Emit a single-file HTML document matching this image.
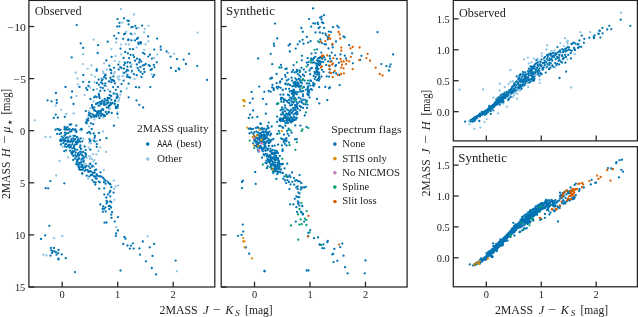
<!DOCTYPE html>
<html><head><meta charset="utf-8"><title>Color-magnitude diagrams</title>
<style>html,body{margin:0;padding:0;background:#fff;} svg{display:block;}</style></head>
<body><svg width="638" height="317" viewBox="0 0 638 317" font-family="'Liberation Serif', 'DejaVu Serif', serif" fill="#222"><line x1="470.5" y1="120.2" x2="474" y2="118.3" stroke="#0173b2" stroke-width="2.10" stroke-linecap="round"/>
<line x1="474" y1="118.3" x2="480.2" y2="114.9" stroke="#0173b2" stroke-width="2.70" stroke-linecap="round"/>
<line x1="480.2" y1="114.9" x2="489.1" y2="109.2" stroke="#0173b2" stroke-width="3.40" stroke-linecap="round"/>
<line x1="489.1" y1="109.2" x2="496.5" y2="103.3" stroke="#0173b2" stroke-width="4.00" stroke-linecap="round"/>
<line x1="496.5" y1="103.3" x2="504" y2="96.9" stroke="#0173b2" stroke-width="4.20" stroke-linecap="round"/>
<line x1="504" y1="96.9" x2="511.4" y2="92.2" stroke="#0173b2" stroke-width="4.00" stroke-linecap="round"/>
<line x1="511.4" y1="92.2" x2="518.8" y2="87.8" stroke="#0173b2" stroke-width="3.50" stroke-linecap="round"/>
<line x1="518.8" y1="87.8" x2="525" y2="84" stroke="#0173b2" stroke-width="2.85" stroke-linecap="round"/>
<line x1="474" y1="265" x2="482" y2="260.5" stroke="#0173b2" stroke-width="2.60" stroke-linecap="round"/>
<line x1="482" y1="260.5" x2="490" y2="254" stroke="#0173b2" stroke-width="3.50" stroke-linecap="round"/>
<line x1="490" y1="254" x2="497" y2="247" stroke="#0173b2" stroke-width="4.00" stroke-linecap="round"/>
<line x1="497" y1="247" x2="505" y2="238.5" stroke="#0173b2" stroke-width="4.10" stroke-linecap="round"/>
<line x1="505" y1="238.5" x2="513" y2="230" stroke="#0173b2" stroke-width="4.35" stroke-linecap="round"/>
<line x1="513" y1="230" x2="521" y2="222.5" stroke="#0173b2" stroke-width="4.50" stroke-linecap="round"/>
<line x1="521" y1="222.5" x2="529" y2="217" stroke="#0173b2" stroke-width="4.50" stroke-linecap="round"/>
<line x1="529" y1="217" x2="536" y2="212" stroke="#0173b2" stroke-width="4.25" stroke-linecap="round"/>
<line x1="536" y1="212" x2="542" y2="208" stroke="#0173b2" stroke-width="3.75" stroke-linecap="round"/>
<circle cx="50.3" cy="137.2" r="1.15" fill="#8dc2e2"/>
<circle cx="79.8" cy="129.8" r="1.15" fill="#8dc2e2"/>
<circle cx="81.2" cy="130.5" r="1.15" fill="#8dc2e2"/>
<circle cx="83.4" cy="138.6" r="1.15" fill="#8dc2e2"/>
<circle cx="78.6" cy="138.3" r="1.15" fill="#8dc2e2"/>
<circle cx="89.0" cy="126.4" r="1.15" fill="#8dc2e2"/>
<circle cx="93.2" cy="139.8" r="1.15" fill="#8dc2e2"/>
<circle cx="95.0" cy="142.0" r="1.15" fill="#8dc2e2"/>
<circle cx="84.6" cy="95.1" r="1.15" fill="#8dc2e2"/>
<circle cx="93.5" cy="101.5" r="1.15" fill="#8dc2e2"/>
<circle cx="90.3" cy="108.2" r="1.15" fill="#8dc2e2"/>
<circle cx="89.1" cy="111.1" r="1.15" fill="#8dc2e2"/>
<circle cx="110.2" cy="102.4" r="1.15" fill="#8dc2e2"/>
<circle cx="118.4" cy="101.2" r="1.15" fill="#8dc2e2"/>
<circle cx="117.4" cy="112.4" r="1.15" fill="#8dc2e2"/>
<circle cx="120.3" cy="94.7" r="1.15" fill="#8dc2e2"/>
<circle cx="62.5" cy="146.8" r="1.15" fill="#8dc2e2"/>
<circle cx="68.1" cy="157.4" r="1.15" fill="#8dc2e2"/>
<circle cx="59.5" cy="161.0" r="1.15" fill="#8dc2e2"/>
<circle cx="89.3" cy="142.7" r="1.15" fill="#8dc2e2"/>
<circle cx="90.9" cy="143.4" r="1.15" fill="#8dc2e2"/>
<circle cx="88.6" cy="147.7" r="1.15" fill="#8dc2e2"/>
<circle cx="92.9" cy="154.2" r="1.15" fill="#8dc2e2"/>
<circle cx="96.4" cy="154.4" r="1.15" fill="#8dc2e2"/>
<circle cx="98.5" cy="151.0" r="1.15" fill="#8dc2e2"/>
<circle cx="100.2" cy="147.4" r="1.15" fill="#8dc2e2"/>
<circle cx="88.5" cy="156.3" r="1.15" fill="#8dc2e2"/>
<circle cx="90.2" cy="156.5" r="1.15" fill="#8dc2e2"/>
<circle cx="94.4" cy="160.1" r="1.15" fill="#8dc2e2"/>
<circle cx="93.5" cy="161.3" r="1.15" fill="#8dc2e2"/>
<circle cx="96.7" cy="141.2" r="1.15" fill="#8dc2e2"/>
<circle cx="84.4" cy="164.1" r="1.15" fill="#8dc2e2"/>
<circle cx="85.4" cy="163.8" r="1.15" fill="#8dc2e2"/>
<circle cx="89.4" cy="164.2" r="1.15" fill="#8dc2e2"/>
<circle cx="93.9" cy="166.4" r="1.15" fill="#8dc2e2"/>
<circle cx="103.8" cy="169.8" r="1.15" fill="#8dc2e2"/>
<circle cx="88.0" cy="178.6" r="1.15" fill="#8dc2e2"/>
<circle cx="90.1" cy="163.3" r="1.15" fill="#8dc2e2"/>
<circle cx="104.1" cy="63.3" r="1.15" fill="#8dc2e2"/>
<circle cx="106.9" cy="69.6" r="1.15" fill="#8dc2e2"/>
<circle cx="103.5" cy="73.2" r="1.15" fill="#8dc2e2"/>
<circle cx="103.1" cy="71.7" r="1.15" fill="#8dc2e2"/>
<circle cx="114.8" cy="71.8" r="1.15" fill="#8dc2e2"/>
<circle cx="114.2" cy="73.4" r="1.15" fill="#8dc2e2"/>
<circle cx="117.6" cy="76.9" r="1.15" fill="#8dc2e2"/>
<circle cx="119.4" cy="76.3" r="1.15" fill="#8dc2e2"/>
<circle cx="118.6" cy="79.5" r="1.15" fill="#8dc2e2"/>
<circle cx="119.4" cy="79.6" r="1.15" fill="#8dc2e2"/>
<circle cx="123.1" cy="72.7" r="1.15" fill="#8dc2e2"/>
<circle cx="122.8" cy="76.0" r="1.15" fill="#8dc2e2"/>
<circle cx="131.6" cy="72.3" r="1.15" fill="#8dc2e2"/>
<circle cx="134.5" cy="79.0" r="1.15" fill="#8dc2e2"/>
<circle cx="127.3" cy="63.4" r="1.15" fill="#8dc2e2"/>
<circle cx="131.6" cy="64.6" r="1.15" fill="#8dc2e2"/>
<circle cx="101.3" cy="78.5" r="1.15" fill="#8dc2e2"/>
<circle cx="108.6" cy="81.6" r="1.15" fill="#8dc2e2"/>
<circle cx="124.3" cy="62.4" r="1.15" fill="#8dc2e2"/>
<circle cx="120.9" cy="9.2" r="1.15" fill="#8dc2e2"/>
<circle cx="93.7" cy="39.7" r="1.15" fill="#8dc2e2"/>
<circle cx="116.2" cy="42.6" r="1.15" fill="#8dc2e2"/>
<circle cx="121.0" cy="44.6" r="1.15" fill="#8dc2e2"/>
<circle cx="134.0" cy="14.5" r="1.15" fill="#8dc2e2"/>
<circle cx="148.5" cy="25.8" r="1.15" fill="#8dc2e2"/>
<circle cx="144.2" cy="32.4" r="1.15" fill="#8dc2e2"/>
<circle cx="132.0" cy="34.6" r="1.15" fill="#8dc2e2"/>
<circle cx="134.7" cy="33.8" r="1.15" fill="#8dc2e2"/>
<circle cx="126.3" cy="31.7" r="1.15" fill="#8dc2e2"/>
<circle cx="138.3" cy="28.0" r="1.15" fill="#8dc2e2"/>
<circle cx="144.8" cy="28.9" r="1.15" fill="#8dc2e2"/>
<circle cx="138.4" cy="37.5" r="1.15" fill="#8dc2e2"/>
<circle cx="128.9" cy="44.5" r="1.15" fill="#8dc2e2"/>
<circle cx="145.6" cy="44.4" r="1.15" fill="#8dc2e2"/>
<circle cx="148.4" cy="41.4" r="1.15" fill="#8dc2e2"/>
<circle cx="197.5" cy="32.6" r="1.15" fill="#8dc2e2"/>
<circle cx="122.2" cy="22.7" r="1.15" fill="#8dc2e2"/>
<circle cx="125.7" cy="44.2" r="1.15" fill="#8dc2e2"/>
<circle cx="83.1" cy="54.2" r="1.15" fill="#8dc2e2"/>
<circle cx="111.4" cy="49.1" r="1.15" fill="#8dc2e2"/>
<circle cx="115.5" cy="56.1" r="1.15" fill="#8dc2e2"/>
<circle cx="114.7" cy="60.9" r="1.15" fill="#8dc2e2"/>
<circle cx="82.9" cy="64.1" r="1.15" fill="#8dc2e2"/>
<circle cx="91.5" cy="65.3" r="1.15" fill="#8dc2e2"/>
<circle cx="119.4" cy="61.8" r="1.15" fill="#8dc2e2"/>
<circle cx="87.7" cy="68.8" r="1.15" fill="#8dc2e2"/>
<circle cx="75.7" cy="72.7" r="1.15" fill="#8dc2e2"/>
<circle cx="91.5" cy="74.8" r="1.15" fill="#8dc2e2"/>
<circle cx="95.1" cy="76.8" r="1.15" fill="#8dc2e2"/>
<circle cx="77.3" cy="78.6" r="1.15" fill="#8dc2e2"/>
<circle cx="94.6" cy="82.3" r="1.15" fill="#8dc2e2"/>
<circle cx="77.7" cy="84.5" r="1.15" fill="#8dc2e2"/>
<circle cx="90.0" cy="87.6" r="1.15" fill="#8dc2e2"/>
<circle cx="96.9" cy="88.9" r="1.15" fill="#8dc2e2"/>
<circle cx="106.1" cy="86.0" r="1.15" fill="#8dc2e2"/>
<circle cx="108.0" cy="89.7" r="1.15" fill="#8dc2e2"/>
<circle cx="98.9" cy="93.3" r="1.15" fill="#8dc2e2"/>
<circle cx="121.1" cy="54.3" r="1.15" fill="#8dc2e2"/>
<circle cx="136.7" cy="47.4" r="1.15" fill="#8dc2e2"/>
<circle cx="157.2" cy="54.4" r="1.15" fill="#8dc2e2"/>
<circle cx="154.2" cy="58.0" r="1.15" fill="#8dc2e2"/>
<circle cx="168.4" cy="52.9" r="1.15" fill="#8dc2e2"/>
<circle cx="174.2" cy="53.9" r="1.15" fill="#8dc2e2"/>
<circle cx="151.7" cy="74.4" r="1.15" fill="#8dc2e2"/>
<circle cx="126.7" cy="88.5" r="1.15" fill="#8dc2e2"/>
<circle cx="144.1" cy="49.8" r="1.15" fill="#8dc2e2"/>
<circle cx="34.7" cy="120.3" r="1.15" fill="#8dc2e2"/>
<circle cx="61.1" cy="109.8" r="1.15" fill="#8dc2e2"/>
<circle cx="66.3" cy="114.0" r="1.15" fill="#8dc2e2"/>
<circle cx="73.7" cy="113.4" r="1.15" fill="#8dc2e2"/>
<circle cx="55.7" cy="105.7" r="1.15" fill="#8dc2e2"/>
<circle cx="76.5" cy="96.1" r="1.15" fill="#8dc2e2"/>
<circle cx="45.4" cy="136.9" r="1.15" fill="#8dc2e2"/>
<circle cx="118.1" cy="117.6" r="1.15" fill="#8dc2e2"/>
<circle cx="103.1" cy="131.4" r="1.15" fill="#8dc2e2"/>
<circle cx="56.2" cy="175.5" r="1.15" fill="#8dc2e2"/>
<circle cx="106.0" cy="151.9" r="1.15" fill="#8dc2e2"/>
<circle cx="113.8" cy="180.6" r="1.15" fill="#8dc2e2"/>
<circle cx="118.1" cy="185.6" r="1.15" fill="#8dc2e2"/>
<circle cx="115.5" cy="186.5" r="1.15" fill="#8dc2e2"/>
<circle cx="114.1" cy="189.0" r="1.15" fill="#8dc2e2"/>
<circle cx="114.4" cy="199.8" r="1.15" fill="#8dc2e2"/>
<circle cx="116.1" cy="227.1" r="1.15" fill="#8dc2e2"/>
<circle cx="147.5" cy="236.3" r="1.15" fill="#8dc2e2"/>
<circle cx="176.9" cy="271.3" r="1.15" fill="#8dc2e2"/>
<circle cx="54.0" cy="238.1" r="1.15" fill="#8dc2e2"/>
<circle cx="62.3" cy="235.9" r="1.15" fill="#8dc2e2"/>
<circle cx="43.5" cy="254.7" r="1.15" fill="#8dc2e2"/>
<circle cx="46.5" cy="255.5" r="1.15" fill="#8dc2e2"/>
<circle cx="114.6" cy="101.3" r="1.15" fill="#8dc2e2"/>
<circle cx="98.4" cy="106.3" r="1.15" fill="#8dc2e2"/>
<circle cx="100.3" cy="106.0" r="1.15" fill="#8dc2e2"/>
<circle cx="119.4" cy="98.1" r="1.15" fill="#8dc2e2"/>
<circle cx="119.0" cy="100.2" r="1.15" fill="#8dc2e2"/>
<circle cx="109.7" cy="108.7" r="1.15" fill="#8dc2e2"/>
<circle cx="106.5" cy="102.3" r="1.15" fill="#8dc2e2"/>
<circle cx="115.2" cy="94.2" r="1.15" fill="#8dc2e2"/>
<circle cx="109.3" cy="109.0" r="1.15" fill="#8dc2e2"/>
<circle cx="107.5" cy="103.9" r="1.15" fill="#8dc2e2"/>
<circle cx="94.4" cy="119.5" r="1.15" fill="#8dc2e2"/>
<circle cx="103.2" cy="117.6" r="1.15" fill="#8dc2e2"/>
<circle cx="91.3" cy="118.0" r="1.15" fill="#8dc2e2"/>
<circle cx="115.6" cy="93.5" r="1.15" fill="#8dc2e2"/>
<circle cx="87.7" cy="171.9" r="1.15" fill="#8dc2e2"/>
<circle cx="77.8" cy="163.0" r="1.15" fill="#8dc2e2"/>
<circle cx="81.6" cy="161.5" r="1.15" fill="#8dc2e2"/>
<circle cx="71.6" cy="152.4" r="1.15" fill="#8dc2e2"/>
<circle cx="73.5" cy="151.0" r="1.15" fill="#8dc2e2"/>
<circle cx="78.9" cy="156.9" r="1.15" fill="#8dc2e2"/>
<circle cx="79.6" cy="165.6" r="1.15" fill="#8dc2e2"/>
<circle cx="86.4" cy="157.9" r="1.15" fill="#8dc2e2"/>
<circle cx="75.4" cy="157.2" r="1.15" fill="#8dc2e2"/>
<circle cx="90.0" cy="158.8" r="1.15" fill="#8dc2e2"/>
<circle cx="72.3" cy="153.8" r="1.15" fill="#8dc2e2"/>
<circle cx="80.0" cy="165.1" r="1.15" fill="#8dc2e2"/>
<circle cx="91.9" cy="158.9" r="1.15" fill="#8dc2e2"/>
<circle cx="92.6" cy="165.6" r="1.15" fill="#8dc2e2"/>
<circle cx="82.0" cy="158.6" r="1.15" fill="#8dc2e2"/>
<circle cx="84.3" cy="167.0" r="1.15" fill="#8dc2e2"/>
<circle cx="55.5" cy="129.7" r="1.15" fill="#0173b2"/>
<circle cx="57.4" cy="128.9" r="1.15" fill="#0173b2"/>
<circle cx="58.9" cy="129.3" r="1.15" fill="#0173b2"/>
<circle cx="59.3" cy="130.2" r="1.15" fill="#0173b2"/>
<circle cx="60.5" cy="129.8" r="1.15" fill="#0173b2"/>
<circle cx="57.2" cy="133.9" r="1.15" fill="#0173b2"/>
<circle cx="59.8" cy="134.1" r="1.15" fill="#0173b2"/>
<circle cx="61.0" cy="133.2" r="1.15" fill="#0173b2"/>
<circle cx="64.6" cy="126.9" r="1.15" fill="#0173b2"/>
<circle cx="65.9" cy="127.9" r="1.15" fill="#0173b2"/>
<circle cx="67.6" cy="127.1" r="1.15" fill="#0173b2"/>
<circle cx="64.5" cy="129.2" r="1.15" fill="#0173b2"/>
<circle cx="65.2" cy="129.5" r="1.15" fill="#0173b2"/>
<circle cx="66.8" cy="129.7" r="1.15" fill="#0173b2"/>
<circle cx="68.1" cy="129.4" r="1.15" fill="#0173b2"/>
<circle cx="69.7" cy="124.7" r="1.15" fill="#0173b2"/>
<circle cx="71.1" cy="124.4" r="1.15" fill="#0173b2"/>
<circle cx="69.6" cy="129.2" r="1.15" fill="#0173b2"/>
<circle cx="71.6" cy="130.1" r="1.15" fill="#0173b2"/>
<circle cx="72.9" cy="129.1" r="1.15" fill="#0173b2"/>
<circle cx="74.6" cy="130.0" r="1.15" fill="#0173b2"/>
<circle cx="76.2" cy="131.1" r="1.15" fill="#0173b2"/>
<circle cx="76.3" cy="132.1" r="1.15" fill="#0173b2"/>
<circle cx="75.4" cy="129.3" r="1.15" fill="#0173b2"/>
<circle cx="76.3" cy="125.6" r="1.15" fill="#0173b2"/>
<circle cx="64.9" cy="132.7" r="1.15" fill="#0173b2"/>
<circle cx="65.5" cy="134.5" r="1.15" fill="#0173b2"/>
<circle cx="66.4" cy="133.3" r="1.15" fill="#0173b2"/>
<circle cx="68.2" cy="133.2" r="1.15" fill="#0173b2"/>
<circle cx="69.8" cy="131.7" r="1.15" fill="#0173b2"/>
<circle cx="71.4" cy="131.4" r="1.15" fill="#0173b2"/>
<circle cx="64.4" cy="135.8" r="1.15" fill="#0173b2"/>
<circle cx="61.7" cy="136.6" r="1.15" fill="#0173b2"/>
<circle cx="63.1" cy="137.8" r="1.15" fill="#0173b2"/>
<circle cx="60.7" cy="139.4" r="1.15" fill="#0173b2"/>
<circle cx="61.9" cy="139.8" r="1.15" fill="#0173b2"/>
<circle cx="64.4" cy="139.5" r="1.15" fill="#0173b2"/>
<circle cx="65.8" cy="137.9" r="1.15" fill="#0173b2"/>
<circle cx="67.0" cy="137.3" r="1.15" fill="#0173b2"/>
<circle cx="68.4" cy="137.7" r="1.15" fill="#0173b2"/>
<circle cx="70.2" cy="136.3" r="1.15" fill="#0173b2"/>
<circle cx="73.5" cy="135.8" r="1.15" fill="#0173b2"/>
<circle cx="75.1" cy="135.9" r="1.15" fill="#0173b2"/>
<circle cx="76.9" cy="137.2" r="1.15" fill="#0173b2"/>
<circle cx="77.2" cy="137.4" r="1.15" fill="#0173b2"/>
<circle cx="73.4" cy="138.5" r="1.15" fill="#0173b2"/>
<circle cx="75.0" cy="139.2" r="1.15" fill="#0173b2"/>
<circle cx="71.7" cy="138.8" r="1.15" fill="#0173b2"/>
<circle cx="68.7" cy="140.7" r="1.15" fill="#0173b2"/>
<circle cx="67.5" cy="140.4" r="1.15" fill="#0173b2"/>
<circle cx="65.4" cy="140.8" r="1.15" fill="#0173b2"/>
<circle cx="68.6" cy="141.8" r="1.15" fill="#0173b2"/>
<circle cx="71.8" cy="140.8" r="1.15" fill="#0173b2"/>
<circle cx="72.8" cy="141.4" r="1.15" fill="#0173b2"/>
<circle cx="76.0" cy="141.8" r="1.15" fill="#0173b2"/>
<circle cx="78.0" cy="139.8" r="1.15" fill="#0173b2"/>
<circle cx="79.0" cy="140.4" r="1.15" fill="#0173b2"/>
<circle cx="80.6" cy="138.5" r="1.15" fill="#0173b2"/>
<circle cx="82.3" cy="141.3" r="1.15" fill="#0173b2"/>
<circle cx="81.2" cy="129.0" r="1.15" fill="#0173b2"/>
<circle cx="81.8" cy="129.3" r="1.15" fill="#0173b2"/>
<circle cx="85.9" cy="122.3" r="1.15" fill="#0173b2"/>
<circle cx="87.3" cy="121.1" r="1.15" fill="#0173b2"/>
<circle cx="86.7" cy="123.3" r="1.15" fill="#0173b2"/>
<circle cx="88.3" cy="120.3" r="1.15" fill="#0173b2"/>
<circle cx="90.9" cy="123.3" r="1.15" fill="#0173b2"/>
<circle cx="93.2" cy="124.2" r="1.15" fill="#0173b2"/>
<circle cx="91.7" cy="129.0" r="1.15" fill="#0173b2"/>
<circle cx="89.3" cy="132.0" r="1.15" fill="#0173b2"/>
<circle cx="87.5" cy="132.9" r="1.15" fill="#0173b2"/>
<circle cx="90.5" cy="133.4" r="1.15" fill="#0173b2"/>
<circle cx="93.8" cy="133.5" r="1.15" fill="#0173b2"/>
<circle cx="95.0" cy="135.9" r="1.15" fill="#0173b2"/>
<circle cx="89.5" cy="139.2" r="1.15" fill="#0173b2"/>
<circle cx="90.5" cy="140.8" r="1.15" fill="#0173b2"/>
<circle cx="94.6" cy="137.8" r="1.15" fill="#0173b2"/>
<circle cx="90.4" cy="99.0" r="1.15" fill="#0173b2"/>
<circle cx="94.1" cy="97.3" r="1.15" fill="#0173b2"/>
<circle cx="95.3" cy="96.5" r="1.15" fill="#0173b2"/>
<circle cx="96.7" cy="97.1" r="1.15" fill="#0173b2"/>
<circle cx="99.2" cy="96.2" r="1.15" fill="#0173b2"/>
<circle cx="99.6" cy="97.9" r="1.15" fill="#0173b2"/>
<circle cx="98.9" cy="94.5" r="1.15" fill="#0173b2"/>
<circle cx="117.5" cy="97.1" r="1.15" fill="#0173b2"/>
<circle cx="115.2" cy="100.9" r="1.15" fill="#0173b2"/>
<circle cx="115.9" cy="108.2" r="1.15" fill="#0173b2"/>
<circle cx="117.4" cy="113.9" r="1.15" fill="#0173b2"/>
<circle cx="111.7" cy="112.9" r="1.15" fill="#0173b2"/>
<circle cx="105.8" cy="104.6" r="1.15" fill="#0173b2"/>
<circle cx="107.7" cy="100.2" r="1.15" fill="#0173b2"/>
<circle cx="106.1" cy="100.5" r="1.15" fill="#0173b2"/>
<circle cx="104.1" cy="101.5" r="1.15" fill="#0173b2"/>
<circle cx="102.1" cy="100.7" r="1.15" fill="#0173b2"/>
<circle cx="101.4" cy="102.2" r="1.15" fill="#0173b2"/>
<circle cx="99.8" cy="102.0" r="1.15" fill="#0173b2"/>
<circle cx="97.8" cy="103.0" r="1.15" fill="#0173b2"/>
<circle cx="96.5" cy="103.7" r="1.15" fill="#0173b2"/>
<circle cx="96.0" cy="104.1" r="1.15" fill="#0173b2"/>
<circle cx="98.8" cy="105.3" r="1.15" fill="#0173b2"/>
<circle cx="100.5" cy="103.9" r="1.15" fill="#0173b2"/>
<circle cx="101.4" cy="103.8" r="1.15" fill="#0173b2"/>
<circle cx="103.6" cy="103.7" r="1.15" fill="#0173b2"/>
<circle cx="104.4" cy="103.0" r="1.15" fill="#0173b2"/>
<circle cx="110.2" cy="105.0" r="1.15" fill="#0173b2"/>
<circle cx="111.1" cy="104.2" r="1.15" fill="#0173b2"/>
<circle cx="112.3" cy="103.0" r="1.15" fill="#0173b2"/>
<circle cx="114.5" cy="103.6" r="1.15" fill="#0173b2"/>
<circle cx="109.0" cy="106.0" r="1.15" fill="#0173b2"/>
<circle cx="92.0" cy="105.2" r="1.15" fill="#0173b2"/>
<circle cx="92.3" cy="106.8" r="1.15" fill="#0173b2"/>
<circle cx="92.8" cy="108.3" r="1.15" fill="#0173b2"/>
<circle cx="94.3" cy="110.0" r="1.15" fill="#0173b2"/>
<circle cx="95.7" cy="111.1" r="1.15" fill="#0173b2"/>
<circle cx="97.1" cy="112.1" r="1.15" fill="#0173b2"/>
<circle cx="98.7" cy="111.4" r="1.15" fill="#0173b2"/>
<circle cx="100.4" cy="111.1" r="1.15" fill="#0173b2"/>
<circle cx="101.7" cy="109.6" r="1.15" fill="#0173b2"/>
<circle cx="103.2" cy="110.0" r="1.15" fill="#0173b2"/>
<circle cx="106.9" cy="107.4" r="1.15" fill="#0173b2"/>
<circle cx="85.8" cy="111.1" r="1.15" fill="#0173b2"/>
<circle cx="89.0" cy="113.1" r="1.15" fill="#0173b2"/>
<circle cx="90.6" cy="113.6" r="1.15" fill="#0173b2"/>
<circle cx="92.5" cy="114.4" r="1.15" fill="#0173b2"/>
<circle cx="93.6" cy="115.1" r="1.15" fill="#0173b2"/>
<circle cx="95.3" cy="116.0" r="1.15" fill="#0173b2"/>
<circle cx="96.3" cy="115.1" r="1.15" fill="#0173b2"/>
<circle cx="97.9" cy="114.1" r="1.15" fill="#0173b2"/>
<circle cx="99.8" cy="113.6" r="1.15" fill="#0173b2"/>
<circle cx="101.1" cy="113.1" r="1.15" fill="#0173b2"/>
<circle cx="102.9" cy="114.3" r="1.15" fill="#0173b2"/>
<circle cx="104.0" cy="115.0" r="1.15" fill="#0173b2"/>
<circle cx="88.7" cy="115.2" r="1.15" fill="#0173b2"/>
<circle cx="90.1" cy="115.8" r="1.15" fill="#0173b2"/>
<circle cx="91.6" cy="116.9" r="1.15" fill="#0173b2"/>
<circle cx="94.0" cy="116.8" r="1.15" fill="#0173b2"/>
<circle cx="96.4" cy="116.3" r="1.15" fill="#0173b2"/>
<circle cx="106.9" cy="114.0" r="1.15" fill="#0173b2"/>
<circle cx="108.6" cy="112.5" r="1.15" fill="#0173b2"/>
<circle cx="98.5" cy="115.7" r="1.15" fill="#0173b2"/>
<circle cx="101.4" cy="115.5" r="1.15" fill="#0173b2"/>
<circle cx="105.0" cy="115.9" r="1.15" fill="#0173b2"/>
<circle cx="60.1" cy="140.6" r="1.15" fill="#0173b2"/>
<circle cx="61.3" cy="141.3" r="1.15" fill="#0173b2"/>
<circle cx="63.2" cy="140.3" r="1.15" fill="#0173b2"/>
<circle cx="64.5" cy="141.4" r="1.15" fill="#0173b2"/>
<circle cx="65.4" cy="140.6" r="1.15" fill="#0173b2"/>
<circle cx="67.4" cy="141.5" r="1.15" fill="#0173b2"/>
<circle cx="68.4" cy="141.2" r="1.15" fill="#0173b2"/>
<circle cx="70.5" cy="141.9" r="1.15" fill="#0173b2"/>
<circle cx="71.3" cy="140.5" r="1.15" fill="#0173b2"/>
<circle cx="72.7" cy="141.7" r="1.15" fill="#0173b2"/>
<circle cx="74.4" cy="140.4" r="1.15" fill="#0173b2"/>
<circle cx="76.0" cy="142.5" r="1.15" fill="#0173b2"/>
<circle cx="77.8" cy="141.2" r="1.15" fill="#0173b2"/>
<circle cx="80.1" cy="141.8" r="1.15" fill="#0173b2"/>
<circle cx="60.9" cy="144.5" r="1.15" fill="#0173b2"/>
<circle cx="63.3" cy="143.2" r="1.15" fill="#0173b2"/>
<circle cx="65.3" cy="144.3" r="1.15" fill="#0173b2"/>
<circle cx="66.2" cy="144.0" r="1.15" fill="#0173b2"/>
<circle cx="68.2" cy="145.4" r="1.15" fill="#0173b2"/>
<circle cx="69.1" cy="144.7" r="1.15" fill="#0173b2"/>
<circle cx="70.6" cy="145.4" r="1.15" fill="#0173b2"/>
<circle cx="72.4" cy="144.2" r="1.15" fill="#0173b2"/>
<circle cx="73.9" cy="146.2" r="1.15" fill="#0173b2"/>
<circle cx="75.1" cy="144.7" r="1.15" fill="#0173b2"/>
<circle cx="76.8" cy="144.1" r="1.15" fill="#0173b2"/>
<circle cx="77.9" cy="142.6" r="1.15" fill="#0173b2"/>
<circle cx="64.8" cy="146.3" r="1.15" fill="#0173b2"/>
<circle cx="66.4" cy="147.1" r="1.15" fill="#0173b2"/>
<circle cx="68.3" cy="146.3" r="1.15" fill="#0173b2"/>
<circle cx="69.5" cy="147.7" r="1.15" fill="#0173b2"/>
<circle cx="70.8" cy="146.8" r="1.15" fill="#0173b2"/>
<circle cx="72.2" cy="148.3" r="1.15" fill="#0173b2"/>
<circle cx="74.1" cy="148.0" r="1.15" fill="#0173b2"/>
<circle cx="75.0" cy="149.4" r="1.15" fill="#0173b2"/>
<circle cx="77.2" cy="149.8" r="1.15" fill="#0173b2"/>
<circle cx="80.0" cy="147.2" r="1.15" fill="#0173b2"/>
<circle cx="81.1" cy="149.0" r="1.15" fill="#0173b2"/>
<circle cx="84.7" cy="146.5" r="1.15" fill="#0173b2"/>
<circle cx="85.6" cy="149.9" r="1.15" fill="#0173b2"/>
<circle cx="64.3" cy="151.2" r="1.15" fill="#0173b2"/>
<circle cx="66.1" cy="150.3" r="1.15" fill="#0173b2"/>
<circle cx="70.2" cy="150.7" r="1.15" fill="#0173b2"/>
<circle cx="71.3" cy="152.7" r="1.15" fill="#0173b2"/>
<circle cx="72.8" cy="152.6" r="1.15" fill="#0173b2"/>
<circle cx="74.4" cy="151.3" r="1.15" fill="#0173b2"/>
<circle cx="75.7" cy="152.6" r="1.15" fill="#0173b2"/>
<circle cx="77.8" cy="153.9" r="1.15" fill="#0173b2"/>
<circle cx="78.7" cy="152.8" r="1.15" fill="#0173b2"/>
<circle cx="80.2" cy="151.6" r="1.15" fill="#0173b2"/>
<circle cx="81.5" cy="152.3" r="1.15" fill="#0173b2"/>
<circle cx="83.1" cy="152.0" r="1.15" fill="#0173b2"/>
<circle cx="85.2" cy="153.1" r="1.15" fill="#0173b2"/>
<circle cx="86.0" cy="154.2" r="1.15" fill="#0173b2"/>
<circle cx="72.2" cy="154.4" r="1.15" fill="#0173b2"/>
<circle cx="73.4" cy="155.9" r="1.15" fill="#0173b2"/>
<circle cx="75.3" cy="155.2" r="1.15" fill="#0173b2"/>
<circle cx="76.5" cy="156.7" r="1.15" fill="#0173b2"/>
<circle cx="77.8" cy="155.7" r="1.15" fill="#0173b2"/>
<circle cx="79.3" cy="155.1" r="1.15" fill="#0173b2"/>
<circle cx="80.7" cy="154.1" r="1.15" fill="#0173b2"/>
<circle cx="82.4" cy="155.7" r="1.15" fill="#0173b2"/>
<circle cx="84.1" cy="157.4" r="1.15" fill="#0173b2"/>
<circle cx="85.7" cy="156.1" r="1.15" fill="#0173b2"/>
<circle cx="73.3" cy="159.9" r="1.15" fill="#0173b2"/>
<circle cx="75.2" cy="158.7" r="1.15" fill="#0173b2"/>
<circle cx="77.2" cy="160.0" r="1.15" fill="#0173b2"/>
<circle cx="78.4" cy="159.0" r="1.15" fill="#0173b2"/>
<circle cx="79.3" cy="158.4" r="1.15" fill="#0173b2"/>
<circle cx="81.5" cy="159.7" r="1.15" fill="#0173b2"/>
<circle cx="82.8" cy="158.4" r="1.15" fill="#0173b2"/>
<circle cx="83.7" cy="160.3" r="1.15" fill="#0173b2"/>
<circle cx="76.8" cy="162.1" r="1.15" fill="#0173b2"/>
<circle cx="79.2" cy="162.8" r="1.15" fill="#0173b2"/>
<circle cx="81.2" cy="162.1" r="1.15" fill="#0173b2"/>
<circle cx="83.5" cy="161.9" r="1.15" fill="#0173b2"/>
<circle cx="90.3" cy="149.7" r="1.15" fill="#0173b2"/>
<circle cx="96.8" cy="144.2" r="1.15" fill="#0173b2"/>
<circle cx="96.7" cy="146.8" r="1.15" fill="#0173b2"/>
<circle cx="89.9" cy="140.8" r="1.15" fill="#0173b2"/>
<circle cx="94.3" cy="140.9" r="1.15" fill="#0173b2"/>
<circle cx="80.4" cy="145.4" r="1.15" fill="#0173b2"/>
<circle cx="76.1" cy="163.9" r="1.15" fill="#0173b2"/>
<circle cx="77.6" cy="165.0" r="1.15" fill="#0173b2"/>
<circle cx="78.9" cy="164.4" r="1.15" fill="#0173b2"/>
<circle cx="80.3" cy="163.4" r="1.15" fill="#0173b2"/>
<circle cx="82.1" cy="164.9" r="1.15" fill="#0173b2"/>
<circle cx="78.6" cy="167.0" r="1.15" fill="#0173b2"/>
<circle cx="79.2" cy="167.3" r="1.15" fill="#0173b2"/>
<circle cx="81.3" cy="167.0" r="1.15" fill="#0173b2"/>
<circle cx="82.5" cy="165.7" r="1.15" fill="#0173b2"/>
<circle cx="83.7" cy="167.8" r="1.15" fill="#0173b2"/>
<circle cx="85.2" cy="166.7" r="1.15" fill="#0173b2"/>
<circle cx="86.5" cy="165.9" r="1.15" fill="#0173b2"/>
<circle cx="88.7" cy="166.3" r="1.15" fill="#0173b2"/>
<circle cx="90.1" cy="168.1" r="1.15" fill="#0173b2"/>
<circle cx="79.2" cy="169.0" r="1.15" fill="#0173b2"/>
<circle cx="80.1" cy="169.9" r="1.15" fill="#0173b2"/>
<circle cx="81.8" cy="169.8" r="1.15" fill="#0173b2"/>
<circle cx="82.8" cy="169.5" r="1.15" fill="#0173b2"/>
<circle cx="84.6" cy="170.8" r="1.15" fill="#0173b2"/>
<circle cx="85.8" cy="170.1" r="1.15" fill="#0173b2"/>
<circle cx="87.4" cy="169.8" r="1.15" fill="#0173b2"/>
<circle cx="88.6" cy="171.2" r="1.15" fill="#0173b2"/>
<circle cx="90.8" cy="171.4" r="1.15" fill="#0173b2"/>
<circle cx="92.3" cy="172.6" r="1.15" fill="#0173b2"/>
<circle cx="93.8" cy="173.0" r="1.15" fill="#0173b2"/>
<circle cx="94.7" cy="172.3" r="1.15" fill="#0173b2"/>
<circle cx="82.2" cy="173.2" r="1.15" fill="#0173b2"/>
<circle cx="82.4" cy="173.8" r="1.15" fill="#0173b2"/>
<circle cx="86.7" cy="175.7" r="1.15" fill="#0173b2"/>
<circle cx="89.4" cy="176.4" r="1.15" fill="#0173b2"/>
<circle cx="91.0" cy="175.0" r="1.15" fill="#0173b2"/>
<circle cx="92.4" cy="175.1" r="1.15" fill="#0173b2"/>
<circle cx="94.1" cy="176.5" r="1.15" fill="#0173b2"/>
<circle cx="95.5" cy="176.5" r="1.15" fill="#0173b2"/>
<circle cx="96.6" cy="174.2" r="1.15" fill="#0173b2"/>
<circle cx="97.1" cy="175.7" r="1.15" fill="#0173b2"/>
<circle cx="98.9" cy="176.1" r="1.15" fill="#0173b2"/>
<circle cx="100.1" cy="176.4" r="1.15" fill="#0173b2"/>
<circle cx="101.6" cy="176.7" r="1.15" fill="#0173b2"/>
<circle cx="95.8" cy="178.4" r="1.15" fill="#0173b2"/>
<circle cx="96.8" cy="178.6" r="1.15" fill="#0173b2"/>
<circle cx="103.2" cy="177.9" r="1.15" fill="#0173b2"/>
<circle cx="104.3" cy="179.5" r="1.15" fill="#0173b2"/>
<circle cx="105.5" cy="180.6" r="1.15" fill="#0173b2"/>
<circle cx="107.6" cy="181.6" r="1.15" fill="#0173b2"/>
<circle cx="108.8" cy="183.1" r="1.15" fill="#0173b2"/>
<circle cx="110.1" cy="183.9" r="1.15" fill="#0173b2"/>
<circle cx="92.4" cy="180.1" r="1.15" fill="#0173b2"/>
<circle cx="93.9" cy="182.2" r="1.15" fill="#0173b2"/>
<circle cx="95.6" cy="182.3" r="1.15" fill="#0173b2"/>
<circle cx="98.8" cy="181.6" r="1.15" fill="#0173b2"/>
<circle cx="99.9" cy="182.3" r="1.15" fill="#0173b2"/>
<circle cx="104.0" cy="182.2" r="1.15" fill="#0173b2"/>
<circle cx="105.6" cy="183.7" r="1.15" fill="#0173b2"/>
<circle cx="95.3" cy="184.5" r="1.15" fill="#0173b2"/>
<circle cx="92.0" cy="166.3" r="1.15" fill="#0173b2"/>
<circle cx="95.8" cy="163.6" r="1.15" fill="#0173b2"/>
<circle cx="96.2" cy="169.6" r="1.15" fill="#0173b2"/>
<circle cx="100.5" cy="172.3" r="1.15" fill="#0173b2"/>
<circle cx="110.4" cy="184.6" r="1.15" fill="#0173b2"/>
<circle cx="109.4" cy="65.7" r="1.15" fill="#0173b2"/>
<circle cx="114.1" cy="67.8" r="1.15" fill="#0173b2"/>
<circle cx="110.2" cy="69.5" r="1.15" fill="#0173b2"/>
<circle cx="111.2" cy="70.4" r="1.15" fill="#0173b2"/>
<circle cx="111.2" cy="73.2" r="1.15" fill="#0173b2"/>
<circle cx="118.3" cy="64.7" r="1.15" fill="#0173b2"/>
<circle cx="118.7" cy="69.4" r="1.15" fill="#0173b2"/>
<circle cx="120.3" cy="67.2" r="1.15" fill="#0173b2"/>
<circle cx="121.4" cy="68.0" r="1.15" fill="#0173b2"/>
<circle cx="124.1" cy="65.1" r="1.15" fill="#0173b2"/>
<circle cx="123.9" cy="68.6" r="1.15" fill="#0173b2"/>
<circle cx="125.0" cy="63.0" r="1.15" fill="#0173b2"/>
<circle cx="127.3" cy="66.7" r="1.15" fill="#0173b2"/>
<circle cx="127.0" cy="69.8" r="1.15" fill="#0173b2"/>
<circle cx="128.0" cy="70.5" r="1.15" fill="#0173b2"/>
<circle cx="126.2" cy="71.6" r="1.15" fill="#0173b2"/>
<circle cx="130.8" cy="66.7" r="1.15" fill="#0173b2"/>
<circle cx="131.9" cy="70.8" r="1.15" fill="#0173b2"/>
<circle cx="127.5" cy="74.8" r="1.15" fill="#0173b2"/>
<circle cx="126.9" cy="76.8" r="1.15" fill="#0173b2"/>
<circle cx="128.8" cy="77.2" r="1.15" fill="#0173b2"/>
<circle cx="130.2" cy="77.7" r="1.15" fill="#0173b2"/>
<circle cx="124.3" cy="72.9" r="1.15" fill="#0173b2"/>
<circle cx="133.9" cy="74.1" r="1.15" fill="#0173b2"/>
<circle cx="136.7" cy="75.2" r="1.15" fill="#0173b2"/>
<circle cx="136.8" cy="64.5" r="1.15" fill="#0173b2"/>
<circle cx="137.7" cy="68.0" r="1.15" fill="#0173b2"/>
<circle cx="140.6" cy="71.9" r="1.15" fill="#0173b2"/>
<circle cx="141.5" cy="76.9" r="1.15" fill="#0173b2"/>
<circle cx="138.9" cy="70.3" r="1.15" fill="#0173b2"/>
<circle cx="140.5" cy="67.0" r="1.15" fill="#0173b2"/>
<circle cx="143.0" cy="65.4" r="1.15" fill="#0173b2"/>
<circle cx="144.5" cy="65.1" r="1.15" fill="#0173b2"/>
<circle cx="145.7" cy="63.9" r="1.15" fill="#0173b2"/>
<circle cx="144.0" cy="69.1" r="1.15" fill="#0173b2"/>
<circle cx="144.5" cy="71.9" r="1.15" fill="#0173b2"/>
<circle cx="142.6" cy="73.8" r="1.15" fill="#0173b2"/>
<circle cx="105.6" cy="74.7" r="1.15" fill="#0173b2"/>
<circle cx="105.1" cy="75.5" r="1.15" fill="#0173b2"/>
<circle cx="104.1" cy="77.2" r="1.15" fill="#0173b2"/>
<circle cx="106.0" cy="78.4" r="1.15" fill="#0173b2"/>
<circle cx="102.6" cy="79.3" r="1.15" fill="#0173b2"/>
<circle cx="101.9" cy="80.6" r="1.15" fill="#0173b2"/>
<circle cx="101.1" cy="82.6" r="1.15" fill="#0173b2"/>
<circle cx="102.5" cy="83.7" r="1.15" fill="#0173b2"/>
<circle cx="105.4" cy="83.4" r="1.15" fill="#0173b2"/>
<circle cx="110.4" cy="77.7" r="1.15" fill="#0173b2"/>
<circle cx="113.4" cy="76.4" r="1.15" fill="#0173b2"/>
<circle cx="109.1" cy="81.3" r="1.15" fill="#0173b2"/>
<circle cx="111.1" cy="79.7" r="1.15" fill="#0173b2"/>
<circle cx="112.5" cy="80.0" r="1.15" fill="#0173b2"/>
<circle cx="113.7" cy="80.7" r="1.15" fill="#0173b2"/>
<circle cx="114.2" cy="81.1" r="1.15" fill="#0173b2"/>
<circle cx="111.4" cy="82.2" r="1.15" fill="#0173b2"/>
<circle cx="114.9" cy="83.4" r="1.15" fill="#0173b2"/>
<circle cx="123.6" cy="80.6" r="1.15" fill="#0173b2"/>
<circle cx="121.6" cy="84.1" r="1.15" fill="#0173b2"/>
<circle cx="128.6" cy="83.7" r="1.15" fill="#0173b2"/>
<circle cx="130.1" cy="62.7" r="1.15" fill="#0173b2"/>
<circle cx="139.1" cy="62.4" r="1.15" fill="#0173b2"/>
<circle cx="76.7" cy="25.1" r="1.15" fill="#0173b2"/>
<circle cx="117.5" cy="19.1" r="1.15" fill="#0173b2"/>
<circle cx="119.5" cy="22.8" r="1.15" fill="#0173b2"/>
<circle cx="117.2" cy="26.6" r="1.15" fill="#0173b2"/>
<circle cx="119.4" cy="26.3" r="1.15" fill="#0173b2"/>
<circle cx="118.6" cy="33.1" r="1.15" fill="#0173b2"/>
<circle cx="114.2" cy="35.8" r="1.15" fill="#0173b2"/>
<circle cx="116.4" cy="38.6" r="1.15" fill="#0173b2"/>
<circle cx="80.7" cy="43.4" r="1.15" fill="#0173b2"/>
<circle cx="98.1" cy="45.2" r="1.15" fill="#0173b2"/>
<circle cx="107.7" cy="41.7" r="1.15" fill="#0173b2"/>
<circle cx="124.0" cy="18.4" r="1.15" fill="#0173b2"/>
<circle cx="127.5" cy="20.7" r="1.15" fill="#0173b2"/>
<circle cx="128.8" cy="20.9" r="1.15" fill="#0173b2"/>
<circle cx="128.6" cy="24.3" r="1.15" fill="#0173b2"/>
<circle cx="131.4" cy="27.3" r="1.15" fill="#0173b2"/>
<circle cx="132.7" cy="26.8" r="1.15" fill="#0173b2"/>
<circle cx="135.3" cy="25.8" r="1.15" fill="#0173b2"/>
<circle cx="136.3" cy="28.3" r="1.15" fill="#0173b2"/>
<circle cx="142.1" cy="25.6" r="1.15" fill="#0173b2"/>
<circle cx="124.1" cy="34.2" r="1.15" fill="#0173b2"/>
<circle cx="125.2" cy="33.6" r="1.15" fill="#0173b2"/>
<circle cx="130.7" cy="33.7" r="1.15" fill="#0173b2"/>
<circle cx="123.2" cy="38.8" r="1.15" fill="#0173b2"/>
<circle cx="128.5" cy="39.5" r="1.15" fill="#0173b2"/>
<circle cx="128.1" cy="40.1" r="1.15" fill="#0173b2"/>
<circle cx="131.4" cy="40.3" r="1.15" fill="#0173b2"/>
<circle cx="134.9" cy="40.4" r="1.15" fill="#0173b2"/>
<circle cx="136.9" cy="39.0" r="1.15" fill="#0173b2"/>
<circle cx="137.7" cy="38.2" r="1.15" fill="#0173b2"/>
<circle cx="138.4" cy="42.7" r="1.15" fill="#0173b2"/>
<circle cx="140.2" cy="42.6" r="1.15" fill="#0173b2"/>
<circle cx="140.8" cy="42.2" r="1.15" fill="#0173b2"/>
<circle cx="138.6" cy="44.1" r="1.15" fill="#0173b2"/>
<circle cx="140.7" cy="43.6" r="1.15" fill="#0173b2"/>
<circle cx="148.2" cy="36.3" r="1.15" fill="#0173b2"/>
<circle cx="157.1" cy="38.6" r="1.15" fill="#0173b2"/>
<circle cx="160.7" cy="46.7" r="1.15" fill="#0173b2"/>
<circle cx="83.2" cy="47.9" r="1.15" fill="#0173b2"/>
<circle cx="97.7" cy="53.0" r="1.15" fill="#0173b2"/>
<circle cx="71.7" cy="57.4" r="1.15" fill="#0173b2"/>
<circle cx="111.6" cy="56.8" r="1.15" fill="#0173b2"/>
<circle cx="120.5" cy="48.6" r="1.15" fill="#0173b2"/>
<circle cx="106.3" cy="60.5" r="1.15" fill="#0173b2"/>
<circle cx="96.8" cy="69.5" r="1.15" fill="#0173b2"/>
<circle cx="96.6" cy="70.8" r="1.15" fill="#0173b2"/>
<circle cx="83.3" cy="75.0" r="1.15" fill="#0173b2"/>
<circle cx="98.6" cy="79.6" r="1.15" fill="#0173b2"/>
<circle cx="83.2" cy="81.8" r="1.15" fill="#0173b2"/>
<circle cx="89.2" cy="82.0" r="1.15" fill="#0173b2"/>
<circle cx="88.4" cy="86.0" r="1.15" fill="#0173b2"/>
<circle cx="86.2" cy="88.1" r="1.15" fill="#0173b2"/>
<circle cx="87.2" cy="89.9" r="1.15" fill="#0173b2"/>
<circle cx="93.4" cy="89.8" r="1.15" fill="#0173b2"/>
<circle cx="96.9" cy="82.9" r="1.15" fill="#0173b2"/>
<circle cx="98.9" cy="84.7" r="1.15" fill="#0173b2"/>
<circle cx="100.7" cy="87.3" r="1.15" fill="#0173b2"/>
<circle cx="104.6" cy="85.6" r="1.15" fill="#0173b2"/>
<circle cx="102.9" cy="88.1" r="1.15" fill="#0173b2"/>
<circle cx="100.2" cy="90.8" r="1.15" fill="#0173b2"/>
<circle cx="104.6" cy="90.7" r="1.15" fill="#0173b2"/>
<circle cx="113.1" cy="87.1" r="1.15" fill="#0173b2"/>
<circle cx="115.8" cy="89.8" r="1.15" fill="#0173b2"/>
<circle cx="117.9" cy="86.9" r="1.15" fill="#0173b2"/>
<circle cx="65.5" cy="87.0" r="1.15" fill="#0173b2"/>
<circle cx="72.1" cy="91.5" r="1.15" fill="#0173b2"/>
<circle cx="79.5" cy="86.9" r="1.15" fill="#0173b2"/>
<circle cx="55.9" cy="93.0" r="1.15" fill="#0173b2"/>
<circle cx="110.2" cy="91.6" r="1.15" fill="#0173b2"/>
<circle cx="120.9" cy="91.4" r="1.15" fill="#0173b2"/>
<circle cx="129.9" cy="49.1" r="1.15" fill="#0173b2"/>
<circle cx="133.0" cy="49.2" r="1.15" fill="#0173b2"/>
<circle cx="125.2" cy="52.0" r="1.15" fill="#0173b2"/>
<circle cx="127.9" cy="53.3" r="1.15" fill="#0173b2"/>
<circle cx="130.6" cy="54.8" r="1.15" fill="#0173b2"/>
<circle cx="133.3" cy="55.1" r="1.15" fill="#0173b2"/>
<circle cx="134.0" cy="57.1" r="1.15" fill="#0173b2"/>
<circle cx="129.1" cy="58.1" r="1.15" fill="#0173b2"/>
<circle cx="123.6" cy="58.0" r="1.15" fill="#0173b2"/>
<circle cx="127.6" cy="62.1" r="1.15" fill="#0173b2"/>
<circle cx="135.0" cy="60.7" r="1.15" fill="#0173b2"/>
<circle cx="136.9" cy="58.7" r="1.15" fill="#0173b2"/>
<circle cx="140.1" cy="60.1" r="1.15" fill="#0173b2"/>
<circle cx="141.3" cy="61.6" r="1.15" fill="#0173b2"/>
<circle cx="139.4" cy="59.3" r="1.15" fill="#0173b2"/>
<circle cx="142.9" cy="52.8" r="1.15" fill="#0173b2"/>
<circle cx="144.5" cy="53.9" r="1.15" fill="#0173b2"/>
<circle cx="148.2" cy="56.6" r="1.15" fill="#0173b2"/>
<circle cx="150.0" cy="54.7" r="1.15" fill="#0173b2"/>
<circle cx="151.9" cy="58.6" r="1.15" fill="#0173b2"/>
<circle cx="154.2" cy="49.6" r="1.15" fill="#0173b2"/>
<circle cx="160.8" cy="49.7" r="1.15" fill="#0173b2"/>
<circle cx="156.8" cy="62.3" r="1.15" fill="#0173b2"/>
<circle cx="153.8" cy="64.9" r="1.15" fill="#0173b2"/>
<circle cx="154.4" cy="67.3" r="1.15" fill="#0173b2"/>
<circle cx="149.8" cy="66.0" r="1.15" fill="#0173b2"/>
<circle cx="151.8" cy="69.2" r="1.15" fill="#0173b2"/>
<circle cx="148.7" cy="65.1" r="1.15" fill="#0173b2"/>
<circle cx="150.7" cy="69.9" r="1.15" fill="#0173b2"/>
<circle cx="153.0" cy="76.8" r="1.15" fill="#0173b2"/>
<circle cx="154.2" cy="75.0" r="1.15" fill="#0173b2"/>
<circle cx="135.9" cy="87.2" r="1.15" fill="#0173b2"/>
<circle cx="139.2" cy="87.4" r="1.15" fill="#0173b2"/>
<circle cx="150.3" cy="87.1" r="1.15" fill="#0173b2"/>
<circle cx="166.6" cy="51.4" r="1.15" fill="#0173b2"/>
<circle cx="170.6" cy="56.6" r="1.15" fill="#0173b2"/>
<circle cx="176.9" cy="59.1" r="1.15" fill="#0173b2"/>
<circle cx="183.6" cy="59.6" r="1.15" fill="#0173b2"/>
<circle cx="189.1" cy="53.8" r="1.15" fill="#0173b2"/>
<circle cx="186.0" cy="64.0" r="1.15" fill="#0173b2"/>
<circle cx="197.2" cy="66.1" r="1.15" fill="#0173b2"/>
<circle cx="171.0" cy="67.9" r="1.15" fill="#0173b2"/>
<circle cx="175.8" cy="71.0" r="1.15" fill="#0173b2"/>
<circle cx="179.3" cy="69.4" r="1.15" fill="#0173b2"/>
<circle cx="178.7" cy="68.4" r="1.15" fill="#0173b2"/>
<circle cx="207.0" cy="79.9" r="1.15" fill="#0173b2"/>
<circle cx="47.6" cy="100.3" r="1.15" fill="#0173b2"/>
<circle cx="51.5" cy="101.3" r="1.15" fill="#0173b2"/>
<circle cx="56.7" cy="100.2" r="1.15" fill="#0173b2"/>
<circle cx="56.8" cy="102.9" r="1.15" fill="#0173b2"/>
<circle cx="71.3" cy="97.5" r="1.15" fill="#0173b2"/>
<circle cx="73.5" cy="104.0" r="1.15" fill="#0173b2"/>
<circle cx="55.7" cy="114.6" r="1.15" fill="#0173b2"/>
<circle cx="53.8" cy="117.9" r="1.15" fill="#0173b2"/>
<circle cx="57.9" cy="117.7" r="1.15" fill="#0173b2"/>
<circle cx="64.8" cy="116.9" r="1.15" fill="#0173b2"/>
<circle cx="113.9" cy="125.7" r="1.15" fill="#0173b2"/>
<circle cx="98.9" cy="132.9" r="1.15" fill="#0173b2"/>
<circle cx="100.0" cy="140.1" r="1.15" fill="#0173b2"/>
<circle cx="106.5" cy="138.2" r="1.15" fill="#0173b2"/>
<circle cx="128.7" cy="97.3" r="1.15" fill="#0173b2"/>
<circle cx="136.5" cy="100.4" r="1.15" fill="#0173b2"/>
<circle cx="139.3" cy="104.8" r="1.15" fill="#0173b2"/>
<circle cx="143.1" cy="107.5" r="1.15" fill="#0173b2"/>
<circle cx="50.3" cy="181.1" r="1.15" fill="#0173b2"/>
<circle cx="64.3" cy="183.3" r="1.15" fill="#0173b2"/>
<circle cx="111.4" cy="187.2" r="1.15" fill="#0173b2"/>
<circle cx="99.2" cy="188.7" r="1.15" fill="#0173b2"/>
<circle cx="104.2" cy="188.3" r="1.15" fill="#0173b2"/>
<circle cx="110.3" cy="191.0" r="1.15" fill="#0173b2"/>
<circle cx="109.6" cy="192.5" r="1.15" fill="#0173b2"/>
<circle cx="113.6" cy="192.6" r="1.15" fill="#0173b2"/>
<circle cx="104.3" cy="194.6" r="1.15" fill="#0173b2"/>
<circle cx="107.9" cy="194.4" r="1.15" fill="#0173b2"/>
<circle cx="110.3" cy="196.3" r="1.15" fill="#0173b2"/>
<circle cx="106.3" cy="197.5" r="1.15" fill="#0173b2"/>
<circle cx="106.6" cy="200.9" r="1.15" fill="#0173b2"/>
<circle cx="107.3" cy="201.9" r="1.15" fill="#0173b2"/>
<circle cx="110.2" cy="201.4" r="1.15" fill="#0173b2"/>
<circle cx="111.3" cy="202.2" r="1.15" fill="#0173b2"/>
<circle cx="106.6" cy="203.5" r="1.15" fill="#0173b2"/>
<circle cx="100.3" cy="204.5" r="1.15" fill="#0173b2"/>
<circle cx="103.1" cy="206.5" r="1.15" fill="#0173b2"/>
<circle cx="105.4" cy="207.3" r="1.15" fill="#0173b2"/>
<circle cx="108.8" cy="206.2" r="1.15" fill="#0173b2"/>
<circle cx="109.9" cy="206.0" r="1.15" fill="#0173b2"/>
<circle cx="111.1" cy="207.5" r="1.15" fill="#0173b2"/>
<circle cx="109.3" cy="209.2" r="1.15" fill="#0173b2"/>
<circle cx="102.6" cy="208.8" r="1.15" fill="#0173b2"/>
<circle cx="104.1" cy="209.0" r="1.15" fill="#0173b2"/>
<circle cx="102.9" cy="211.7" r="1.15" fill="#0173b2"/>
<circle cx="105.7" cy="211.5" r="1.15" fill="#0173b2"/>
<circle cx="112.0" cy="212.2" r="1.15" fill="#0173b2"/>
<circle cx="111.3" cy="214.7" r="1.15" fill="#0173b2"/>
<circle cx="111.5" cy="217.9" r="1.15" fill="#0173b2"/>
<circle cx="118.0" cy="217.1" r="1.15" fill="#0173b2"/>
<circle cx="104.5" cy="222.7" r="1.15" fill="#0173b2"/>
<circle cx="106.5" cy="222.5" r="1.15" fill="#0173b2"/>
<circle cx="114.8" cy="221.6" r="1.15" fill="#0173b2"/>
<circle cx="117.9" cy="230.5" r="1.15" fill="#0173b2"/>
<circle cx="116.2" cy="233.5" r="1.15" fill="#0173b2"/>
<circle cx="115.8" cy="235.9" r="1.15" fill="#0173b2"/>
<circle cx="124.4" cy="237.0" r="1.15" fill="#0173b2"/>
<circle cx="125.5" cy="238.7" r="1.15" fill="#0173b2"/>
<circle cx="123.2" cy="244.0" r="1.15" fill="#0173b2"/>
<circle cx="127.5" cy="245.5" r="1.15" fill="#0173b2"/>
<circle cx="130.9" cy="245.7" r="1.15" fill="#0173b2"/>
<circle cx="132.9" cy="243.3" r="1.15" fill="#0173b2"/>
<circle cx="129.9" cy="248.6" r="1.15" fill="#0173b2"/>
<circle cx="133.7" cy="248.6" r="1.15" fill="#0173b2"/>
<circle cx="139.4" cy="248.4" r="1.15" fill="#0173b2"/>
<circle cx="142.8" cy="241.5" r="1.15" fill="#0173b2"/>
<circle cx="140.0" cy="254.6" r="1.15" fill="#0173b2"/>
<circle cx="149.8" cy="247.3" r="1.15" fill="#0173b2"/>
<circle cx="154.2" cy="243.9" r="1.15" fill="#0173b2"/>
<circle cx="152.5" cy="255.9" r="1.15" fill="#0173b2"/>
<circle cx="146.0" cy="261.3" r="1.15" fill="#0173b2"/>
<circle cx="151.8" cy="268.0" r="1.15" fill="#0173b2"/>
<circle cx="175.6" cy="260.6" r="1.15" fill="#0173b2"/>
<circle cx="120.5" cy="270.5" r="1.15" fill="#0173b2"/>
<circle cx="156.1" cy="274.4" r="1.15" fill="#0173b2"/>
<circle cx="49.4" cy="225.8" r="1.15" fill="#0173b2"/>
<circle cx="45.2" cy="235.4" r="1.15" fill="#0173b2"/>
<circle cx="41.0" cy="239.0" r="1.15" fill="#0173b2"/>
<circle cx="50.9" cy="247.9" r="1.15" fill="#0173b2"/>
<circle cx="53.9" cy="248.0" r="1.15" fill="#0173b2"/>
<circle cx="51.2" cy="250.3" r="1.15" fill="#0173b2"/>
<circle cx="52.6" cy="251.1" r="1.15" fill="#0173b2"/>
<circle cx="54.4" cy="251.4" r="1.15" fill="#0173b2"/>
<circle cx="55.9" cy="252.1" r="1.15" fill="#0173b2"/>
<circle cx="58.5" cy="250.0" r="1.15" fill="#0173b2"/>
<circle cx="52.1" cy="253.0" r="1.15" fill="#0173b2"/>
<circle cx="56.5" cy="254.7" r="1.15" fill="#0173b2"/>
<circle cx="58.1" cy="253.2" r="1.15" fill="#0173b2"/>
<circle cx="61.7" cy="254.4" r="1.15" fill="#0173b2"/>
<circle cx="50.6" cy="255.7" r="1.15" fill="#0173b2"/>
<circle cx="58.3" cy="258.6" r="1.15" fill="#0173b2"/>
<circle cx="58.6" cy="259.4" r="1.15" fill="#0173b2"/>
<circle cx="65.8" cy="258.2" r="1.15" fill="#0173b2"/>
<circle cx="45.7" cy="188.2" r="1.15" fill="#0173b2"/>
<circle cx="48.2" cy="188.3" r="1.15" fill="#0173b2"/>
<circle cx="74.9" cy="272.1" r="1.15" fill="#0173b2"/>
<circle cx="94.2" cy="110.3" r="1.15" fill="#0173b2"/>
<circle cx="98.6" cy="111.9" r="1.15" fill="#0173b2"/>
<circle cx="116.2" cy="107.7" r="1.15" fill="#0173b2"/>
<circle cx="108.7" cy="98.1" r="1.15" fill="#0173b2"/>
<circle cx="104.1" cy="116.1" r="1.15" fill="#0173b2"/>
<circle cx="109.6" cy="95.2" r="1.15" fill="#0173b2"/>
<circle cx="117.4" cy="107.7" r="1.15" fill="#0173b2"/>
<circle cx="99.4" cy="118.0" r="1.15" fill="#0173b2"/>
<circle cx="117.6" cy="96.2" r="1.15" fill="#0173b2"/>
<circle cx="108.3" cy="102.5" r="1.15" fill="#0173b2"/>
<circle cx="104.2" cy="105.0" r="1.15" fill="#0173b2"/>
<circle cx="98.1" cy="111.6" r="1.15" fill="#0173b2"/>
<circle cx="109.7" cy="98.2" r="1.15" fill="#0173b2"/>
<circle cx="111.4" cy="99.8" r="1.15" fill="#0173b2"/>
<circle cx="88.2" cy="118.4" r="1.15" fill="#0173b2"/>
<circle cx="96.0" cy="116.5" r="1.15" fill="#0173b2"/>
<circle cx="117.1" cy="94.3" r="1.15" fill="#0173b2"/>
<circle cx="111.2" cy="103.2" r="1.15" fill="#0173b2"/>
<circle cx="107.6" cy="98.0" r="1.15" fill="#0173b2"/>
<circle cx="86.8" cy="119.8" r="1.15" fill="#0173b2"/>
<circle cx="117.9" cy="105.0" r="1.15" fill="#0173b2"/>
<circle cx="102.6" cy="109.2" r="1.15" fill="#0173b2"/>
<circle cx="108.7" cy="111.8" r="1.15" fill="#0173b2"/>
<circle cx="105.7" cy="112.0" r="1.15" fill="#0173b2"/>
<circle cx="100.8" cy="115.7" r="1.15" fill="#0173b2"/>
<circle cx="100.8" cy="111.2" r="1.15" fill="#0173b2"/>
<circle cx="108.3" cy="107.6" r="1.15" fill="#0173b2"/>
<circle cx="110.0" cy="104.4" r="1.15" fill="#0173b2"/>
<circle cx="94.4" cy="107.3" r="1.15" fill="#0173b2"/>
<circle cx="107.3" cy="103.2" r="1.15" fill="#0173b2"/>
<circle cx="98.8" cy="111.4" r="1.15" fill="#0173b2"/>
<circle cx="113.7" cy="93.5" r="1.15" fill="#0173b2"/>
<circle cx="115.1" cy="100.3" r="1.15" fill="#0173b2"/>
<circle cx="111.2" cy="96.0" r="1.15" fill="#0173b2"/>
<circle cx="115.8" cy="106.4" r="1.15" fill="#0173b2"/>
<circle cx="116.6" cy="98.0" r="1.15" fill="#0173b2"/>
<circle cx="97.2" cy="113.4" r="1.15" fill="#0173b2"/>
<circle cx="117.6" cy="106.8" r="1.15" fill="#0173b2"/>
<circle cx="104.6" cy="98.9" r="1.15" fill="#0173b2"/>
<circle cx="114.8" cy="103.9" r="1.15" fill="#0173b2"/>
<circle cx="81.9" cy="167.3" r="1.15" fill="#0173b2"/>
<circle cx="82.5" cy="155.4" r="1.15" fill="#0173b2"/>
<circle cx="85.2" cy="167.5" r="1.15" fill="#0173b2"/>
<circle cx="94.9" cy="170.1" r="1.15" fill="#0173b2"/>
<circle cx="77.4" cy="161.0" r="1.15" fill="#0173b2"/>
<circle cx="88.9" cy="171.8" r="1.15" fill="#0173b2"/>
<circle cx="92.4" cy="166.5" r="1.15" fill="#0173b2"/>
<circle cx="90.4" cy="164.0" r="1.15" fill="#0173b2"/>
<circle cx="72.5" cy="151.4" r="1.15" fill="#0173b2"/>
<circle cx="88.9" cy="171.1" r="1.15" fill="#0173b2"/>
<circle cx="302.0" cy="55.8" r="1.15" fill="#0173b2"/>
<circle cx="307.7" cy="58.2" r="1.15" fill="#0173b2"/>
<circle cx="301.8" cy="60.3" r="1.15" fill="#0173b2"/>
<circle cx="293.6" cy="65.1" r="1.15" fill="#0173b2"/>
<circle cx="286.7" cy="68.6" r="1.15" fill="#0173b2"/>
<circle cx="287.5" cy="72.8" r="1.15" fill="#0173b2"/>
<circle cx="291.9" cy="72.0" r="1.15" fill="#0173b2"/>
<circle cx="293.1" cy="70.1" r="1.15" fill="#0173b2"/>
<circle cx="294.5" cy="72.5" r="1.15" fill="#0173b2"/>
<circle cx="296.3" cy="71.9" r="1.15" fill="#0173b2"/>
<circle cx="297.2" cy="71.2" r="1.15" fill="#0173b2"/>
<circle cx="299.4" cy="70.3" r="1.15" fill="#0173b2"/>
<circle cx="300.1" cy="71.5" r="1.15" fill="#0173b2"/>
<circle cx="301.5" cy="67.8" r="1.15" fill="#0173b2"/>
<circle cx="303.8" cy="69.6" r="1.15" fill="#0173b2"/>
<circle cx="297.8" cy="74.1" r="1.15" fill="#0173b2"/>
<circle cx="299.4" cy="75.4" r="1.15" fill="#0173b2"/>
<circle cx="300.6" cy="76.9" r="1.15" fill="#0173b2"/>
<circle cx="302.9" cy="74.7" r="1.15" fill="#0173b2"/>
<circle cx="304.3" cy="75.8" r="1.15" fill="#0173b2"/>
<circle cx="305.7" cy="72.1" r="1.15" fill="#0173b2"/>
<circle cx="310.2" cy="74.2" r="1.15" fill="#0173b2"/>
<circle cx="306.8" cy="62.6" r="1.15" fill="#0173b2"/>
<circle cx="308.0" cy="64.8" r="1.15" fill="#0173b2"/>
<circle cx="308.6" cy="62.1" r="1.15" fill="#0173b2"/>
<circle cx="309.5" cy="70.5" r="1.15" fill="#0173b2"/>
<circle cx="310.7" cy="68.6" r="1.15" fill="#0173b2"/>
<circle cx="311.9" cy="68.0" r="1.15" fill="#0173b2"/>
<circle cx="311.2" cy="58.6" r="1.15" fill="#0173b2"/>
<circle cx="313.0" cy="59.7" r="1.15" fill="#0173b2"/>
<circle cx="313.9" cy="58.0" r="1.15" fill="#0173b2"/>
<circle cx="315.3" cy="56.8" r="1.15" fill="#0173b2"/>
<circle cx="318.2" cy="58.7" r="1.15" fill="#0173b2"/>
<circle cx="319.8" cy="57.9" r="1.15" fill="#0173b2"/>
<circle cx="320.4" cy="57.1" r="1.15" fill="#0173b2"/>
<circle cx="322.4" cy="58.3" r="1.15" fill="#0173b2"/>
<circle cx="324.2" cy="57.2" r="1.15" fill="#0173b2"/>
<circle cx="325.1" cy="59.7" r="1.15" fill="#0173b2"/>
<circle cx="323.1" cy="62.0" r="1.15" fill="#0173b2"/>
<circle cx="316.9" cy="60.4" r="1.15" fill="#0173b2"/>
<circle cx="318.2" cy="61.7" r="1.15" fill="#0173b2"/>
<circle cx="319.8" cy="61.2" r="1.15" fill="#0173b2"/>
<circle cx="312.5" cy="62.6" r="1.15" fill="#0173b2"/>
<circle cx="314.0" cy="62.5" r="1.15" fill="#0173b2"/>
<circle cx="315.9" cy="63.5" r="1.15" fill="#0173b2"/>
<circle cx="317.4" cy="64.2" r="1.15" fill="#0173b2"/>
<circle cx="318.2" cy="64.7" r="1.15" fill="#0173b2"/>
<circle cx="320.3" cy="64.0" r="1.15" fill="#0173b2"/>
<circle cx="321.0" cy="61.9" r="1.15" fill="#0173b2"/>
<circle cx="315.9" cy="68.2" r="1.15" fill="#0173b2"/>
<circle cx="317.2" cy="67.0" r="1.15" fill="#0173b2"/>
<circle cx="317.7" cy="69.2" r="1.15" fill="#0173b2"/>
<circle cx="316.7" cy="69.8" r="1.15" fill="#0173b2"/>
<circle cx="314.6" cy="71.8" r="1.15" fill="#0173b2"/>
<circle cx="316.8" cy="72.0" r="1.15" fill="#0173b2"/>
<circle cx="317.8" cy="71.9" r="1.15" fill="#0173b2"/>
<circle cx="319.1" cy="72.7" r="1.15" fill="#0173b2"/>
<circle cx="315.0" cy="73.5" r="1.15" fill="#0173b2"/>
<circle cx="317.1" cy="74.7" r="1.15" fill="#0173b2"/>
<circle cx="319.3" cy="74.7" r="1.15" fill="#0173b2"/>
<circle cx="322.0" cy="69.8" r="1.15" fill="#0173b2"/>
<circle cx="323.6" cy="71.8" r="1.15" fill="#0173b2"/>
<circle cx="313.7" cy="76.0" r="1.15" fill="#0173b2"/>
<circle cx="315.6" cy="77.0" r="1.15" fill="#0173b2"/>
<circle cx="319.1" cy="77.0" r="1.15" fill="#0173b2"/>
<circle cx="321.6" cy="76.6" r="1.15" fill="#0173b2"/>
<circle cx="326.2" cy="64.9" r="1.15" fill="#0173b2"/>
<circle cx="329.7" cy="56.0" r="1.15" fill="#0173b2"/>
<circle cx="330.1" cy="58.7" r="1.15" fill="#0173b2"/>
<circle cx="331.4" cy="61.1" r="1.15" fill="#0173b2"/>
<circle cx="328.2" cy="61.4" r="1.15" fill="#0173b2"/>
<circle cx="329.5" cy="66.2" r="1.15" fill="#0173b2"/>
<circle cx="329.4" cy="72.6" r="1.15" fill="#0173b2"/>
<circle cx="326.7" cy="76.4" r="1.15" fill="#0173b2"/>
<circle cx="329.1" cy="76.6" r="1.15" fill="#0173b2"/>
<circle cx="329.8" cy="69.3" r="1.15" fill="#0173b2"/>
<circle cx="296.8" cy="62.3" r="1.15" fill="#029e73"/>
<circle cx="311.0" cy="60.4" r="1.15" fill="#029e73"/>
<circle cx="311.0" cy="62.6" r="1.15" fill="#029e73"/>
<circle cx="306.6" cy="66.6" r="1.15" fill="#029e73"/>
<circle cx="299.6" cy="72.2" r="1.15" fill="#029e73"/>
<circle cx="321.9" cy="56.0" r="1.15" fill="#d55e00"/>
<circle cx="323.2" cy="55.4" r="1.15" fill="#d55e00"/>
<circle cx="327.2" cy="55.4" r="1.15" fill="#d55e00"/>
<circle cx="330.3" cy="61.8" r="1.15" fill="#d55e00"/>
<circle cx="329.3" cy="65.4" r="1.15" fill="#d55e00"/>
<circle cx="321.9" cy="66.4" r="1.15" fill="#d55e00"/>
<circle cx="320.9" cy="67.5" r="1.15" fill="#d55e00"/>
<circle cx="329.5" cy="69.2" r="1.15" fill="#d55e00"/>
<circle cx="330.0" cy="72.6" r="1.15" fill="#d55e00"/>
<circle cx="331.2" cy="73.1" r="1.15" fill="#d55e00"/>
<circle cx="258.1" cy="58.5" r="1.15" fill="#0173b2"/>
<circle cx="272.2" cy="64.2" r="1.15" fill="#0173b2"/>
<circle cx="281.0" cy="64.8" r="1.15" fill="#0173b2"/>
<circle cx="281.4" cy="67.5" r="1.15" fill="#0173b2"/>
<circle cx="285.4" cy="68.9" r="1.15" fill="#0173b2"/>
<circle cx="276.6" cy="74.0" r="1.15" fill="#0173b2"/>
<circle cx="285.1" cy="74.8" r="1.15" fill="#0173b2"/>
<circle cx="271.8" cy="77.7" r="1.15" fill="#0173b2"/>
<circle cx="285.6" cy="76.8" r="1.15" fill="#0173b2"/>
<circle cx="279.3" cy="67.5" r="1.15" fill="#029e73"/>
<circle cx="270.2" cy="78.6" r="1.15" fill="#0173b2"/>
<circle cx="271.6" cy="78.4" r="1.15" fill="#0173b2"/>
<circle cx="281.9" cy="79.1" r="1.15" fill="#0173b2"/>
<circle cx="280.3" cy="81.5" r="1.15" fill="#0173b2"/>
<circle cx="279.9" cy="82.6" r="1.15" fill="#0173b2"/>
<circle cx="276.6" cy="83.2" r="1.15" fill="#0173b2"/>
<circle cx="272.5" cy="84.8" r="1.15" fill="#0173b2"/>
<circle cx="259.2" cy="86.6" r="1.15" fill="#0173b2"/>
<circle cx="272.2" cy="87.4" r="1.15" fill="#0173b2"/>
<circle cx="273.8" cy="88.4" r="1.15" fill="#0173b2"/>
<circle cx="273.7" cy="90.0" r="1.15" fill="#0173b2"/>
<circle cx="276.8" cy="87.0" r="1.15" fill="#0173b2"/>
<circle cx="277.5" cy="88.6" r="1.15" fill="#0173b2"/>
<circle cx="278.8" cy="87.0" r="1.15" fill="#0173b2"/>
<circle cx="280.7" cy="87.8" r="1.15" fill="#0173b2"/>
<circle cx="282.8" cy="90.0" r="1.15" fill="#0173b2"/>
<circle cx="285.4" cy="84.1" r="1.15" fill="#0173b2"/>
<circle cx="285.8" cy="88.8" r="1.15" fill="#0173b2"/>
<circle cx="251.6" cy="91.9" r="1.15" fill="#0173b2"/>
<circle cx="264.3" cy="91.8" r="1.15" fill="#0173b2"/>
<circle cx="268.7" cy="91.0" r="1.15" fill="#0173b2"/>
<circle cx="270.6" cy="91.8" r="1.15" fill="#0173b2"/>
<circle cx="252.7" cy="98.7" r="1.15" fill="#0173b2"/>
<circle cx="262.9" cy="98.9" r="1.15" fill="#0173b2"/>
<circle cx="280.4" cy="94.6" r="1.15" fill="#0173b2"/>
<circle cx="283.3" cy="94.7" r="1.15" fill="#0173b2"/>
<circle cx="281.0" cy="98.0" r="1.15" fill="#0173b2"/>
<circle cx="282.4" cy="97.9" r="1.15" fill="#0173b2"/>
<circle cx="283.8" cy="99.2" r="1.15" fill="#0173b2"/>
<circle cx="285.1" cy="100.2" r="1.15" fill="#0173b2"/>
<circle cx="281.0" cy="99.4" r="1.15" fill="#0173b2"/>
<circle cx="243.1" cy="100.2" r="1.15" fill="#de8f05"/>
<circle cx="244.5" cy="100.3" r="1.15" fill="#de8f05"/>
<circle cx="286.8" cy="80.4" r="1.15" fill="#0173b2"/>
<circle cx="288.5" cy="79.3" r="1.15" fill="#0173b2"/>
<circle cx="291.6" cy="77.7" r="1.15" fill="#0173b2"/>
<circle cx="295.4" cy="78.4" r="1.15" fill="#0173b2"/>
<circle cx="296.6" cy="79.9" r="1.15" fill="#0173b2"/>
<circle cx="298.5" cy="79.0" r="1.15" fill="#0173b2"/>
<circle cx="300.0" cy="80.6" r="1.15" fill="#0173b2"/>
<circle cx="303.0" cy="79.1" r="1.15" fill="#0173b2"/>
<circle cx="304.6" cy="80.6" r="1.15" fill="#0173b2"/>
<circle cx="310.3" cy="80.5" r="1.15" fill="#0173b2"/>
<circle cx="311.1" cy="80.9" r="1.15" fill="#0173b2"/>
<circle cx="314.7" cy="79.1" r="1.15" fill="#0173b2"/>
<circle cx="316.8" cy="80.3" r="1.15" fill="#0173b2"/>
<circle cx="317.9" cy="79.3" r="1.15" fill="#0173b2"/>
<circle cx="319.7" cy="78.7" r="1.15" fill="#0173b2"/>
<circle cx="318.8" cy="80.6" r="1.15" fill="#0173b2"/>
<circle cx="285.7" cy="83.4" r="1.15" fill="#0173b2"/>
<circle cx="287.6" cy="84.6" r="1.15" fill="#0173b2"/>
<circle cx="288.6" cy="84.1" r="1.15" fill="#0173b2"/>
<circle cx="290.1" cy="85.2" r="1.15" fill="#0173b2"/>
<circle cx="292.2" cy="80.7" r="1.15" fill="#0173b2"/>
<circle cx="293.6" cy="82.9" r="1.15" fill="#0173b2"/>
<circle cx="294.4" cy="83.8" r="1.15" fill="#0173b2"/>
<circle cx="296.0" cy="82.7" r="1.15" fill="#0173b2"/>
<circle cx="297.3" cy="84.2" r="1.15" fill="#0173b2"/>
<circle cx="298.7" cy="83.4" r="1.15" fill="#0173b2"/>
<circle cx="300.7" cy="82.1" r="1.15" fill="#0173b2"/>
<circle cx="301.9" cy="82.9" r="1.15" fill="#0173b2"/>
<circle cx="306.8" cy="83.5" r="1.15" fill="#0173b2"/>
<circle cx="309.1" cy="83.5" r="1.15" fill="#0173b2"/>
<circle cx="310.4" cy="85.6" r="1.15" fill="#0173b2"/>
<circle cx="313.2" cy="82.9" r="1.15" fill="#0173b2"/>
<circle cx="314.7" cy="84.1" r="1.15" fill="#0173b2"/>
<circle cx="313.0" cy="85.1" r="1.15" fill="#0173b2"/>
<circle cx="292.2" cy="86.3" r="1.15" fill="#0173b2"/>
<circle cx="293.5" cy="85.8" r="1.15" fill="#0173b2"/>
<circle cx="295.1" cy="86.3" r="1.15" fill="#0173b2"/>
<circle cx="297.2" cy="86.0" r="1.15" fill="#0173b2"/>
<circle cx="298.1" cy="85.2" r="1.15" fill="#0173b2"/>
<circle cx="300.2" cy="86.5" r="1.15" fill="#0173b2"/>
<circle cx="301.3" cy="85.7" r="1.15" fill="#0173b2"/>
<circle cx="303.9" cy="87.0" r="1.15" fill="#0173b2"/>
<circle cx="308.0" cy="86.4" r="1.15" fill="#0173b2"/>
<circle cx="308.1" cy="87.8" r="1.15" fill="#0173b2"/>
<circle cx="313.7" cy="86.0" r="1.15" fill="#0173b2"/>
<circle cx="319.2" cy="87.2" r="1.15" fill="#0173b2"/>
<circle cx="325.3" cy="86.9" r="1.15" fill="#0173b2"/>
<circle cx="329.1" cy="88.2" r="1.15" fill="#0173b2"/>
<circle cx="330.0" cy="87.4" r="1.15" fill="#0173b2"/>
<circle cx="289.1" cy="88.8" r="1.15" fill="#0173b2"/>
<circle cx="289.8" cy="91.4" r="1.15" fill="#0173b2"/>
<circle cx="291.4" cy="90.9" r="1.15" fill="#0173b2"/>
<circle cx="292.8" cy="90.7" r="1.15" fill="#0173b2"/>
<circle cx="294.0" cy="90.6" r="1.15" fill="#0173b2"/>
<circle cx="295.8" cy="91.8" r="1.15" fill="#0173b2"/>
<circle cx="300.1" cy="89.4" r="1.15" fill="#0173b2"/>
<circle cx="300.2" cy="91.4" r="1.15" fill="#0173b2"/>
<circle cx="301.8" cy="91.5" r="1.15" fill="#0173b2"/>
<circle cx="303.3" cy="91.1" r="1.15" fill="#0173b2"/>
<circle cx="305.9" cy="89.6" r="1.15" fill="#0173b2"/>
<circle cx="307.7" cy="91.1" r="1.15" fill="#0173b2"/>
<circle cx="308.9" cy="90.5" r="1.15" fill="#0173b2"/>
<circle cx="311.0" cy="89.2" r="1.15" fill="#0173b2"/>
<circle cx="312.0" cy="89.8" r="1.15" fill="#0173b2"/>
<circle cx="309.1" cy="92.7" r="1.15" fill="#0173b2"/>
<circle cx="307.4" cy="93.6" r="1.15" fill="#0173b2"/>
<circle cx="287.9" cy="94.7" r="1.15" fill="#0173b2"/>
<circle cx="288.9" cy="95.4" r="1.15" fill="#0173b2"/>
<circle cx="291.8" cy="93.5" r="1.15" fill="#0173b2"/>
<circle cx="293.7" cy="93.0" r="1.15" fill="#0173b2"/>
<circle cx="294.4" cy="93.6" r="1.15" fill="#0173b2"/>
<circle cx="295.9" cy="93.5" r="1.15" fill="#0173b2"/>
<circle cx="297.9" cy="92.1" r="1.15" fill="#0173b2"/>
<circle cx="302.9" cy="94.4" r="1.15" fill="#0173b2"/>
<circle cx="303.0" cy="96.2" r="1.15" fill="#0173b2"/>
<circle cx="307.8" cy="94.7" r="1.15" fill="#0173b2"/>
<circle cx="308.7" cy="95.1" r="1.15" fill="#0173b2"/>
<circle cx="292.9" cy="96.3" r="1.15" fill="#0173b2"/>
<circle cx="293.6" cy="95.1" r="1.15" fill="#0173b2"/>
<circle cx="290.3" cy="97.6" r="1.15" fill="#0173b2"/>
<circle cx="291.6" cy="98.7" r="1.15" fill="#0173b2"/>
<circle cx="294.6" cy="98.0" r="1.15" fill="#0173b2"/>
<circle cx="296.2" cy="99.4" r="1.15" fill="#0173b2"/>
<circle cx="298.7" cy="97.7" r="1.15" fill="#0173b2"/>
<circle cx="300.7" cy="98.7" r="1.15" fill="#0173b2"/>
<circle cx="301.5" cy="100.9" r="1.15" fill="#0173b2"/>
<circle cx="303.3" cy="99.7" r="1.15" fill="#0173b2"/>
<circle cx="305.2" cy="99.8" r="1.15" fill="#0173b2"/>
<circle cx="306.9" cy="100.9" r="1.15" fill="#0173b2"/>
<circle cx="309.5" cy="97.4" r="1.15" fill="#0173b2"/>
<circle cx="317.0" cy="98.9" r="1.15" fill="#0173b2"/>
<circle cx="327.3" cy="100.2" r="1.15" fill="#0173b2"/>
<circle cx="287.0" cy="100.9" r="1.15" fill="#0173b2"/>
<circle cx="289.2" cy="100.1" r="1.15" fill="#0173b2"/>
<circle cx="302.3" cy="80.2" r="1.15" fill="#029e73"/>
<circle cx="307.9" cy="80.6" r="1.15" fill="#029e73"/>
<circle cx="302.3" cy="88.1" r="1.15" fill="#029e73"/>
<circle cx="294.1" cy="99.6" r="1.15" fill="#029e73"/>
<circle cx="249.9" cy="102.8" r="1.15" fill="#0173b2"/>
<circle cx="266.3" cy="104.2" r="1.15" fill="#0173b2"/>
<circle cx="253.1" cy="110.4" r="1.15" fill="#0173b2"/>
<circle cx="265.8" cy="113.7" r="1.15" fill="#0173b2"/>
<circle cx="250.0" cy="114.6" r="1.15" fill="#0173b2"/>
<circle cx="248.8" cy="117.9" r="1.15" fill="#0173b2"/>
<circle cx="252.4" cy="117.6" r="1.15" fill="#0173b2"/>
<circle cx="257.3" cy="116.9" r="1.15" fill="#0173b2"/>
<circle cx="277.2" cy="116.6" r="1.15" fill="#0173b2"/>
<circle cx="277.0" cy="104.0" r="1.15" fill="#0173b2"/>
<circle cx="277.1" cy="121.8" r="1.15" fill="#0173b2"/>
<circle cx="260.3" cy="123.4" r="1.15" fill="#0173b2"/>
<circle cx="268.7" cy="122.6" r="1.15" fill="#0173b2"/>
<circle cx="244.5" cy="101.4" r="1.15" fill="#de8f05"/>
<circle cx="244.0" cy="105.9" r="1.15" fill="#de8f05"/>
<circle cx="278.0" cy="103.5" r="1.15" fill="#029e73"/>
<circle cx="281.4" cy="101.7" r="1.15" fill="#0173b2"/>
<circle cx="283.8" cy="102.1" r="1.15" fill="#0173b2"/>
<circle cx="287.1" cy="101.4" r="1.15" fill="#0173b2"/>
<circle cx="289.4" cy="103.1" r="1.15" fill="#0173b2"/>
<circle cx="291.6" cy="101.5" r="1.15" fill="#0173b2"/>
<circle cx="293.6" cy="102.5" r="1.15" fill="#0173b2"/>
<circle cx="296.4" cy="101.8" r="1.15" fill="#0173b2"/>
<circle cx="297.7" cy="103.3" r="1.15" fill="#0173b2"/>
<circle cx="299.5" cy="101.9" r="1.15" fill="#0173b2"/>
<circle cx="301.9" cy="102.5" r="1.15" fill="#0173b2"/>
<circle cx="303.5" cy="103.9" r="1.15" fill="#0173b2"/>
<circle cx="305.4" cy="104.4" r="1.15" fill="#0173b2"/>
<circle cx="307.5" cy="104.6" r="1.15" fill="#0173b2"/>
<circle cx="290.2" cy="105.4" r="1.15" fill="#0173b2"/>
<circle cx="292.1" cy="104.5" r="1.15" fill="#0173b2"/>
<circle cx="295.0" cy="105.1" r="1.15" fill="#0173b2"/>
<circle cx="296.9" cy="106.1" r="1.15" fill="#0173b2"/>
<circle cx="299.6" cy="105.8" r="1.15" fill="#0173b2"/>
<circle cx="301.0" cy="107.0" r="1.15" fill="#0173b2"/>
<circle cx="303.1" cy="107.9" r="1.15" fill="#0173b2"/>
<circle cx="284.9" cy="105.3" r="1.15" fill="#0173b2"/>
<circle cx="282.0" cy="107.4" r="1.15" fill="#0173b2"/>
<circle cx="285.2" cy="107.7" r="1.15" fill="#0173b2"/>
<circle cx="280.6" cy="110.2" r="1.15" fill="#0173b2"/>
<circle cx="282.8" cy="112.1" r="1.15" fill="#0173b2"/>
<circle cx="283.5" cy="109.6" r="1.15" fill="#0173b2"/>
<circle cx="285.1" cy="111.3" r="1.15" fill="#0173b2"/>
<circle cx="286.8" cy="109.3" r="1.15" fill="#0173b2"/>
<circle cx="288.4" cy="110.4" r="1.15" fill="#0173b2"/>
<circle cx="289.8" cy="112.1" r="1.15" fill="#0173b2"/>
<circle cx="291.3" cy="109.7" r="1.15" fill="#0173b2"/>
<circle cx="292.8" cy="111.3" r="1.15" fill="#0173b2"/>
<circle cx="294.3" cy="108.6" r="1.15" fill="#0173b2"/>
<circle cx="295.7" cy="110.0" r="1.15" fill="#0173b2"/>
<circle cx="297.1" cy="112.0" r="1.15" fill="#0173b2"/>
<circle cx="293.2" cy="107.9" r="1.15" fill="#0173b2"/>
<circle cx="295.5" cy="107.5" r="1.15" fill="#0173b2"/>
<circle cx="297.8" cy="108.6" r="1.15" fill="#0173b2"/>
<circle cx="299.9" cy="110.3" r="1.15" fill="#0173b2"/>
<circle cx="307.0" cy="107.9" r="1.15" fill="#0173b2"/>
<circle cx="281.1" cy="114.6" r="1.15" fill="#0173b2"/>
<circle cx="283.0" cy="114.1" r="1.15" fill="#0173b2"/>
<circle cx="284.4" cy="115.4" r="1.15" fill="#0173b2"/>
<circle cx="286.2" cy="113.6" r="1.15" fill="#0173b2"/>
<circle cx="287.4" cy="114.7" r="1.15" fill="#0173b2"/>
<circle cx="288.6" cy="113.2" r="1.15" fill="#0173b2"/>
<circle cx="290.0" cy="114.9" r="1.15" fill="#0173b2"/>
<circle cx="291.9" cy="113.0" r="1.15" fill="#0173b2"/>
<circle cx="293.6" cy="114.6" r="1.15" fill="#0173b2"/>
<circle cx="295.0" cy="113.6" r="1.15" fill="#0173b2"/>
<circle cx="296.6" cy="114.5" r="1.15" fill="#0173b2"/>
<circle cx="297.5" cy="113.7" r="1.15" fill="#0173b2"/>
<circle cx="304.8" cy="115.5" r="1.15" fill="#0173b2"/>
<circle cx="279.5" cy="119.9" r="1.15" fill="#0173b2"/>
<circle cx="281.3" cy="119.4" r="1.15" fill="#0173b2"/>
<circle cx="282.4" cy="118.9" r="1.15" fill="#0173b2"/>
<circle cx="283.8" cy="117.7" r="1.15" fill="#0173b2"/>
<circle cx="285.4" cy="116.9" r="1.15" fill="#0173b2"/>
<circle cx="286.6" cy="118.5" r="1.15" fill="#0173b2"/>
<circle cx="288.0" cy="117.4" r="1.15" fill="#0173b2"/>
<circle cx="289.8" cy="118.4" r="1.15" fill="#0173b2"/>
<circle cx="290.7" cy="116.8" r="1.15" fill="#0173b2"/>
<circle cx="292.4" cy="118.5" r="1.15" fill="#0173b2"/>
<circle cx="294.0" cy="117.3" r="1.15" fill="#0173b2"/>
<circle cx="295.8" cy="118.4" r="1.15" fill="#0173b2"/>
<circle cx="296.8" cy="117.8" r="1.15" fill="#0173b2"/>
<circle cx="280.6" cy="121.2" r="1.15" fill="#0173b2"/>
<circle cx="282.4" cy="120.9" r="1.15" fill="#0173b2"/>
<circle cx="284.2" cy="121.2" r="1.15" fill="#0173b2"/>
<circle cx="286.4" cy="120.2" r="1.15" fill="#0173b2"/>
<circle cx="287.4" cy="121.0" r="1.15" fill="#0173b2"/>
<circle cx="289.2" cy="120.0" r="1.15" fill="#0173b2"/>
<circle cx="290.6" cy="121.8" r="1.15" fill="#0173b2"/>
<circle cx="292.1" cy="119.8" r="1.15" fill="#0173b2"/>
<circle cx="292.9" cy="121.1" r="1.15" fill="#0173b2"/>
<circle cx="294.7" cy="119.9" r="1.15" fill="#0173b2"/>
<circle cx="295.9" cy="119.6" r="1.15" fill="#0173b2"/>
<circle cx="285.4" cy="122.9" r="1.15" fill="#0173b2"/>
<circle cx="288.0" cy="123.2" r="1.15" fill="#0173b2"/>
<circle cx="291.2" cy="122.4" r="1.15" fill="#0173b2"/>
<circle cx="319.3" cy="103.4" r="1.15" fill="#0173b2"/>
<circle cx="306.1" cy="102.6" r="1.15" fill="#029e73"/>
<circle cx="305.9" cy="112.4" r="1.15" fill="#029e73"/>
<circle cx="278.3" cy="103.3" r="1.15" fill="#029e73"/>
<circle cx="248.9" cy="128.8" r="1.15" fill="#0173b2"/>
<circle cx="250.2" cy="128.4" r="1.15" fill="#0173b2"/>
<circle cx="251.4" cy="129.2" r="1.15" fill="#0173b2"/>
<circle cx="253.1" cy="128.8" r="1.15" fill="#0173b2"/>
<circle cx="249.5" cy="133.4" r="1.15" fill="#0173b2"/>
<circle cx="251.3" cy="132.4" r="1.15" fill="#0173b2"/>
<circle cx="253.3" cy="133.8" r="1.15" fill="#0173b2"/>
<circle cx="254.2" cy="132.4" r="1.15" fill="#0173b2"/>
<circle cx="256.0" cy="127.9" r="1.15" fill="#0173b2"/>
<circle cx="257.5" cy="127.2" r="1.15" fill="#0173b2"/>
<circle cx="258.5" cy="127.9" r="1.15" fill="#0173b2"/>
<circle cx="260.6" cy="129.6" r="1.15" fill="#0173b2"/>
<circle cx="262.0" cy="128.2" r="1.15" fill="#0173b2"/>
<circle cx="262.9" cy="128.9" r="1.15" fill="#0173b2"/>
<circle cx="264.3" cy="128.7" r="1.15" fill="#0173b2"/>
<circle cx="266.2" cy="129.7" r="1.15" fill="#0173b2"/>
<circle cx="267.5" cy="128.3" r="1.15" fill="#0173b2"/>
<circle cx="268.6" cy="128.0" r="1.15" fill="#0173b2"/>
<circle cx="267.6" cy="125.9" r="1.15" fill="#0173b2"/>
<circle cx="261.0" cy="124.1" r="1.15" fill="#0173b2"/>
<circle cx="271.7" cy="126.5" r="1.15" fill="#0173b2"/>
<circle cx="256.3" cy="131.6" r="1.15" fill="#0173b2"/>
<circle cx="258.0" cy="132.3" r="1.15" fill="#0173b2"/>
<circle cx="259.9" cy="133.3" r="1.15" fill="#0173b2"/>
<circle cx="261.1" cy="133.1" r="1.15" fill="#0173b2"/>
<circle cx="262.5" cy="131.7" r="1.15" fill="#0173b2"/>
<circle cx="263.7" cy="132.6" r="1.15" fill="#0173b2"/>
<circle cx="265.6" cy="131.7" r="1.15" fill="#0173b2"/>
<circle cx="266.7" cy="133.8" r="1.15" fill="#0173b2"/>
<circle cx="268.3" cy="133.0" r="1.15" fill="#0173b2"/>
<circle cx="269.5" cy="131.7" r="1.15" fill="#0173b2"/>
<circle cx="271.1" cy="133.9" r="1.15" fill="#0173b2"/>
<circle cx="270.2" cy="135.4" r="1.15" fill="#0173b2"/>
<circle cx="267.6" cy="134.5" r="1.15" fill="#0173b2"/>
<circle cx="258.9" cy="135.5" r="1.15" fill="#0173b2"/>
<circle cx="260.2" cy="136.7" r="1.15" fill="#0173b2"/>
<circle cx="261.4" cy="135.9" r="1.15" fill="#0173b2"/>
<circle cx="263.1" cy="136.1" r="1.15" fill="#0173b2"/>
<circle cx="264.4" cy="134.7" r="1.15" fill="#0173b2"/>
<circle cx="265.9" cy="135.9" r="1.15" fill="#0173b2"/>
<circle cx="253.9" cy="137.6" r="1.15" fill="#0173b2"/>
<circle cx="254.9" cy="139.4" r="1.15" fill="#0173b2"/>
<circle cx="256.3" cy="137.6" r="1.15" fill="#0173b2"/>
<circle cx="258.4" cy="138.2" r="1.15" fill="#0173b2"/>
<circle cx="259.5" cy="140.3" r="1.15" fill="#0173b2"/>
<circle cx="261.3" cy="138.2" r="1.15" fill="#0173b2"/>
<circle cx="262.4" cy="139.4" r="1.15" fill="#0173b2"/>
<circle cx="263.8" cy="138.2" r="1.15" fill="#0173b2"/>
<circle cx="265.1" cy="138.9" r="1.15" fill="#0173b2"/>
<circle cx="266.8" cy="137.5" r="1.15" fill="#0173b2"/>
<circle cx="268.3" cy="138.9" r="1.15" fill="#0173b2"/>
<circle cx="269.9" cy="140.5" r="1.15" fill="#0173b2"/>
<circle cx="271.6" cy="140.0" r="1.15" fill="#0173b2"/>
<circle cx="273.3" cy="139.0" r="1.15" fill="#0173b2"/>
<circle cx="253.2" cy="143.3" r="1.15" fill="#0173b2"/>
<circle cx="254.8" cy="141.1" r="1.15" fill="#0173b2"/>
<circle cx="256.0" cy="142.2" r="1.15" fill="#0173b2"/>
<circle cx="257.2" cy="141.7" r="1.15" fill="#0173b2"/>
<circle cx="258.8" cy="143.0" r="1.15" fill="#0173b2"/>
<circle cx="260.4" cy="142.0" r="1.15" fill="#0173b2"/>
<circle cx="261.7" cy="143.2" r="1.15" fill="#0173b2"/>
<circle cx="262.9" cy="142.5" r="1.15" fill="#0173b2"/>
<circle cx="264.5" cy="144.5" r="1.15" fill="#0173b2"/>
<circle cx="265.8" cy="142.9" r="1.15" fill="#0173b2"/>
<circle cx="267.4" cy="141.4" r="1.15" fill="#0173b2"/>
<circle cx="268.8" cy="143.2" r="1.15" fill="#0173b2"/>
<circle cx="270.3" cy="141.9" r="1.15" fill="#0173b2"/>
<circle cx="272.3" cy="146.0" r="1.15" fill="#0173b2"/>
<circle cx="274.6" cy="145.7" r="1.15" fill="#0173b2"/>
<circle cx="278.1" cy="144.6" r="1.15" fill="#0173b2"/>
<circle cx="256.3" cy="146.1" r="1.15" fill="#0173b2"/>
<circle cx="257.8" cy="145.6" r="1.15" fill="#0173b2"/>
<circle cx="260.6" cy="145.9" r="1.15" fill="#0173b2"/>
<circle cx="265.5" cy="145.6" r="1.15" fill="#0173b2"/>
<circle cx="268.9" cy="145.9" r="1.15" fill="#0173b2"/>
<circle cx="277.2" cy="133.9" r="1.15" fill="#0173b2"/>
<circle cx="278.8" cy="131.1" r="1.15" fill="#0173b2"/>
<circle cx="279.3" cy="125.9" r="1.15" fill="#0173b2"/>
<circle cx="280.3" cy="125.8" r="1.15" fill="#0173b2"/>
<circle cx="282.3" cy="127.1" r="1.15" fill="#0173b2"/>
<circle cx="283.1" cy="127.9" r="1.15" fill="#0173b2"/>
<circle cx="284.0" cy="134.6" r="1.15" fill="#0173b2"/>
<circle cx="281.2" cy="138.4" r="1.15" fill="#0173b2"/>
<circle cx="282.4" cy="139.1" r="1.15" fill="#0173b2"/>
<circle cx="284.4" cy="139.7" r="1.15" fill="#0173b2"/>
<circle cx="286.0" cy="138.6" r="1.15" fill="#0173b2"/>
<circle cx="283.7" cy="141.9" r="1.15" fill="#0173b2"/>
<circle cx="284.9" cy="143.8" r="1.15" fill="#0173b2"/>
<circle cx="281.9" cy="145.3" r="1.15" fill="#0173b2"/>
<circle cx="285.3" cy="125.7" r="1.15" fill="#0173b2"/>
<circle cx="247.4" cy="127.7" r="1.15" fill="#de8f05"/>
<circle cx="254.1" cy="135.7" r="1.15" fill="#de8f05"/>
<circle cx="254.8" cy="136.8" r="1.15" fill="#de8f05"/>
<circle cx="257.1" cy="135.1" r="1.15" fill="#de8f05"/>
<circle cx="281.8" cy="131.2" r="1.15" fill="#de8f05"/>
<circle cx="254.0" cy="145.4" r="1.15" fill="#de8f05"/>
<circle cx="259.8" cy="129.7" r="1.15" fill="#de8f05"/>
<circle cx="262.0" cy="139.5" r="1.15" fill="#de8f05"/>
<circle cx="255.0" cy="138.9" r="1.15" fill="#cc78bc"/>
<circle cx="262.2" cy="143.5" r="1.15" fill="#cc78bc"/>
<circle cx="249.7" cy="140.6" r="1.15" fill="#029e73"/>
<circle cx="279.4" cy="133.4" r="1.15" fill="#029e73"/>
<circle cx="295.3" cy="125.4" r="1.15" fill="#0173b2"/>
<circle cx="300.4" cy="125.6" r="1.15" fill="#0173b2"/>
<circle cx="306.5" cy="126.9" r="1.15" fill="#0173b2"/>
<circle cx="288.6" cy="128.7" r="1.15" fill="#0173b2"/>
<circle cx="287.0" cy="130.8" r="1.15" fill="#0173b2"/>
<circle cx="287.6" cy="133.7" r="1.15" fill="#0173b2"/>
<circle cx="291.6" cy="132.7" r="1.15" fill="#0173b2"/>
<circle cx="288.9" cy="135.7" r="1.15" fill="#0173b2"/>
<circle cx="286.5" cy="138.3" r="1.15" fill="#0173b2"/>
<circle cx="286.3" cy="141.3" r="1.15" fill="#0173b2"/>
<circle cx="289.1" cy="142.6" r="1.15" fill="#0173b2"/>
<circle cx="295.0" cy="139.3" r="1.15" fill="#0173b2"/>
<circle cx="296.8" cy="139.1" r="1.15" fill="#0173b2"/>
<circle cx="286.5" cy="145.5" r="1.15" fill="#0173b2"/>
<circle cx="288.9" cy="129.8" r="1.15" fill="#029e73"/>
<circle cx="290.7" cy="130.4" r="1.15" fill="#029e73"/>
<circle cx="302.5" cy="129.4" r="1.15" fill="#029e73"/>
<circle cx="301.6" cy="131.0" r="1.15" fill="#029e73"/>
<circle cx="308.3" cy="128.1" r="1.15" fill="#029e73"/>
<circle cx="296.9" cy="142.1" r="1.15" fill="#029e73"/>
<circle cx="289.5" cy="145.2" r="1.15" fill="#029e73"/>
<circle cx="257.5" cy="147.7" r="1.15" fill="#0173b2"/>
<circle cx="259.8" cy="148.0" r="1.15" fill="#0173b2"/>
<circle cx="261.4" cy="147.5" r="1.15" fill="#0173b2"/>
<circle cx="263.8" cy="148.2" r="1.15" fill="#0173b2"/>
<circle cx="265.7" cy="147.5" r="1.15" fill="#0173b2"/>
<circle cx="268.0" cy="148.6" r="1.15" fill="#0173b2"/>
<circle cx="270.4" cy="148.8" r="1.15" fill="#0173b2"/>
<circle cx="272.5" cy="149.9" r="1.15" fill="#0173b2"/>
<circle cx="274.7" cy="150.3" r="1.15" fill="#0173b2"/>
<circle cx="276.6" cy="150.9" r="1.15" fill="#0173b2"/>
<circle cx="257.9" cy="150.1" r="1.15" fill="#0173b2"/>
<circle cx="258.5" cy="151.5" r="1.15" fill="#0173b2"/>
<circle cx="262.2" cy="150.0" r="1.15" fill="#0173b2"/>
<circle cx="262.9" cy="151.3" r="1.15" fill="#0173b2"/>
<circle cx="265.3" cy="150.3" r="1.15" fill="#0173b2"/>
<circle cx="267.6" cy="150.2" r="1.15" fill="#0173b2"/>
<circle cx="270.1" cy="151.5" r="1.15" fill="#0173b2"/>
<circle cx="272.0" cy="152.5" r="1.15" fill="#0173b2"/>
<circle cx="274.2" cy="152.6" r="1.15" fill="#0173b2"/>
<circle cx="276.0" cy="153.2" r="1.15" fill="#0173b2"/>
<circle cx="278.0" cy="153.1" r="1.15" fill="#0173b2"/>
<circle cx="262.1" cy="157.7" r="1.15" fill="#0173b2"/>
<circle cx="263.7" cy="154.4" r="1.15" fill="#0173b2"/>
<circle cx="265.7" cy="153.9" r="1.15" fill="#0173b2"/>
<circle cx="267.3" cy="154.5" r="1.15" fill="#0173b2"/>
<circle cx="270.0" cy="155.2" r="1.15" fill="#0173b2"/>
<circle cx="271.8" cy="154.0" r="1.15" fill="#0173b2"/>
<circle cx="274.4" cy="154.8" r="1.15" fill="#0173b2"/>
<circle cx="276.2" cy="155.8" r="1.15" fill="#0173b2"/>
<circle cx="279.8" cy="156.0" r="1.15" fill="#0173b2"/>
<circle cx="264.4" cy="155.3" r="1.15" fill="#0173b2"/>
<circle cx="266.9" cy="156.5" r="1.15" fill="#0173b2"/>
<circle cx="269.3" cy="157.3" r="1.15" fill="#0173b2"/>
<circle cx="271.6" cy="157.6" r="1.15" fill="#0173b2"/>
<circle cx="273.4" cy="157.2" r="1.15" fill="#0173b2"/>
<circle cx="275.2" cy="157.7" r="1.15" fill="#0173b2"/>
<circle cx="277.8" cy="158.2" r="1.15" fill="#0173b2"/>
<circle cx="267.7" cy="159.0" r="1.15" fill="#0173b2"/>
<circle cx="269.7" cy="159.8" r="1.15" fill="#0173b2"/>
<circle cx="271.6" cy="158.9" r="1.15" fill="#0173b2"/>
<circle cx="274.0" cy="159.1" r="1.15" fill="#0173b2"/>
<circle cx="276.5" cy="159.6" r="1.15" fill="#0173b2"/>
<circle cx="278.8" cy="161.1" r="1.15" fill="#0173b2"/>
<circle cx="266.4" cy="160.7" r="1.15" fill="#0173b2"/>
<circle cx="268.1" cy="161.7" r="1.15" fill="#0173b2"/>
<circle cx="270.5" cy="161.4" r="1.15" fill="#0173b2"/>
<circle cx="272.5" cy="161.5" r="1.15" fill="#0173b2"/>
<circle cx="275.0" cy="162.5" r="1.15" fill="#0173b2"/>
<circle cx="277.4" cy="162.7" r="1.15" fill="#0173b2"/>
<circle cx="279.0" cy="162.2" r="1.15" fill="#0173b2"/>
<circle cx="265.5" cy="162.8" r="1.15" fill="#0173b2"/>
<circle cx="266.6" cy="163.3" r="1.15" fill="#0173b2"/>
<circle cx="270.3" cy="163.7" r="1.15" fill="#0173b2"/>
<circle cx="273.1" cy="164.1" r="1.15" fill="#0173b2"/>
<circle cx="275.2" cy="164.8" r="1.15" fill="#0173b2"/>
<circle cx="277.4" cy="165.2" r="1.15" fill="#0173b2"/>
<circle cx="279.5" cy="164.0" r="1.15" fill="#0173b2"/>
<circle cx="281.5" cy="164.5" r="1.15" fill="#0173b2"/>
<circle cx="271.0" cy="165.9" r="1.15" fill="#0173b2"/>
<circle cx="273.8" cy="165.8" r="1.15" fill="#0173b2"/>
<circle cx="275.7" cy="166.4" r="1.15" fill="#0173b2"/>
<circle cx="277.6" cy="166.9" r="1.15" fill="#0173b2"/>
<circle cx="279.5" cy="167.0" r="1.15" fill="#0173b2"/>
<circle cx="267.7" cy="166.5" r="1.15" fill="#0173b2"/>
<circle cx="266.9" cy="168.2" r="1.15" fill="#0173b2"/>
<circle cx="271.8" cy="168.1" r="1.15" fill="#0173b2"/>
<circle cx="274.0" cy="168.8" r="1.15" fill="#0173b2"/>
<circle cx="276.3" cy="168.7" r="1.15" fill="#0173b2"/>
<circle cx="278.1" cy="168.5" r="1.15" fill="#0173b2"/>
<circle cx="281.0" cy="169.5" r="1.15" fill="#0173b2"/>
<circle cx="271.6" cy="168.8" r="1.15" fill="#de8f05"/>
<circle cx="258.6" cy="146.9" r="1.15" fill="#de8f05"/>
<circle cx="259.0" cy="150.4" r="1.15" fill="#cc78bc"/>
<circle cx="254.2" cy="148.1" r="1.15" fill="#029e73"/>
<circle cx="262.8" cy="164.5" r="1.15" fill="#029e73"/>
<circle cx="270.1" cy="167.3" r="1.15" fill="#029e73"/>
<circle cx="282.7" cy="149.5" r="1.15" fill="#0173b2"/>
<circle cx="282.5" cy="151.0" r="1.15" fill="#0173b2"/>
<circle cx="287.2" cy="163.7" r="1.15" fill="#0173b2"/>
<circle cx="282.9" cy="163.9" r="1.15" fill="#0173b2"/>
<circle cx="284.6" cy="168.4" r="1.15" fill="#0173b2"/>
<circle cx="295.4" cy="149.8" r="1.15" fill="#029e73"/>
<circle cx="282.3" cy="158.8" r="1.15" fill="#029e73"/>
<circle cx="332.8" cy="47.4" r="1.15" fill="#0173b2"/>
<circle cx="335.1" cy="55.3" r="1.15" fill="#0173b2"/>
<circle cx="340.4" cy="54.4" r="1.15" fill="#0173b2"/>
<circle cx="344.8" cy="55.7" r="1.15" fill="#0173b2"/>
<circle cx="346.0" cy="58.3" r="1.15" fill="#0173b2"/>
<circle cx="336.8" cy="58.8" r="1.15" fill="#0173b2"/>
<circle cx="338.9" cy="62.8" r="1.15" fill="#0173b2"/>
<circle cx="336.0" cy="65.1" r="1.15" fill="#0173b2"/>
<circle cx="335.4" cy="66.0" r="1.15" fill="#0173b2"/>
<circle cx="352.1" cy="53.3" r="1.15" fill="#0173b2"/>
<circle cx="361.4" cy="55.8" r="1.15" fill="#0173b2"/>
<circle cx="360.2" cy="60.0" r="1.15" fill="#0173b2"/>
<circle cx="352.9" cy="63.3" r="1.15" fill="#0173b2"/>
<circle cx="341.3" cy="47.6" r="1.15" fill="#d55e00"/>
<circle cx="341.3" cy="50.7" r="1.15" fill="#d55e00"/>
<circle cx="350.5" cy="48.4" r="1.15" fill="#d55e00"/>
<circle cx="352.7" cy="47.0" r="1.15" fill="#d55e00"/>
<circle cx="359.6" cy="47.5" r="1.15" fill="#d55e00"/>
<circle cx="367.6" cy="53.8" r="1.15" fill="#d55e00"/>
<circle cx="350.8" cy="56.8" r="1.15" fill="#d55e00"/>
<circle cx="366.4" cy="58.1" r="1.15" fill="#d55e00"/>
<circle cx="370.1" cy="60.7" r="1.15" fill="#d55e00"/>
<circle cx="359.3" cy="60.1" r="1.15" fill="#d55e00"/>
<circle cx="333.3" cy="58.2" r="1.15" fill="#d55e00"/>
<circle cx="340.5" cy="58.9" r="1.15" fill="#d55e00"/>
<circle cx="341.3" cy="61.6" r="1.15" fill="#d55e00"/>
<circle cx="343.6" cy="61.4" r="1.15" fill="#d55e00"/>
<circle cx="346.6" cy="60.5" r="1.15" fill="#d55e00"/>
<circle cx="349.2" cy="61.3" r="1.15" fill="#d55e00"/>
<circle cx="346.1" cy="64.1" r="1.15" fill="#d55e00"/>
<circle cx="342.0" cy="64.7" r="1.15" fill="#d55e00"/>
<circle cx="332.8" cy="63.4" r="1.15" fill="#d55e00"/>
<circle cx="332.2" cy="64.7" r="1.15" fill="#d55e00"/>
<circle cx="341.2" cy="67.6" r="1.15" fill="#d55e00"/>
<circle cx="343.5" cy="68.3" r="1.15" fill="#d55e00"/>
<circle cx="352.7" cy="69.1" r="1.15" fill="#d55e00"/>
<circle cx="375.7" cy="67.7" r="1.15" fill="#d55e00"/>
<circle cx="275.0" cy="23.6" r="1.15" fill="#0173b2"/>
<circle cx="309.1" cy="19.1" r="1.15" fill="#0173b2"/>
<circle cx="313.1" cy="8.4" r="1.15" fill="#0173b2"/>
<circle cx="311.2" cy="26.7" r="1.15" fill="#0173b2"/>
<circle cx="313.3" cy="23.3" r="1.15" fill="#0173b2"/>
<circle cx="301.4" cy="28.0" r="1.15" fill="#0173b2"/>
<circle cx="302.8" cy="31.8" r="1.15" fill="#0173b2"/>
<circle cx="277.2" cy="38.4" r="1.15" fill="#0173b2"/>
<circle cx="273.9" cy="43.7" r="1.15" fill="#0173b2"/>
<circle cx="274.2" cy="45.8" r="1.15" fill="#0173b2"/>
<circle cx="288.6" cy="45.5" r="1.15" fill="#0173b2"/>
<circle cx="290.0" cy="44.2" r="1.15" fill="#0173b2"/>
<circle cx="297.7" cy="44.3" r="1.15" fill="#0173b2"/>
<circle cx="299.7" cy="41.5" r="1.15" fill="#0173b2"/>
<circle cx="302.6" cy="39.8" r="1.15" fill="#0173b2"/>
<circle cx="303.5" cy="43.7" r="1.15" fill="#0173b2"/>
<circle cx="306.8" cy="36.9" r="1.15" fill="#0173b2"/>
<circle cx="308.2" cy="42.6" r="1.15" fill="#0173b2"/>
<circle cx="310.6" cy="41.2" r="1.15" fill="#0173b2"/>
<circle cx="320.1" cy="17.6" r="1.15" fill="#0173b2"/>
<circle cx="321.6" cy="16.7" r="1.15" fill="#0173b2"/>
<circle cx="324.1" cy="15.2" r="1.15" fill="#0173b2"/>
<circle cx="321.5" cy="19.4" r="1.15" fill="#0173b2"/>
<circle cx="322.1" cy="22.5" r="1.15" fill="#0173b2"/>
<circle cx="323.4" cy="23.1" r="1.15" fill="#0173b2"/>
<circle cx="315.0" cy="23.6" r="1.15" fill="#0173b2"/>
<circle cx="317.6" cy="22.7" r="1.15" fill="#0173b2"/>
<circle cx="318.1" cy="24.2" r="1.15" fill="#0173b2"/>
<circle cx="319.8" cy="27.1" r="1.15" fill="#0173b2"/>
<circle cx="318.7" cy="28.1" r="1.15" fill="#0173b2"/>
<circle cx="324.1" cy="27.9" r="1.15" fill="#0173b2"/>
<circle cx="333.1" cy="27.2" r="1.15" fill="#0173b2"/>
<circle cx="337.3" cy="25.8" r="1.15" fill="#0173b2"/>
<circle cx="338.6" cy="27.5" r="1.15" fill="#0173b2"/>
<circle cx="315.5" cy="32.4" r="1.15" fill="#0173b2"/>
<circle cx="319.9" cy="32.5" r="1.15" fill="#0173b2"/>
<circle cx="322.7" cy="33.3" r="1.15" fill="#0173b2"/>
<circle cx="325.5" cy="33.6" r="1.15" fill="#0173b2"/>
<circle cx="328.9" cy="31.6" r="1.15" fill="#0173b2"/>
<circle cx="331.0" cy="32.1" r="1.15" fill="#0173b2"/>
<circle cx="326.1" cy="35.3" r="1.15" fill="#0173b2"/>
<circle cx="328.3" cy="36.9" r="1.15" fill="#0173b2"/>
<circle cx="327.8" cy="39.4" r="1.15" fill="#0173b2"/>
<circle cx="343.6" cy="36.5" r="1.15" fill="#0173b2"/>
<circle cx="344.7" cy="37.3" r="1.15" fill="#0173b2"/>
<circle cx="320.3" cy="39.5" r="1.15" fill="#0173b2"/>
<circle cx="319.4" cy="42.3" r="1.15" fill="#0173b2"/>
<circle cx="322.0" cy="43.1" r="1.15" fill="#0173b2"/>
<circle cx="324.6" cy="44.2" r="1.15" fill="#0173b2"/>
<circle cx="325.8" cy="44.5" r="1.15" fill="#0173b2"/>
<circle cx="336.0" cy="41.5" r="1.15" fill="#0173b2"/>
<circle cx="332.2" cy="44.8" r="1.15" fill="#0173b2"/>
<circle cx="349.2" cy="45.2" r="1.15" fill="#0173b2"/>
<circle cx="377.5" cy="32.2" r="1.15" fill="#0173b2"/>
<circle cx="318.1" cy="41.3" r="1.15" fill="#029e73"/>
<circle cx="338.5" cy="32.0" r="1.15" fill="#d55e00"/>
<circle cx="339.8" cy="34.4" r="1.15" fill="#d55e00"/>
<circle cx="329.2" cy="35.1" r="1.15" fill="#d55e00"/>
<circle cx="328.0" cy="37.4" r="1.15" fill="#d55e00"/>
<circle cx="330.2" cy="38.8" r="1.15" fill="#d55e00"/>
<circle cx="340.2" cy="38.5" r="1.15" fill="#d55e00"/>
<circle cx="325.4" cy="41.1" r="1.15" fill="#d55e00"/>
<circle cx="320.7" cy="41.7" r="1.15" fill="#d55e00"/>
<circle cx="332.6" cy="44.0" r="1.15" fill="#d55e00"/>
<circle cx="270.7" cy="53.8" r="1.15" fill="#0173b2"/>
<circle cx="289.9" cy="51.5" r="1.15" fill="#0173b2"/>
<circle cx="295.7" cy="48.6" r="1.15" fill="#0173b2"/>
<circle cx="311.5" cy="53.6" r="1.15" fill="#0173b2"/>
<circle cx="317.1" cy="49.3" r="1.15" fill="#0173b2"/>
<circle cx="315.6" cy="53.1" r="1.15" fill="#0173b2"/>
<circle cx="321.3" cy="52.6" r="1.15" fill="#0173b2"/>
<circle cx="328.5" cy="48.5" r="1.15" fill="#0173b2"/>
<circle cx="331.7" cy="52.6" r="1.15" fill="#0173b2"/>
<circle cx="381.3" cy="64.1" r="1.15" fill="#0173b2"/>
<circle cx="386.4" cy="66.1" r="1.15" fill="#0173b2"/>
<circle cx="390.6" cy="64.3" r="1.15" fill="#0173b2"/>
<circle cx="389.7" cy="66.7" r="1.15" fill="#0173b2"/>
<circle cx="388.9" cy="70.5" r="1.15" fill="#0173b2"/>
<circle cx="393.1" cy="54.4" r="1.15" fill="#0173b2"/>
<circle cx="339.7" cy="85.1" r="1.15" fill="#0173b2"/>
<circle cx="333.5" cy="72.6" r="1.15" fill="#0173b2"/>
<circle cx="336.2" cy="73.5" r="1.15" fill="#0173b2"/>
<circle cx="339.2" cy="75.0" r="1.15" fill="#0173b2"/>
<circle cx="314.6" cy="49.8" r="1.15" fill="#029e73"/>
<circle cx="334.7" cy="70.9" r="1.15" fill="#d55e00"/>
<circle cx="338.0" cy="75.0" r="1.15" fill="#d55e00"/>
<circle cx="341.1" cy="74.0" r="1.15" fill="#d55e00"/>
<circle cx="343.9" cy="73.3" r="1.15" fill="#d55e00"/>
<circle cx="332.8" cy="77.2" r="1.15" fill="#d55e00"/>
<circle cx="379.7" cy="74.0" r="1.15" fill="#d55e00"/>
<circle cx="382.5" cy="75.5" r="1.15" fill="#d55e00"/>
<circle cx="255.2" cy="172.0" r="1.15" fill="#0173b2"/>
<circle cx="242.9" cy="180.7" r="1.15" fill="#0173b2"/>
<circle cx="242.0" cy="182.0" r="1.15" fill="#0173b2"/>
<circle cx="255.7" cy="183.9" r="1.15" fill="#0173b2"/>
<circle cx="242.0" cy="188.2" r="1.15" fill="#0173b2"/>
<circle cx="273.3" cy="173.0" r="1.15" fill="#0173b2"/>
<circle cx="275.1" cy="171.3" r="1.15" fill="#0173b2"/>
<circle cx="277.0" cy="171.2" r="1.15" fill="#0173b2"/>
<circle cx="277.8" cy="172.4" r="1.15" fill="#0173b2"/>
<circle cx="279.4" cy="171.7" r="1.15" fill="#0173b2"/>
<circle cx="280.8" cy="172.5" r="1.15" fill="#0173b2"/>
<circle cx="277.3" cy="174.2" r="1.15" fill="#0173b2"/>
<circle cx="282.9" cy="173.0" r="1.15" fill="#0173b2"/>
<circle cx="286.2" cy="174.8" r="1.15" fill="#0173b2"/>
<circle cx="289.6" cy="175.5" r="1.15" fill="#0173b2"/>
<circle cx="284.5" cy="176.3" r="1.15" fill="#0173b2"/>
<circle cx="287.5" cy="176.8" r="1.15" fill="#0173b2"/>
<circle cx="290.4" cy="177.1" r="1.15" fill="#0173b2"/>
<circle cx="293.9" cy="178.1" r="1.15" fill="#0173b2"/>
<circle cx="292.0" cy="172.5" r="1.15" fill="#0173b2"/>
<circle cx="299.6" cy="175.1" r="1.15" fill="#0173b2"/>
<circle cx="276.4" cy="178.9" r="1.15" fill="#0173b2"/>
<circle cx="283.3" cy="178.7" r="1.15" fill="#0173b2"/>
<circle cx="285.0" cy="180.4" r="1.15" fill="#0173b2"/>
<circle cx="287.5" cy="180.2" r="1.15" fill="#0173b2"/>
<circle cx="286.2" cy="183.1" r="1.15" fill="#0173b2"/>
<circle cx="288.9" cy="182.0" r="1.15" fill="#0173b2"/>
<circle cx="292.3" cy="181.8" r="1.15" fill="#0173b2"/>
<circle cx="295.2" cy="180.7" r="1.15" fill="#0173b2"/>
<circle cx="296.4" cy="180.1" r="1.15" fill="#0173b2"/>
<circle cx="298.0" cy="181.2" r="1.15" fill="#0173b2"/>
<circle cx="299.9" cy="181.6" r="1.15" fill="#0173b2"/>
<circle cx="301.4" cy="183.2" r="1.15" fill="#0173b2"/>
<circle cx="290.5" cy="184.4" r="1.15" fill="#0173b2"/>
<circle cx="294.2" cy="184.7" r="1.15" fill="#0173b2"/>
<circle cx="289.4" cy="189.1" r="1.15" fill="#0173b2"/>
<circle cx="296.3" cy="187.4" r="1.15" fill="#0173b2"/>
<circle cx="297.7" cy="186.3" r="1.15" fill="#0173b2"/>
<circle cx="301.2" cy="187.4" r="1.15" fill="#0173b2"/>
<circle cx="302.4" cy="187.6" r="1.15" fill="#0173b2"/>
<circle cx="304.2" cy="187.5" r="1.15" fill="#0173b2"/>
<circle cx="305.9" cy="186.8" r="1.15" fill="#0173b2"/>
<circle cx="300.8" cy="189.5" r="1.15" fill="#0173b2"/>
<circle cx="297.7" cy="188.9" r="1.15" fill="#0173b2"/>
<circle cx="298.4" cy="192.3" r="1.15" fill="#0173b2"/>
<circle cx="299.5" cy="193.4" r="1.15" fill="#0173b2"/>
<circle cx="297.7" cy="197.1" r="1.15" fill="#0173b2"/>
<circle cx="296.4" cy="196.4" r="1.15" fill="#0173b2"/>
<circle cx="294.8" cy="198.8" r="1.15" fill="#0173b2"/>
<circle cx="299.3" cy="197.2" r="1.15" fill="#0173b2"/>
<circle cx="297.8" cy="201.3" r="1.15" fill="#0173b2"/>
<circle cx="298.7" cy="202.8" r="1.15" fill="#0173b2"/>
<circle cx="298.1" cy="203.8" r="1.15" fill="#0173b2"/>
<circle cx="299.4" cy="205.6" r="1.15" fill="#0173b2"/>
<circle cx="302.3" cy="206.0" r="1.15" fill="#0173b2"/>
<circle cx="296.4" cy="207.2" r="1.15" fill="#0173b2"/>
<circle cx="290.1" cy="204.3" r="1.15" fill="#0173b2"/>
<circle cx="293.4" cy="204.4" r="1.15" fill="#0173b2"/>
<circle cx="301.7" cy="212.6" r="1.15" fill="#0173b2"/>
<circle cx="303.0" cy="213.9" r="1.15" fill="#0173b2"/>
<circle cx="302.8" cy="214.5" r="1.15" fill="#0173b2"/>
<circle cx="300.9" cy="211.7" r="1.15" fill="#0173b2"/>
<circle cx="297.1" cy="211.9" r="1.15" fill="#0173b2"/>
<circle cx="272.9" cy="171.5" r="1.15" fill="#029e73"/>
<circle cx="286.4" cy="176.4" r="1.15" fill="#029e73"/>
<circle cx="301.4" cy="203.1" r="1.15" fill="#029e73"/>
<circle cx="299.5" cy="209.0" r="1.15" fill="#029e73"/>
<circle cx="306.6" cy="211.1" r="1.15" fill="#029e73"/>
<circle cx="298.0" cy="214.4" r="1.15" fill="#029e73"/>
<circle cx="308.4" cy="215.9" r="1.15" fill="#d55e00"/>
<circle cx="242.8" cy="224.6" r="1.15" fill="#0173b2"/>
<circle cx="243.3" cy="231.6" r="1.15" fill="#0173b2"/>
<circle cx="238.0" cy="235.8" r="1.15" fill="#0173b2"/>
<circle cx="241.6" cy="234.9" r="1.15" fill="#0173b2"/>
<circle cx="245.9" cy="247.5" r="1.15" fill="#0173b2"/>
<circle cx="249.2" cy="253.7" r="1.15" fill="#0173b2"/>
<circle cx="295.8" cy="221.6" r="1.15" fill="#0173b2"/>
<circle cx="304.2" cy="221.6" r="1.15" fill="#0173b2"/>
<circle cx="310.1" cy="230.1" r="1.15" fill="#0173b2"/>
<circle cx="308.3" cy="232.8" r="1.15" fill="#0173b2"/>
<circle cx="308.3" cy="236.2" r="1.15" fill="#0173b2"/>
<circle cx="243.3" cy="238.1" r="1.15" fill="#de8f05"/>
<circle cx="243.3" cy="241.5" r="1.15" fill="#de8f05"/>
<circle cx="244.5" cy="241.4" r="1.15" fill="#de8f05"/>
<circle cx="244.6" cy="247.4" r="1.15" fill="#de8f05"/>
<circle cx="252.0" cy="258.4" r="1.15" fill="#de8f05"/>
<circle cx="291.0" cy="225.4" r="1.15" fill="#029e73"/>
<circle cx="298.3" cy="239.7" r="1.15" fill="#029e73"/>
<circle cx="299.4" cy="224.7" r="1.15" fill="#029e73"/>
<circle cx="301.7" cy="224.2" r="1.15" fill="#029e73"/>
<circle cx="300.6" cy="219.4" r="1.15" fill="#029e73"/>
<circle cx="304.9" cy="218.7" r="1.15" fill="#029e73"/>
<circle cx="306.4" cy="219.9" r="1.15" fill="#029e73"/>
<circle cx="306.4" cy="225.0" r="1.15" fill="#029e73"/>
<circle cx="309.5" cy="232.4" r="1.15" fill="#029e73"/>
<circle cx="307.9" cy="236.6" r="1.15" fill="#d55e00"/>
<circle cx="264.4" cy="271.0" r="1.15" fill="#0173b2"/>
<circle cx="264.7" cy="271.3" r="1.15" fill="#0173b2"/>
<circle cx="306.7" cy="270.5" r="1.15" fill="#0173b2"/>
<circle cx="308.5" cy="270.5" r="1.15" fill="#0173b2"/>
<circle cx="314.0" cy="238.2" r="1.15" fill="#0173b2"/>
<circle cx="318.0" cy="237.4" r="1.15" fill="#0173b2"/>
<circle cx="319.6" cy="244.5" r="1.15" fill="#0173b2"/>
<circle cx="320.4" cy="244.9" r="1.15" fill="#0173b2"/>
<circle cx="323.4" cy="244.4" r="1.15" fill="#0173b2"/>
<circle cx="327.3" cy="242.2" r="1.15" fill="#0173b2"/>
<circle cx="327.8" cy="240.9" r="1.15" fill="#0173b2"/>
<circle cx="322.4" cy="248.2" r="1.15" fill="#0173b2"/>
<circle cx="324.2" cy="248.3" r="1.15" fill="#0173b2"/>
<circle cx="334.4" cy="248.9" r="1.15" fill="#0173b2"/>
<circle cx="342.3" cy="243.6" r="1.15" fill="#0173b2"/>
<circle cx="340.2" cy="247.1" r="1.15" fill="#0173b2"/>
<circle cx="332.3" cy="254.4" r="1.15" fill="#0173b2"/>
<circle cx="333.1" cy="253.9" r="1.15" fill="#0173b2"/>
<circle cx="343.5" cy="255.7" r="1.15" fill="#0173b2"/>
<circle cx="333.5" cy="262.1" r="1.15" fill="#0173b2"/>
<circle cx="337.3" cy="260.8" r="1.15" fill="#0173b2"/>
<circle cx="345.0" cy="267.2" r="1.15" fill="#0173b2"/>
<circle cx="347.6" cy="273.4" r="1.15" fill="#0173b2"/>
<circle cx="365.5" cy="260.5" r="1.15" fill="#0173b2"/>
<circle cx="364.8" cy="273.3" r="1.15" fill="#0173b2"/>
<circle cx="321.4" cy="245.1" r="1.15" fill="#029e73"/>
<circle cx="339.1" cy="244.6" r="1.15" fill="#d55e00"/>
<circle cx="296.9" cy="70.0" r="1.15" fill="#0173b2"/>
<circle cx="312.8" cy="59.4" r="1.15" fill="#0173b2"/>
<circle cx="318.8" cy="58.2" r="1.15" fill="#0173b2"/>
<circle cx="322.1" cy="58.7" r="1.15" fill="#0173b2"/>
<circle cx="319.0" cy="61.3" r="1.15" fill="#0173b2"/>
<circle cx="319.5" cy="61.4" r="1.15" fill="#0173b2"/>
<circle cx="318.5" cy="63.3" r="1.15" fill="#0173b2"/>
<circle cx="319.5" cy="65.2" r="1.15" fill="#0173b2"/>
<circle cx="320.0" cy="64.5" r="1.15" fill="#0173b2"/>
<circle cx="316.7" cy="65.9" r="1.15" fill="#0173b2"/>
<circle cx="318.4" cy="68.9" r="1.15" fill="#0173b2"/>
<circle cx="316.7" cy="69.8" r="1.15" fill="#0173b2"/>
<circle cx="317.8" cy="72.7" r="1.15" fill="#0173b2"/>
<circle cx="316.5" cy="72.1" r="1.15" fill="#0173b2"/>
<circle cx="314.9" cy="73.4" r="1.15" fill="#0173b2"/>
<circle cx="318.0" cy="74.4" r="1.15" fill="#0173b2"/>
<circle cx="319.0" cy="78.0" r="1.15" fill="#0173b2"/>
<circle cx="310.8" cy="60.4" r="1.15" fill="#029e73"/>
<circle cx="321.9" cy="56.8" r="1.15" fill="#d55e00"/>
<circle cx="284.2" cy="99.9" r="1.15" fill="#0173b2"/>
<circle cx="299.7" cy="79.4" r="1.15" fill="#0173b2"/>
<circle cx="318.3" cy="79.4" r="1.15" fill="#0173b2"/>
<circle cx="295.1" cy="84.5" r="1.15" fill="#0173b2"/>
<circle cx="295.0" cy="82.0" r="1.15" fill="#0173b2"/>
<circle cx="296.2" cy="85.1" r="1.15" fill="#0173b2"/>
<circle cx="297.6" cy="82.4" r="1.15" fill="#0173b2"/>
<circle cx="295.8" cy="86.4" r="1.15" fill="#0173b2"/>
<circle cx="296.0" cy="86.5" r="1.15" fill="#0173b2"/>
<circle cx="298.6" cy="85.2" r="1.15" fill="#0173b2"/>
<circle cx="299.0" cy="86.9" r="1.15" fill="#0173b2"/>
<circle cx="307.9" cy="88.0" r="1.15" fill="#0173b2"/>
<circle cx="292.7" cy="91.7" r="1.15" fill="#0173b2"/>
<circle cx="293.8" cy="89.7" r="1.15" fill="#0173b2"/>
<circle cx="293.5" cy="90.7" r="1.15" fill="#0173b2"/>
<circle cx="294.5" cy="93.0" r="1.15" fill="#0173b2"/>
<circle cx="308.3" cy="89.9" r="1.15" fill="#0173b2"/>
<circle cx="308.6" cy="92.1" r="1.15" fill="#0173b2"/>
<circle cx="292.8" cy="93.7" r="1.15" fill="#0173b2"/>
<circle cx="293.7" cy="92.8" r="1.15" fill="#0173b2"/>
<circle cx="293.3" cy="93.1" r="1.15" fill="#0173b2"/>
<circle cx="296.9" cy="94.3" r="1.15" fill="#0173b2"/>
<circle cx="293.8" cy="95.7" r="1.15" fill="#0173b2"/>
<circle cx="292.8" cy="93.9" r="1.15" fill="#0173b2"/>
<circle cx="291.7" cy="98.4" r="1.15" fill="#0173b2"/>
<circle cx="294.5" cy="98.0" r="1.15" fill="#0173b2"/>
<circle cx="289.4" cy="99.7" r="1.15" fill="#0173b2"/>
<circle cx="303.1" cy="79.4" r="1.15" fill="#029e73"/>
<circle cx="295.2" cy="99.8" r="1.15" fill="#029e73"/>
<circle cx="288.3" cy="102.6" r="1.15" fill="#0173b2"/>
<circle cx="291.7" cy="101.3" r="1.15" fill="#0173b2"/>
<circle cx="293.8" cy="102.0" r="1.15" fill="#0173b2"/>
<circle cx="297.1" cy="104.1" r="1.15" fill="#0173b2"/>
<circle cx="291.5" cy="105.0" r="1.15" fill="#0173b2"/>
<circle cx="295.8" cy="105.4" r="1.15" fill="#0173b2"/>
<circle cx="296.8" cy="107.2" r="1.15" fill="#0173b2"/>
<circle cx="282.6" cy="113.1" r="1.15" fill="#0173b2"/>
<circle cx="282.3" cy="109.4" r="1.15" fill="#0173b2"/>
<circle cx="290.2" cy="110.9" r="1.15" fill="#0173b2"/>
<circle cx="293.7" cy="110.2" r="1.15" fill="#0173b2"/>
<circle cx="295.7" cy="106.6" r="1.15" fill="#0173b2"/>
<circle cx="285.5" cy="115.5" r="1.15" fill="#0173b2"/>
<circle cx="288.2" cy="114.7" r="1.15" fill="#0173b2"/>
<circle cx="289.1" cy="113.6" r="1.15" fill="#0173b2"/>
<circle cx="289.5" cy="114.1" r="1.15" fill="#0173b2"/>
<circle cx="295.9" cy="112.7" r="1.15" fill="#0173b2"/>
<circle cx="280.6" cy="119.1" r="1.15" fill="#0173b2"/>
<circle cx="280.2" cy="118.3" r="1.15" fill="#0173b2"/>
<circle cx="283.1" cy="120.0" r="1.15" fill="#0173b2"/>
<circle cx="283.6" cy="118.1" r="1.15" fill="#0173b2"/>
<circle cx="284.8" cy="117.9" r="1.15" fill="#0173b2"/>
<circle cx="287.1" cy="117.6" r="1.15" fill="#0173b2"/>
<circle cx="286.9" cy="117.9" r="1.15" fill="#0173b2"/>
<circle cx="288.6" cy="119.3" r="1.15" fill="#0173b2"/>
<circle cx="291.9" cy="117.8" r="1.15" fill="#0173b2"/>
<circle cx="294.2" cy="116.8" r="1.15" fill="#0173b2"/>
<circle cx="282.5" cy="120.0" r="1.15" fill="#0173b2"/>
<circle cx="287.5" cy="119.7" r="1.15" fill="#0173b2"/>
<circle cx="288.3" cy="120.1" r="1.15" fill="#0173b2"/>
<circle cx="290.0" cy="121.3" r="1.15" fill="#0173b2"/>
<circle cx="290.3" cy="120.5" r="1.15" fill="#0173b2"/>
<circle cx="291.8" cy="120.2" r="1.15" fill="#0173b2"/>
<circle cx="292.2" cy="121.2" r="1.15" fill="#0173b2"/>
<circle cx="293.6" cy="119.8" r="1.15" fill="#0173b2"/>
<circle cx="286.0" cy="122.7" r="1.15" fill="#0173b2"/>
<circle cx="306.6" cy="101.6" r="1.15" fill="#029e73"/>
<circle cx="261.4" cy="128.7" r="1.15" fill="#0173b2"/>
<circle cx="261.0" cy="134.5" r="1.15" fill="#0173b2"/>
<circle cx="263.6" cy="131.7" r="1.15" fill="#0173b2"/>
<circle cx="263.2" cy="132.2" r="1.15" fill="#0173b2"/>
<circle cx="266.2" cy="131.7" r="1.15" fill="#0173b2"/>
<circle cx="267.8" cy="132.7" r="1.15" fill="#0173b2"/>
<circle cx="268.2" cy="133.9" r="1.15" fill="#0173b2"/>
<circle cx="267.9" cy="134.6" r="1.15" fill="#0173b2"/>
<circle cx="257.8" cy="134.6" r="1.15" fill="#0173b2"/>
<circle cx="259.6" cy="137.7" r="1.15" fill="#0173b2"/>
<circle cx="262.3" cy="135.2" r="1.15" fill="#0173b2"/>
<circle cx="264.2" cy="134.9" r="1.15" fill="#0173b2"/>
<circle cx="264.6" cy="135.9" r="1.15" fill="#0173b2"/>
<circle cx="265.5" cy="137.1" r="1.15" fill="#0173b2"/>
<circle cx="254.3" cy="136.5" r="1.15" fill="#0173b2"/>
<circle cx="254.5" cy="139.3" r="1.15" fill="#0173b2"/>
<circle cx="255.7" cy="138.2" r="1.15" fill="#0173b2"/>
<circle cx="257.6" cy="138.9" r="1.15" fill="#0173b2"/>
<circle cx="259.0" cy="139.1" r="1.15" fill="#0173b2"/>
<circle cx="261.5" cy="137.2" r="1.15" fill="#0173b2"/>
<circle cx="262.5" cy="140.2" r="1.15" fill="#0173b2"/>
<circle cx="264.1" cy="138.1" r="1.15" fill="#0173b2"/>
<circle cx="263.9" cy="139.0" r="1.15" fill="#0173b2"/>
<circle cx="265.8" cy="137.9" r="1.15" fill="#0173b2"/>
<circle cx="269.0" cy="140.7" r="1.15" fill="#0173b2"/>
<circle cx="254.5" cy="140.7" r="1.15" fill="#0173b2"/>
<circle cx="256.4" cy="141.3" r="1.15" fill="#0173b2"/>
<circle cx="256.3" cy="142.8" r="1.15" fill="#0173b2"/>
<circle cx="258.3" cy="143.9" r="1.15" fill="#0173b2"/>
<circle cx="261.3" cy="141.9" r="1.15" fill="#0173b2"/>
<circle cx="260.8" cy="142.2" r="1.15" fill="#0173b2"/>
<circle cx="263.9" cy="141.5" r="1.15" fill="#0173b2"/>
<circle cx="264.5" cy="144.6" r="1.15" fill="#0173b2"/>
<circle cx="264.8" cy="142.8" r="1.15" fill="#0173b2"/>
<circle cx="266.6" cy="141.5" r="1.15" fill="#0173b2"/>
<circle cx="268.9" cy="142.9" r="1.15" fill="#0173b2"/>
<circle cx="255.5" cy="145.8" r="1.15" fill="#0173b2"/>
<circle cx="257.0" cy="144.6" r="1.15" fill="#0173b2"/>
<circle cx="259.9" cy="146.9" r="1.15" fill="#0173b2"/>
<circle cx="284.4" cy="140.7" r="1.15" fill="#0173b2"/>
<circle cx="252.8" cy="136.9" r="1.15" fill="#de8f05"/>
<circle cx="254.8" cy="137.6" r="1.15" fill="#de8f05"/>
<circle cx="257.2" cy="135.6" r="1.15" fill="#de8f05"/>
<circle cx="261.3" cy="140.2" r="1.15" fill="#de8f05"/>
<circle cx="254.1" cy="138.3" r="1.15" fill="#cc78bc"/>
<circle cx="260.9" cy="143.2" r="1.15" fill="#cc78bc"/>
<circle cx="286.4" cy="140.7" r="1.15" fill="#0173b2"/>
<circle cx="258.5" cy="146.6" r="1.15" fill="#0173b2"/>
<circle cx="260.0" cy="147.3" r="1.15" fill="#0173b2"/>
<circle cx="261.7" cy="148.3" r="1.15" fill="#0173b2"/>
<circle cx="264.4" cy="147.0" r="1.15" fill="#0173b2"/>
<circle cx="267.4" cy="148.9" r="1.15" fill="#0173b2"/>
<circle cx="263.5" cy="148.8" r="1.15" fill="#0173b2"/>
<circle cx="265.6" cy="150.8" r="1.15" fill="#0173b2"/>
<circle cx="270.9" cy="151.1" r="1.15" fill="#0173b2"/>
<circle cx="275.0" cy="152.5" r="1.15" fill="#0173b2"/>
<circle cx="277.1" cy="151.9" r="1.15" fill="#0173b2"/>
<circle cx="272.9" cy="153.7" r="1.15" fill="#0173b2"/>
<circle cx="274.2" cy="153.7" r="1.15" fill="#0173b2"/>
<circle cx="275.5" cy="156.4" r="1.15" fill="#0173b2"/>
<circle cx="267.4" cy="155.6" r="1.15" fill="#0173b2"/>
<circle cx="268.9" cy="156.4" r="1.15" fill="#0173b2"/>
<circle cx="270.8" cy="156.8" r="1.15" fill="#0173b2"/>
<circle cx="272.9" cy="158.4" r="1.15" fill="#0173b2"/>
<circle cx="276.5" cy="158.5" r="1.15" fill="#0173b2"/>
<circle cx="277.7" cy="158.2" r="1.15" fill="#0173b2"/>
<circle cx="268.5" cy="160.1" r="1.15" fill="#0173b2"/>
<circle cx="270.4" cy="160.1" r="1.15" fill="#0173b2"/>
<circle cx="270.8" cy="159.2" r="1.15" fill="#0173b2"/>
<circle cx="274.9" cy="159.8" r="1.15" fill="#0173b2"/>
<circle cx="275.4" cy="160.2" r="1.15" fill="#0173b2"/>
<circle cx="278.4" cy="160.2" r="1.15" fill="#0173b2"/>
<circle cx="269.3" cy="162.1" r="1.15" fill="#0173b2"/>
<circle cx="271.1" cy="160.5" r="1.15" fill="#0173b2"/>
<circle cx="273.4" cy="162.6" r="1.15" fill="#0173b2"/>
<circle cx="278.4" cy="163.3" r="1.15" fill="#0173b2"/>
<circle cx="271.2" cy="164.4" r="1.15" fill="#0173b2"/>
<circle cx="273.3" cy="163.9" r="1.15" fill="#0173b2"/>
<circle cx="276.0" cy="165.6" r="1.15" fill="#0173b2"/>
<circle cx="278.4" cy="164.7" r="1.15" fill="#0173b2"/>
<circle cx="280.7" cy="164.1" r="1.15" fill="#0173b2"/>
<circle cx="272.2" cy="164.9" r="1.15" fill="#0173b2"/>
<circle cx="275.0" cy="166.6" r="1.15" fill="#0173b2"/>
<circle cx="275.0" cy="167.3" r="1.15" fill="#0173b2"/>
<circle cx="276.9" cy="166.2" r="1.15" fill="#0173b2"/>
<circle cx="279.4" cy="166.4" r="1.15" fill="#0173b2"/>
<circle cx="271.8" cy="169.2" r="1.15" fill="#0173b2"/>
<circle cx="274.5" cy="169.3" r="1.15" fill="#0173b2"/>
<circle cx="276.1" cy="169.4" r="1.15" fill="#0173b2"/>
<circle cx="278.9" cy="169.0" r="1.15" fill="#0173b2"/>
<circle cx="272.7" cy="169.6" r="1.15" fill="#de8f05"/>
<circle cx="258.4" cy="145.9" r="1.15" fill="#de8f05"/>
<circle cx="259.4" cy="151.3" r="1.15" fill="#cc78bc"/>
<circle cx="327.9" cy="37.2" r="1.15" fill="#0173b2"/>
<circle cx="328.9" cy="38.2" r="1.15" fill="#d55e00"/>
<circle cx="273.8" cy="171.3" r="1.15" fill="#0173b2"/>
<circle cx="275.8" cy="170.1" r="1.15" fill="#0173b2"/>
<circle cx="278.6" cy="172.2" r="1.15" fill="#0173b2"/>
<circle cx="287.8" cy="176.7" r="1.15" fill="#0173b2"/>
<circle cx="547.1" cy="45.3" r="1.15" fill="#8dc2e2"/>
<circle cx="564.9" cy="38.2" r="1.15" fill="#8dc2e2"/>
<circle cx="567.7" cy="40.7" r="1.15" fill="#8dc2e2"/>
<circle cx="567.3" cy="42.0" r="1.15" fill="#8dc2e2"/>
<circle cx="560.3" cy="43.1" r="1.15" fill="#8dc2e2"/>
<circle cx="563.8" cy="45.8" r="1.15" fill="#8dc2e2"/>
<circle cx="574.7" cy="54.0" r="1.15" fill="#8dc2e2"/>
<circle cx="551.5" cy="50.9" r="1.15" fill="#8dc2e2"/>
<circle cx="554.5" cy="50.4" r="1.15" fill="#8dc2e2"/>
<circle cx="546.4" cy="49.5" r="1.15" fill="#8dc2e2"/>
<circle cx="567.7" cy="43.8" r="1.15" fill="#8dc2e2"/>
<circle cx="468.9" cy="121.1" r="1.15" fill="#8dc2e2"/>
<circle cx="470.1" cy="121.4" r="1.15" fill="#8dc2e2"/>
<circle cx="486.7" cy="119.1" r="1.15" fill="#8dc2e2"/>
<circle cx="498.0" cy="113.3" r="1.15" fill="#8dc2e2"/>
<circle cx="484.6" cy="122.1" r="1.15" fill="#8dc2e2"/>
<circle cx="499.3" cy="103.3" r="1.15" fill="#8dc2e2"/>
<circle cx="501.5" cy="103.1" r="1.15" fill="#8dc2e2"/>
<circle cx="503.2" cy="103.6" r="1.15" fill="#8dc2e2"/>
<circle cx="499.8" cy="83.7" r="1.15" fill="#8dc2e2"/>
<circle cx="499.7" cy="90.5" r="1.15" fill="#8dc2e2"/>
<circle cx="504.8" cy="87.2" r="1.15" fill="#8dc2e2"/>
<circle cx="508.5" cy="84.1" r="1.15" fill="#8dc2e2"/>
<circle cx="510.5" cy="82.0" r="1.15" fill="#8dc2e2"/>
<circle cx="512.8" cy="81.1" r="1.15" fill="#8dc2e2"/>
<circle cx="528.1" cy="87.0" r="1.15" fill="#8dc2e2"/>
<circle cx="539.7" cy="83.1" r="1.15" fill="#8dc2e2"/>
<circle cx="539.6" cy="79.7" r="1.15" fill="#8dc2e2"/>
<circle cx="517.1" cy="98.7" r="1.15" fill="#8dc2e2"/>
<circle cx="510.5" cy="95.7" r="1.15" fill="#8dc2e2"/>
<circle cx="512.5" cy="97.2" r="1.15" fill="#8dc2e2"/>
<circle cx="513.9" cy="95.5" r="1.15" fill="#8dc2e2"/>
<circle cx="514.7" cy="93.5" r="1.15" fill="#8dc2e2"/>
<circle cx="516.4" cy="92.1" r="1.15" fill="#8dc2e2"/>
<circle cx="517.5" cy="93.8" r="1.15" fill="#8dc2e2"/>
<circle cx="518.1" cy="89.9" r="1.15" fill="#8dc2e2"/>
<circle cx="519.9" cy="90.6" r="1.15" fill="#8dc2e2"/>
<circle cx="523.6" cy="86.3" r="1.15" fill="#8dc2e2"/>
<circle cx="524.7" cy="84.2" r="1.15" fill="#8dc2e2"/>
<circle cx="516.2" cy="88.6" r="1.15" fill="#8dc2e2"/>
<circle cx="509.4" cy="94.3" r="1.15" fill="#8dc2e2"/>
<circle cx="508.5" cy="98.4" r="1.15" fill="#8dc2e2"/>
<circle cx="531.3" cy="62.4" r="1.15" fill="#8dc2e2"/>
<circle cx="533.9" cy="58.7" r="1.15" fill="#8dc2e2"/>
<circle cx="537.7" cy="58.6" r="1.15" fill="#8dc2e2"/>
<circle cx="539.3" cy="61.0" r="1.15" fill="#8dc2e2"/>
<circle cx="543.9" cy="63.2" r="1.15" fill="#8dc2e2"/>
<circle cx="545.6" cy="63.6" r="1.15" fill="#8dc2e2"/>
<circle cx="546.1" cy="67.9" r="1.15" fill="#8dc2e2"/>
<circle cx="537.0" cy="68.6" r="1.15" fill="#8dc2e2"/>
<circle cx="535.7" cy="75.2" r="1.15" fill="#8dc2e2"/>
<circle cx="541.6" cy="56.2" r="1.15" fill="#8dc2e2"/>
<circle cx="567.4" cy="59.3" r="1.15" fill="#8dc2e2"/>
<circle cx="551.7" cy="66.6" r="1.15" fill="#8dc2e2"/>
<circle cx="555.2" cy="67.6" r="1.15" fill="#8dc2e2"/>
<circle cx="553.6" cy="56.3" r="1.15" fill="#8dc2e2"/>
<circle cx="510.4" cy="69.9" r="1.15" fill="#8dc2e2"/>
<circle cx="524.0" cy="59.5" r="1.15" fill="#8dc2e2"/>
<circle cx="527.9" cy="57.6" r="1.15" fill="#8dc2e2"/>
<circle cx="528.7" cy="63.5" r="1.15" fill="#8dc2e2"/>
<circle cx="521.3" cy="74.9" r="1.15" fill="#8dc2e2"/>
<circle cx="523.1" cy="72.0" r="1.15" fill="#8dc2e2"/>
<circle cx="580.4" cy="32.2" r="1.15" fill="#8dc2e2"/>
<circle cx="590.1" cy="32.2" r="1.15" fill="#8dc2e2"/>
<circle cx="597.6" cy="33.5" r="1.15" fill="#8dc2e2"/>
<circle cx="621.0" cy="12.6" r="1.15" fill="#8dc2e2"/>
<circle cx="459.4" cy="89.7" r="1.15" fill="#8dc2e2"/>
<circle cx="483.0" cy="89.5" r="1.15" fill="#8dc2e2"/>
<circle cx="541.8" cy="53.4" r="1.15" fill="#8dc2e2"/>
<circle cx="571.0" cy="87.5" r="1.15" fill="#8dc2e2"/>
<circle cx="474.5" cy="128.9" r="1.15" fill="#8dc2e2"/>
<circle cx="480.3" cy="127.5" r="1.15" fill="#8dc2e2"/>
<circle cx="469.5" cy="124.3" r="1.15" fill="#8dc2e2"/>
<circle cx="506.8" cy="106.7" r="1.15" fill="#8dc2e2"/>
<circle cx="493.4" cy="97.7" r="1.15" fill="#8dc2e2"/>
<circle cx="520.3" cy="78.0" r="1.15" fill="#8dc2e2"/>
<circle cx="525.0" cy="76.6" r="1.15" fill="#8dc2e2"/>
<circle cx="522.6" cy="80.8" r="1.15" fill="#8dc2e2"/>
<circle cx="530.7" cy="73.1" r="1.15" fill="#8dc2e2"/>
<circle cx="535.3" cy="73.7" r="1.15" fill="#8dc2e2"/>
<circle cx="523.3" cy="80.4" r="1.15" fill="#8dc2e2"/>
<circle cx="537.6" cy="74.3" r="1.15" fill="#8dc2e2"/>
<circle cx="525.5" cy="73.9" r="1.15" fill="#8dc2e2"/>
<circle cx="527.8" cy="83.0" r="1.15" fill="#8dc2e2"/>
<circle cx="524.8" cy="82.6" r="1.15" fill="#8dc2e2"/>
<circle cx="581.8" cy="35.6" r="1.15" fill="#0173b2"/>
<circle cx="584.3" cy="38.8" r="1.15" fill="#0173b2"/>
<circle cx="589.4" cy="37.7" r="1.15" fill="#0173b2"/>
<circle cx="579.4" cy="40.5" r="1.15" fill="#0173b2"/>
<circle cx="583.9" cy="42.8" r="1.15" fill="#0173b2"/>
<circle cx="571.5" cy="44.2" r="1.15" fill="#0173b2"/>
<circle cx="572.5" cy="43.3" r="1.15" fill="#0173b2"/>
<circle cx="573.9" cy="42.7" r="1.15" fill="#0173b2"/>
<circle cx="575.5" cy="43.7" r="1.15" fill="#0173b2"/>
<circle cx="577.6" cy="44.5" r="1.15" fill="#0173b2"/>
<circle cx="578.4" cy="44.2" r="1.15" fill="#0173b2"/>
<circle cx="578.0" cy="47.9" r="1.15" fill="#0173b2"/>
<circle cx="579.3" cy="46.8" r="1.15" fill="#0173b2"/>
<circle cx="581.2" cy="46.8" r="1.15" fill="#0173b2"/>
<circle cx="574.0" cy="48.0" r="1.15" fill="#0173b2"/>
<circle cx="574.6" cy="49.4" r="1.15" fill="#0173b2"/>
<circle cx="575.0" cy="50.0" r="1.15" fill="#0173b2"/>
<circle cx="571.8" cy="50.8" r="1.15" fill="#0173b2"/>
<circle cx="567.7" cy="47.1" r="1.15" fill="#0173b2"/>
<circle cx="569.0" cy="47.4" r="1.15" fill="#0173b2"/>
<circle cx="566.0" cy="48.3" r="1.15" fill="#0173b2"/>
<circle cx="565.2" cy="49.0" r="1.15" fill="#0173b2"/>
<circle cx="563.3" cy="50.1" r="1.15" fill="#0173b2"/>
<circle cx="562.3" cy="49.1" r="1.15" fill="#0173b2"/>
<circle cx="560.1" cy="50.5" r="1.15" fill="#0173b2"/>
<circle cx="559.0" cy="51.6" r="1.15" fill="#0173b2"/>
<circle cx="557.5" cy="52.7" r="1.15" fill="#0173b2"/>
<circle cx="557.4" cy="47.1" r="1.15" fill="#0173b2"/>
<circle cx="556.2" cy="54.2" r="1.15" fill="#0173b2"/>
<circle cx="555.1" cy="53.3" r="1.15" fill="#0173b2"/>
<circle cx="553.1" cy="53.0" r="1.15" fill="#0173b2"/>
<circle cx="551.4" cy="54.3" r="1.15" fill="#0173b2"/>
<circle cx="550.5" cy="53.4" r="1.15" fill="#0173b2"/>
<circle cx="548.9" cy="54.3" r="1.15" fill="#0173b2"/>
<circle cx="547.8" cy="55.0" r="1.15" fill="#0173b2"/>
<circle cx="547.0" cy="55.1" r="1.15" fill="#0173b2"/>
<circle cx="560.4" cy="52.3" r="1.15" fill="#0173b2"/>
<circle cx="563.1" cy="52.2" r="1.15" fill="#0173b2"/>
<circle cx="563.8" cy="51.2" r="1.15" fill="#0173b2"/>
<circle cx="565.7" cy="51.5" r="1.15" fill="#0173b2"/>
<circle cx="566.9" cy="50.6" r="1.15" fill="#0173b2"/>
<circle cx="568.6" cy="49.5" r="1.15" fill="#0173b2"/>
<circle cx="570.2" cy="50.2" r="1.15" fill="#0173b2"/>
<circle cx="570.7" cy="53.2" r="1.15" fill="#0173b2"/>
<circle cx="568.2" cy="54.9" r="1.15" fill="#0173b2"/>
<circle cx="565.1" cy="54.9" r="1.15" fill="#0173b2"/>
<circle cx="561.9" cy="55.2" r="1.15" fill="#0173b2"/>
<circle cx="559.2" cy="54.9" r="1.15" fill="#0173b2"/>
<circle cx="555.2" cy="55.2" r="1.15" fill="#0173b2"/>
<circle cx="553.3" cy="55.8" r="1.15" fill="#0173b2"/>
<circle cx="550.6" cy="55.4" r="1.15" fill="#0173b2"/>
<circle cx="465.1" cy="121.6" r="1.15" fill="#0173b2"/>
<circle cx="470.8" cy="121.4" r="1.15" fill="#0173b2"/>
<circle cx="472.5" cy="119.9" r="1.15" fill="#0173b2"/>
<circle cx="474.1" cy="119.1" r="1.15" fill="#0173b2"/>
<circle cx="475.2" cy="117.1" r="1.15" fill="#0173b2"/>
<circle cx="476.4" cy="116.7" r="1.15" fill="#0173b2"/>
<circle cx="476.9" cy="118.3" r="1.15" fill="#0173b2"/>
<circle cx="478.5" cy="115.8" r="1.15" fill="#0173b2"/>
<circle cx="478.9" cy="114.9" r="1.15" fill="#0173b2"/>
<circle cx="479.8" cy="113.6" r="1.15" fill="#0173b2"/>
<circle cx="479.9" cy="116.5" r="1.15" fill="#0173b2"/>
<circle cx="481.5" cy="114.8" r="1.15" fill="#0173b2"/>
<circle cx="482.2" cy="113.1" r="1.15" fill="#0173b2"/>
<circle cx="481.8" cy="112.0" r="1.15" fill="#0173b2"/>
<circle cx="482.5" cy="114.3" r="1.15" fill="#0173b2"/>
<circle cx="483.0" cy="113.8" r="1.15" fill="#0173b2"/>
<circle cx="484.3" cy="113.2" r="1.15" fill="#0173b2"/>
<circle cx="484.8" cy="114.8" r="1.15" fill="#0173b2"/>
<circle cx="485.2" cy="112.2" r="1.15" fill="#0173b2"/>
<circle cx="486.4" cy="112.0" r="1.15" fill="#0173b2"/>
<circle cx="486.4" cy="114.0" r="1.15" fill="#0173b2"/>
<circle cx="487.3" cy="110.8" r="1.15" fill="#0173b2"/>
<circle cx="488.1" cy="110.4" r="1.15" fill="#0173b2"/>
<circle cx="487.6" cy="112.2" r="1.15" fill="#0173b2"/>
<circle cx="488.7" cy="108.6" r="1.15" fill="#0173b2"/>
<circle cx="488.2" cy="111.9" r="1.15" fill="#0173b2"/>
<circle cx="489.2" cy="105.8" r="1.15" fill="#0173b2"/>
<circle cx="489.4" cy="108.3" r="1.15" fill="#0173b2"/>
<circle cx="489.6" cy="109.3" r="1.15" fill="#0173b2"/>
<circle cx="489.5" cy="107.2" r="1.15" fill="#0173b2"/>
<circle cx="490.7" cy="111.2" r="1.15" fill="#0173b2"/>
<circle cx="490.8" cy="113.9" r="1.15" fill="#0173b2"/>
<circle cx="491.3" cy="106.6" r="1.15" fill="#0173b2"/>
<circle cx="491.2" cy="109.0" r="1.15" fill="#0173b2"/>
<circle cx="492.4" cy="106.1" r="1.15" fill="#0173b2"/>
<circle cx="491.8" cy="108.1" r="1.15" fill="#0173b2"/>
<circle cx="493.1" cy="105.1" r="1.15" fill="#0173b2"/>
<circle cx="493.2" cy="107.6" r="1.15" fill="#0173b2"/>
<circle cx="493.8" cy="104.6" r="1.15" fill="#0173b2"/>
<circle cx="493.7" cy="106.9" r="1.15" fill="#0173b2"/>
<circle cx="493.2" cy="110.3" r="1.15" fill="#0173b2"/>
<circle cx="494.5" cy="103.7" r="1.15" fill="#0173b2"/>
<circle cx="494.1" cy="105.4" r="1.15" fill="#0173b2"/>
<circle cx="495.1" cy="103.2" r="1.15" fill="#0173b2"/>
<circle cx="494.8" cy="104.8" r="1.15" fill="#0173b2"/>
<circle cx="495.5" cy="101.8" r="1.15" fill="#0173b2"/>
<circle cx="495.9" cy="104.8" r="1.15" fill="#0173b2"/>
<circle cx="496.7" cy="101.3" r="1.15" fill="#0173b2"/>
<circle cx="496.6" cy="103.2" r="1.15" fill="#0173b2"/>
<circle cx="497.5" cy="100.6" r="1.15" fill="#0173b2"/>
<circle cx="496.7" cy="103.0" r="1.15" fill="#0173b2"/>
<circle cx="497.6" cy="102.0" r="1.15" fill="#0173b2"/>
<circle cx="498.2" cy="100.7" r="1.15" fill="#0173b2"/>
<circle cx="498.7" cy="103.2" r="1.15" fill="#0173b2"/>
<circle cx="498.9" cy="101.7" r="1.15" fill="#0173b2"/>
<circle cx="499.7" cy="104.8" r="1.15" fill="#0173b2"/>
<circle cx="500.2" cy="100.6" r="1.15" fill="#0173b2"/>
<circle cx="500.7" cy="102.2" r="1.15" fill="#0173b2"/>
<circle cx="501.3" cy="101.7" r="1.15" fill="#0173b2"/>
<circle cx="502.0" cy="101.0" r="1.15" fill="#0173b2"/>
<circle cx="503.3" cy="102.2" r="1.15" fill="#0173b2"/>
<circle cx="503.3" cy="101.0" r="1.15" fill="#0173b2"/>
<circle cx="479.3" cy="121.0" r="1.15" fill="#0173b2"/>
<circle cx="475.3" cy="119.9" r="1.15" fill="#0173b2"/>
<circle cx="474.1" cy="121.2" r="1.15" fill="#0173b2"/>
<circle cx="472.6" cy="121.7" r="1.15" fill="#0173b2"/>
<circle cx="496.3" cy="99.5" r="1.15" fill="#0173b2"/>
<circle cx="497.8" cy="98.1" r="1.15" fill="#0173b2"/>
<circle cx="499.1" cy="97.1" r="1.15" fill="#0173b2"/>
<circle cx="499.4" cy="99.7" r="1.15" fill="#0173b2"/>
<circle cx="500.5" cy="95.6" r="1.15" fill="#0173b2"/>
<circle cx="501.3" cy="97.4" r="1.15" fill="#0173b2"/>
<circle cx="502.3" cy="99.2" r="1.15" fill="#0173b2"/>
<circle cx="503.4" cy="94.2" r="1.15" fill="#0173b2"/>
<circle cx="504.1" cy="96.5" r="1.15" fill="#0173b2"/>
<circle cx="504.6" cy="92.7" r="1.15" fill="#0173b2"/>
<circle cx="504.8" cy="94.4" r="1.15" fill="#0173b2"/>
<circle cx="505.4" cy="97.9" r="1.15" fill="#0173b2"/>
<circle cx="506.8" cy="91.9" r="1.15" fill="#0173b2"/>
<circle cx="507.1" cy="93.1" r="1.15" fill="#0173b2"/>
<circle cx="507.8" cy="95.5" r="1.15" fill="#0173b2"/>
<circle cx="509.2" cy="90.2" r="1.15" fill="#0173b2"/>
<circle cx="509.1" cy="92.2" r="1.15" fill="#0173b2"/>
<circle cx="510.1" cy="91.4" r="1.15" fill="#0173b2"/>
<circle cx="511.2" cy="88.8" r="1.15" fill="#0173b2"/>
<circle cx="511.3" cy="90.0" r="1.15" fill="#0173b2"/>
<circle cx="512.1" cy="87.7" r="1.15" fill="#0173b2"/>
<circle cx="513.1" cy="86.4" r="1.15" fill="#0173b2"/>
<circle cx="513.5" cy="89.1" r="1.15" fill="#0173b2"/>
<circle cx="513.8" cy="85.5" r="1.15" fill="#0173b2"/>
<circle cx="514.3" cy="83.5" r="1.15" fill="#0173b2"/>
<circle cx="515.4" cy="87.4" r="1.15" fill="#0173b2"/>
<circle cx="515.8" cy="82.1" r="1.15" fill="#0173b2"/>
<circle cx="515.6" cy="85.6" r="1.15" fill="#0173b2"/>
<circle cx="517.0" cy="81.3" r="1.15" fill="#0173b2"/>
<circle cx="517.9" cy="83.7" r="1.15" fill="#0173b2"/>
<circle cx="518.4" cy="79.3" r="1.15" fill="#0173b2"/>
<circle cx="518.5" cy="82.7" r="1.15" fill="#0173b2"/>
<circle cx="518.6" cy="84.8" r="1.15" fill="#0173b2"/>
<circle cx="519.4" cy="78.8" r="1.15" fill="#0173b2"/>
<circle cx="519.6" cy="81.2" r="1.15" fill="#0173b2"/>
<circle cx="520.7" cy="80.4" r="1.15" fill="#0173b2"/>
<circle cx="521.1" cy="81.9" r="1.15" fill="#0173b2"/>
<circle cx="521.5" cy="88.9" r="1.15" fill="#0173b2"/>
<circle cx="521.5" cy="79.3" r="1.15" fill="#0173b2"/>
<circle cx="522.0" cy="84.9" r="1.15" fill="#0173b2"/>
<circle cx="522.6" cy="81.0" r="1.15" fill="#0173b2"/>
<circle cx="523.0" cy="82.8" r="1.15" fill="#0173b2"/>
<circle cx="524.4" cy="79.3" r="1.15" fill="#0173b2"/>
<circle cx="523.7" cy="81.7" r="1.15" fill="#0173b2"/>
<circle cx="524.4" cy="78.5" r="1.15" fill="#0173b2"/>
<circle cx="525.4" cy="81.0" r="1.15" fill="#0173b2"/>
<circle cx="526.3" cy="79.6" r="1.15" fill="#0173b2"/>
<circle cx="526.9" cy="81.2" r="1.15" fill="#0173b2"/>
<circle cx="527.9" cy="78.3" r="1.15" fill="#0173b2"/>
<circle cx="528.3" cy="80.1" r="1.15" fill="#0173b2"/>
<circle cx="529.3" cy="82.5" r="1.15" fill="#0173b2"/>
<circle cx="529.6" cy="79.6" r="1.15" fill="#0173b2"/>
<circle cx="530.7" cy="81.6" r="1.15" fill="#0173b2"/>
<circle cx="531.0" cy="79.1" r="1.15" fill="#0173b2"/>
<circle cx="532.1" cy="79.8" r="1.15" fill="#0173b2"/>
<circle cx="532.5" cy="79.2" r="1.15" fill="#0173b2"/>
<circle cx="533.2" cy="80.8" r="1.15" fill="#0173b2"/>
<circle cx="534.4" cy="79.0" r="1.15" fill="#0173b2"/>
<circle cx="508.2" cy="100.0" r="1.15" fill="#0173b2"/>
<circle cx="509.1" cy="98.7" r="1.15" fill="#0173b2"/>
<circle cx="510.7" cy="97.1" r="1.15" fill="#0173b2"/>
<circle cx="501.8" cy="94.3" r="1.15" fill="#0173b2"/>
<circle cx="533.9" cy="80.6" r="1.15" fill="#0173b2"/>
<circle cx="530.6" cy="66.5" r="1.15" fill="#0173b2"/>
<circle cx="530.9" cy="69.4" r="1.15" fill="#0173b2"/>
<circle cx="531.0" cy="70.9" r="1.15" fill="#0173b2"/>
<circle cx="530.6" cy="73.2" r="1.15" fill="#0173b2"/>
<circle cx="531.0" cy="75.3" r="1.15" fill="#0173b2"/>
<circle cx="532.3" cy="66.6" r="1.15" fill="#0173b2"/>
<circle cx="532.4" cy="67.9" r="1.15" fill="#0173b2"/>
<circle cx="531.8" cy="70.2" r="1.15" fill="#0173b2"/>
<circle cx="532.3" cy="72.8" r="1.15" fill="#0173b2"/>
<circle cx="532.2" cy="74.8" r="1.15" fill="#0173b2"/>
<circle cx="532.1" cy="77.1" r="1.15" fill="#0173b2"/>
<circle cx="533.8" cy="65.8" r="1.15" fill="#0173b2"/>
<circle cx="533.8" cy="67.9" r="1.15" fill="#0173b2"/>
<circle cx="534.0" cy="72.3" r="1.15" fill="#0173b2"/>
<circle cx="533.8" cy="73.7" r="1.15" fill="#0173b2"/>
<circle cx="534.5" cy="76.6" r="1.15" fill="#0173b2"/>
<circle cx="535.0" cy="64.3" r="1.15" fill="#0173b2"/>
<circle cx="534.8" cy="66.6" r="1.15" fill="#0173b2"/>
<circle cx="535.8" cy="70.0" r="1.15" fill="#0173b2"/>
<circle cx="535.6" cy="72.5" r="1.15" fill="#0173b2"/>
<circle cx="536.4" cy="60.2" r="1.15" fill="#0173b2"/>
<circle cx="536.2" cy="63.2" r="1.15" fill="#0173b2"/>
<circle cx="537.0" cy="67.7" r="1.15" fill="#0173b2"/>
<circle cx="537.6" cy="64.9" r="1.15" fill="#0173b2"/>
<circle cx="537.6" cy="71.7" r="1.15" fill="#0173b2"/>
<circle cx="538.2" cy="73.9" r="1.15" fill="#0173b2"/>
<circle cx="537.8" cy="62.5" r="1.15" fill="#0173b2"/>
<circle cx="538.3" cy="65.9" r="1.15" fill="#0173b2"/>
<circle cx="539.8" cy="64.4" r="1.15" fill="#0173b2"/>
<circle cx="539.3" cy="70.8" r="1.15" fill="#0173b2"/>
<circle cx="540.4" cy="73.0" r="1.15" fill="#0173b2"/>
<circle cx="541.1" cy="74.2" r="1.15" fill="#0173b2"/>
<circle cx="540.5" cy="62.1" r="1.15" fill="#0173b2"/>
<circle cx="541.4" cy="59.7" r="1.15" fill="#0173b2"/>
<circle cx="541.5" cy="65.5" r="1.15" fill="#0173b2"/>
<circle cx="542.8" cy="63.0" r="1.15" fill="#0173b2"/>
<circle cx="543.1" cy="69.2" r="1.15" fill="#0173b2"/>
<circle cx="543.8" cy="58.6" r="1.15" fill="#0173b2"/>
<circle cx="543.7" cy="67.3" r="1.15" fill="#0173b2"/>
<circle cx="544.7" cy="60.8" r="1.15" fill="#0173b2"/>
<circle cx="544.1" cy="63.0" r="1.15" fill="#0173b2"/>
<circle cx="545.0" cy="57.1" r="1.15" fill="#0173b2"/>
<circle cx="544.8" cy="65.2" r="1.15" fill="#0173b2"/>
<circle cx="546.2" cy="62.2" r="1.15" fill="#0173b2"/>
<circle cx="545.7" cy="72.6" r="1.15" fill="#0173b2"/>
<circle cx="546.9" cy="59.1" r="1.15" fill="#0173b2"/>
<circle cx="547.6" cy="64.2" r="1.15" fill="#0173b2"/>
<circle cx="547.2" cy="66.7" r="1.15" fill="#0173b2"/>
<circle cx="547.7" cy="56.9" r="1.15" fill="#0173b2"/>
<circle cx="547.9" cy="60.1" r="1.15" fill="#0173b2"/>
<circle cx="549.3" cy="62.7" r="1.15" fill="#0173b2"/>
<circle cx="548.9" cy="69.2" r="1.15" fill="#0173b2"/>
<circle cx="549.7" cy="58.4" r="1.15" fill="#0173b2"/>
<circle cx="549.4" cy="65.0" r="1.15" fill="#0173b2"/>
<circle cx="549.9" cy="59.9" r="1.15" fill="#0173b2"/>
<circle cx="550.2" cy="68.0" r="1.15" fill="#0173b2"/>
<circle cx="550.7" cy="63.2" r="1.15" fill="#0173b2"/>
<circle cx="552.2" cy="56.9" r="1.15" fill="#0173b2"/>
<circle cx="551.6" cy="59.1" r="1.15" fill="#0173b2"/>
<circle cx="552.2" cy="60.7" r="1.15" fill="#0173b2"/>
<circle cx="552.3" cy="65.4" r="1.15" fill="#0173b2"/>
<circle cx="553.4" cy="66.8" r="1.15" fill="#0173b2"/>
<circle cx="554.1" cy="57.1" r="1.15" fill="#0173b2"/>
<circle cx="555.1" cy="63.1" r="1.15" fill="#0173b2"/>
<circle cx="555.7" cy="59.2" r="1.15" fill="#0173b2"/>
<circle cx="556.4" cy="65.2" r="1.15" fill="#0173b2"/>
<circle cx="557.2" cy="57.0" r="1.15" fill="#0173b2"/>
<circle cx="557.7" cy="58.0" r="1.15" fill="#0173b2"/>
<circle cx="557.1" cy="63.7" r="1.15" fill="#0173b2"/>
<circle cx="558.7" cy="60.8" r="1.15" fill="#0173b2"/>
<circle cx="559.2" cy="57.5" r="1.15" fill="#0173b2"/>
<circle cx="559.2" cy="64.4" r="1.15" fill="#0173b2"/>
<circle cx="559.4" cy="60.0" r="1.15" fill="#0173b2"/>
<circle cx="560.9" cy="61.7" r="1.15" fill="#0173b2"/>
<circle cx="562.1" cy="62.6" r="1.15" fill="#0173b2"/>
<circle cx="562.4" cy="56.3" r="1.15" fill="#0173b2"/>
<circle cx="562.9" cy="59.2" r="1.15" fill="#0173b2"/>
<circle cx="563.8" cy="57.9" r="1.15" fill="#0173b2"/>
<circle cx="565.4" cy="62.7" r="1.15" fill="#0173b2"/>
<circle cx="566.0" cy="57.0" r="1.15" fill="#0173b2"/>
<circle cx="566.1" cy="71.7" r="1.15" fill="#0173b2"/>
<circle cx="571.0" cy="58.4" r="1.15" fill="#0173b2"/>
<circle cx="559.5" cy="78.0" r="1.15" fill="#0173b2"/>
<circle cx="516.6" cy="76.3" r="1.15" fill="#0173b2"/>
<circle cx="519.3" cy="77.8" r="1.15" fill="#0173b2"/>
<circle cx="520.0" cy="75.3" r="1.15" fill="#0173b2"/>
<circle cx="522.1" cy="77.1" r="1.15" fill="#0173b2"/>
<circle cx="523.6" cy="74.6" r="1.15" fill="#0173b2"/>
<circle cx="524.3" cy="76.0" r="1.15" fill="#0173b2"/>
<circle cx="525.1" cy="77.8" r="1.15" fill="#0173b2"/>
<circle cx="525.2" cy="72.4" r="1.15" fill="#0173b2"/>
<circle cx="526.5" cy="74.6" r="1.15" fill="#0173b2"/>
<circle cx="526.5" cy="76.8" r="1.15" fill="#0173b2"/>
<circle cx="528.0" cy="71.2" r="1.15" fill="#0173b2"/>
<circle cx="528.6" cy="73.0" r="1.15" fill="#0173b2"/>
<circle cx="529.1" cy="75.4" r="1.15" fill="#0173b2"/>
<circle cx="529.6" cy="70.7" r="1.15" fill="#0173b2"/>
<circle cx="528.3" cy="77.4" r="1.15" fill="#0173b2"/>
<circle cx="609.3" cy="25.8" r="1.15" fill="#0173b2"/>
<circle cx="611.3" cy="29.1" r="1.15" fill="#0173b2"/>
<circle cx="607.3" cy="29.5" r="1.15" fill="#0173b2"/>
<circle cx="602.4" cy="27.9" r="1.15" fill="#0173b2"/>
<circle cx="599.4" cy="30.6" r="1.15" fill="#0173b2"/>
<circle cx="599.8" cy="31.1" r="1.15" fill="#0173b2"/>
<circle cx="602.6" cy="33.3" r="1.15" fill="#0173b2"/>
<circle cx="598.8" cy="33.9" r="1.15" fill="#0173b2"/>
<circle cx="594.6" cy="35.5" r="1.15" fill="#0173b2"/>
<circle cx="593.7" cy="36.9" r="1.15" fill="#0173b2"/>
<circle cx="594.0" cy="38.2" r="1.15" fill="#0173b2"/>
<circle cx="600.4" cy="37.6" r="1.15" fill="#0173b2"/>
<circle cx="620.7" cy="19.7" r="1.15" fill="#0173b2"/>
<circle cx="630.3" cy="25.8" r="1.15" fill="#0173b2"/>
<circle cx="518.5" cy="78.1" r="1.15" fill="#0173b2"/>
<circle cx="523.0" cy="80.3" r="1.15" fill="#0173b2"/>
<circle cx="532.2" cy="67.6" r="1.15" fill="#0173b2"/>
<circle cx="524.2" cy="85.2" r="1.15" fill="#0173b2"/>
<circle cx="541.0" cy="66.1" r="1.15" fill="#0173b2"/>
<circle cx="531.8" cy="71.6" r="1.15" fill="#0173b2"/>
<circle cx="528.1" cy="74.1" r="1.15" fill="#0173b2"/>
<circle cx="522.6" cy="79.8" r="1.15" fill="#0173b2"/>
<circle cx="533.7" cy="68.6" r="1.15" fill="#0173b2"/>
<circle cx="535.4" cy="69.3" r="1.15" fill="#0173b2"/>
<circle cx="514.1" cy="85.1" r="1.15" fill="#0173b2"/>
<circle cx="520.3" cy="84.7" r="1.15" fill="#0173b2"/>
<circle cx="540.1" cy="64.7" r="1.15" fill="#0173b2"/>
<circle cx="535.0" cy="72.5" r="1.15" fill="#0173b2"/>
<circle cx="531.9" cy="68.4" r="1.15" fill="#0173b2"/>
<circle cx="512.1" cy="86.9" r="1.15" fill="#0173b2"/>
<circle cx="541.6" cy="74.2" r="1.15" fill="#0173b2"/>
<circle cx="526.5" cy="77.7" r="1.15" fill="#0173b2"/>
<circle cx="529.4" cy="80.1" r="1.15" fill="#0173b2"/>
<circle cx="525.5" cy="83.1" r="1.15" fill="#0173b2"/>
<circle cx="525.1" cy="79.7" r="1.15" fill="#0173b2"/>
<circle cx="532.5" cy="76.0" r="1.15" fill="#0173b2"/>
<circle cx="533.5" cy="73.6" r="1.15" fill="#0173b2"/>
<circle cx="519.3" cy="75.7" r="1.15" fill="#0173b2"/>
<circle cx="531.1" cy="72.2" r="1.15" fill="#0173b2"/>
<circle cx="522.9" cy="72.1" r="1.15" fill="#0173b2"/>
<circle cx="523.3" cy="79.9" r="1.15" fill="#0173b2"/>
<circle cx="520.6" cy="74.1" r="1.15" fill="#0173b2"/>
<circle cx="538.2" cy="70.2" r="1.15" fill="#0173b2"/>
<circle cx="539.3" cy="75.8" r="1.15" fill="#0173b2"/>
<circle cx="539.4" cy="68.4" r="1.15" fill="#0173b2"/>
<circle cx="522.3" cy="81.3" r="1.15" fill="#0173b2"/>
<circle cx="528.9" cy="68.7" r="1.15" fill="#0173b2"/>
<circle cx="538.6" cy="73.3" r="1.15" fill="#0173b2"/>
<circle cx="537.5" cy="71.1" r="1.15" fill="#0173b2"/>
<circle cx="522.9" cy="74.7" r="1.15" fill="#0173b2"/>
<circle cx="524.9" cy="75.2" r="1.15" fill="#0173b2"/>
<circle cx="542.4" cy="67.8" r="1.15" fill="#0173b2"/>
<circle cx="542.5" cy="69.7" r="1.15" fill="#0173b2"/>
<circle cx="533.4" cy="77.9" r="1.15" fill="#0173b2"/>
<circle cx="530.4" cy="71.3" r="1.15" fill="#0173b2"/>
<circle cx="533.0" cy="77.6" r="1.15" fill="#0173b2"/>
<circle cx="531.2" cy="72.6" r="1.15" fill="#0173b2"/>
<circle cx="519.2" cy="86.7" r="1.15" fill="#0173b2"/>
<circle cx="516.2" cy="85.0" r="1.15" fill="#0173b2"/>
<circle cx="469.8" cy="264.4" r="1.15" fill="#0173b2"/>
<circle cx="473.2" cy="265.4" r="1.15" fill="#0173b2"/>
<circle cx="474.6" cy="264.9" r="1.15" fill="#0173b2"/>
<circle cx="475.9" cy="263.6" r="1.15" fill="#0173b2"/>
<circle cx="476.8" cy="263.2" r="1.15" fill="#0173b2"/>
<circle cx="478.9" cy="262.2" r="1.15" fill="#0173b2"/>
<circle cx="479.8" cy="260.5" r="1.15" fill="#0173b2"/>
<circle cx="480.6" cy="259.7" r="1.15" fill="#0173b2"/>
<circle cx="481.1" cy="258.5" r="1.15" fill="#0173b2"/>
<circle cx="482.1" cy="260.4" r="1.15" fill="#0173b2"/>
<circle cx="484.2" cy="259.1" r="1.15" fill="#0173b2"/>
<circle cx="484.1" cy="259.2" r="1.15" fill="#0173b2"/>
<circle cx="485.6" cy="259.9" r="1.15" fill="#0173b2"/>
<circle cx="485.8" cy="258.1" r="1.15" fill="#0173b2"/>
<circle cx="486.5" cy="257.3" r="1.15" fill="#0173b2"/>
<circle cx="487.4" cy="256.4" r="1.15" fill="#0173b2"/>
<circle cx="486.3" cy="253.3" r="1.15" fill="#0173b2"/>
<circle cx="487.8" cy="254.8" r="1.15" fill="#0173b2"/>
<circle cx="489.0" cy="254.6" r="1.15" fill="#0173b2"/>
<circle cx="489.4" cy="254.0" r="1.15" fill="#0173b2"/>
<circle cx="490.5" cy="252.8" r="1.15" fill="#0173b2"/>
<circle cx="491.0" cy="252.0" r="1.15" fill="#0173b2"/>
<circle cx="490.7" cy="255.9" r="1.15" fill="#0173b2"/>
<circle cx="491.3" cy="251.2" r="1.15" fill="#0173b2"/>
<circle cx="492.6" cy="250.7" r="1.15" fill="#0173b2"/>
<circle cx="492.7" cy="256.4" r="1.15" fill="#0173b2"/>
<circle cx="493.5" cy="250.4" r="1.15" fill="#0173b2"/>
<circle cx="493.6" cy="249.4" r="1.15" fill="#0173b2"/>
<circle cx="493.6" cy="252.4" r="1.15" fill="#0173b2"/>
<circle cx="494.9" cy="248.9" r="1.15" fill="#0173b2"/>
<circle cx="495.1" cy="247.5" r="1.15" fill="#0173b2"/>
<circle cx="496.2" cy="247.2" r="1.15" fill="#0173b2"/>
<circle cx="496.5" cy="246.2" r="1.15" fill="#0173b2"/>
<circle cx="497.6" cy="245.4" r="1.15" fill="#0173b2"/>
<circle cx="498.4" cy="244.8" r="1.15" fill="#0173b2"/>
<circle cx="495.9" cy="250.0" r="1.15" fill="#0173b2"/>
<circle cx="496.9" cy="251.0" r="1.15" fill="#0173b2"/>
<circle cx="498.6" cy="246.7" r="1.15" fill="#0173b2"/>
<circle cx="499.5" cy="245.5" r="1.15" fill="#0173b2"/>
<circle cx="501.3" cy="245.2" r="1.15" fill="#0173b2"/>
<circle cx="502.7" cy="245.4" r="1.15" fill="#0173b2"/>
<circle cx="492.2" cy="257.2" r="1.15" fill="#0173b2"/>
<circle cx="488.3" cy="252.0" r="1.15" fill="#0173b2"/>
<circle cx="489.3" cy="251.3" r="1.15" fill="#0173b2"/>
<circle cx="491.3" cy="250.4" r="1.15" fill="#0173b2"/>
<circle cx="492.7" cy="249.0" r="1.15" fill="#0173b2"/>
<circle cx="494.2" cy="247.0" r="1.15" fill="#0173b2"/>
<circle cx="495.2" cy="245.9" r="1.15" fill="#0173b2"/>
<circle cx="474.7" cy="264.7" r="1.15" fill="#de8f05"/>
<circle cx="476.1" cy="262.7" r="1.15" fill="#de8f05"/>
<circle cx="479.4" cy="262.1" r="1.15" fill="#de8f05"/>
<circle cx="487.1" cy="258.8" r="1.15" fill="#de8f05"/>
<circle cx="477.9" cy="262.9" r="1.15" fill="#de8f05"/>
<circle cx="497.1" cy="243.8" r="1.15" fill="#0173b2"/>
<circle cx="498.9" cy="242.2" r="1.15" fill="#0173b2"/>
<circle cx="500.5" cy="240.9" r="1.15" fill="#0173b2"/>
<circle cx="499.9" cy="243.4" r="1.15" fill="#0173b2"/>
<circle cx="501.4" cy="240.0" r="1.15" fill="#0173b2"/>
<circle cx="501.8" cy="242.8" r="1.15" fill="#0173b2"/>
<circle cx="503.4" cy="238.4" r="1.15" fill="#0173b2"/>
<circle cx="503.1" cy="241.6" r="1.15" fill="#0173b2"/>
<circle cx="504.9" cy="237.5" r="1.15" fill="#0173b2"/>
<circle cx="504.6" cy="240.1" r="1.15" fill="#0173b2"/>
<circle cx="506.5" cy="236.9" r="1.15" fill="#0173b2"/>
<circle cx="506.3" cy="239.1" r="1.15" fill="#0173b2"/>
<circle cx="507.6" cy="235.2" r="1.15" fill="#0173b2"/>
<circle cx="507.4" cy="237.5" r="1.15" fill="#0173b2"/>
<circle cx="509.5" cy="234.0" r="1.15" fill="#0173b2"/>
<circle cx="508.7" cy="236.5" r="1.15" fill="#0173b2"/>
<circle cx="510.6" cy="232.0" r="1.15" fill="#0173b2"/>
<circle cx="510.1" cy="236.0" r="1.15" fill="#0173b2"/>
<circle cx="512.2" cy="230.7" r="1.15" fill="#0173b2"/>
<circle cx="511.6" cy="234.2" r="1.15" fill="#0173b2"/>
<circle cx="513.0" cy="229.7" r="1.15" fill="#0173b2"/>
<circle cx="513.0" cy="232.7" r="1.15" fill="#0173b2"/>
<circle cx="514.4" cy="235.5" r="1.15" fill="#0173b2"/>
<circle cx="514.5" cy="227.4" r="1.15" fill="#0173b2"/>
<circle cx="514.6" cy="231.5" r="1.15" fill="#0173b2"/>
<circle cx="516.6" cy="226.1" r="1.15" fill="#0173b2"/>
<circle cx="516.0" cy="230.2" r="1.15" fill="#0173b2"/>
<circle cx="517.7" cy="224.8" r="1.15" fill="#0173b2"/>
<circle cx="517.4" cy="228.3" r="1.15" fill="#0173b2"/>
<circle cx="519.6" cy="223.8" r="1.15" fill="#0173b2"/>
<circle cx="519.0" cy="227.3" r="1.15" fill="#0173b2"/>
<circle cx="521.0" cy="223.8" r="1.15" fill="#0173b2"/>
<circle cx="520.6" cy="226.8" r="1.15" fill="#0173b2"/>
<circle cx="522.2" cy="222.5" r="1.15" fill="#0173b2"/>
<circle cx="522.1" cy="225.8" r="1.15" fill="#0173b2"/>
<circle cx="523.8" cy="221.7" r="1.15" fill="#0173b2"/>
<circle cx="523.3" cy="225.3" r="1.15" fill="#0173b2"/>
<circle cx="524.7" cy="223.7" r="1.15" fill="#0173b2"/>
<circle cx="526.3" cy="222.5" r="1.15" fill="#0173b2"/>
<circle cx="527.7" cy="222.0" r="1.15" fill="#0173b2"/>
<circle cx="529.8" cy="222.4" r="1.15" fill="#0173b2"/>
<circle cx="530.4" cy="221.8" r="1.15" fill="#0173b2"/>
<circle cx="515.3" cy="224.4" r="1.15" fill="#0173b2"/>
<circle cx="514.0" cy="226.1" r="1.15" fill="#0173b2"/>
<circle cx="512.6" cy="228.1" r="1.15" fill="#0173b2"/>
<circle cx="519.5" cy="232.2" r="1.15" fill="#0173b2"/>
<circle cx="520.2" cy="231.7" r="1.15" fill="#0173b2"/>
<circle cx="522.2" cy="230.3" r="1.15" fill="#0173b2"/>
<circle cx="524.0" cy="228.4" r="1.15" fill="#0173b2"/>
<circle cx="526.8" cy="228.1" r="1.15" fill="#0173b2"/>
<circle cx="527.7" cy="224.1" r="1.15" fill="#0173b2"/>
<circle cx="507.5" cy="240.7" r="1.15" fill="#0173b2"/>
<circle cx="505.3" cy="241.2" r="1.15" fill="#0173b2"/>
<circle cx="503.0" cy="244.1" r="1.15" fill="#0173b2"/>
<circle cx="513.3" cy="222.8" r="1.15" fill="#0173b2"/>
<circle cx="520.7" cy="223.0" r="1.15" fill="#029e73"/>
<circle cx="511.0" cy="234.7" r="1.15" fill="#029e73"/>
<circle cx="529.6" cy="225.3" r="1.15" fill="#029e73"/>
<circle cx="523.1" cy="230.2" r="1.15" fill="#029e73"/>
<circle cx="531.0" cy="211.1" r="1.15" fill="#0173b2"/>
<circle cx="530.9" cy="213.4" r="1.15" fill="#0173b2"/>
<circle cx="531.0" cy="215.4" r="1.15" fill="#0173b2"/>
<circle cx="530.8" cy="217.7" r="1.15" fill="#0173b2"/>
<circle cx="532.5" cy="209.7" r="1.15" fill="#0173b2"/>
<circle cx="532.5" cy="212.4" r="1.15" fill="#0173b2"/>
<circle cx="532.5" cy="213.9" r="1.15" fill="#0173b2"/>
<circle cx="532.6" cy="216.6" r="1.15" fill="#0173b2"/>
<circle cx="532.3" cy="219.5" r="1.15" fill="#0173b2"/>
<circle cx="533.2" cy="209.5" r="1.15" fill="#0173b2"/>
<circle cx="533.7" cy="211.3" r="1.15" fill="#0173b2"/>
<circle cx="533.5" cy="213.8" r="1.15" fill="#0173b2"/>
<circle cx="533.9" cy="216.0" r="1.15" fill="#0173b2"/>
<circle cx="533.4" cy="220.6" r="1.15" fill="#0173b2"/>
<circle cx="534.9" cy="208.1" r="1.15" fill="#0173b2"/>
<circle cx="534.9" cy="210.2" r="1.15" fill="#0173b2"/>
<circle cx="535.3" cy="212.5" r="1.15" fill="#0173b2"/>
<circle cx="535.4" cy="214.6" r="1.15" fill="#0173b2"/>
<circle cx="536.7" cy="206.7" r="1.15" fill="#0173b2"/>
<circle cx="536.5" cy="209.1" r="1.15" fill="#0173b2"/>
<circle cx="536.8" cy="211.7" r="1.15" fill="#0173b2"/>
<circle cx="537.1" cy="213.6" r="1.15" fill="#0173b2"/>
<circle cx="538.3" cy="206.2" r="1.15" fill="#0173b2"/>
<circle cx="538.3" cy="208.6" r="1.15" fill="#0173b2"/>
<circle cx="538.5" cy="210.9" r="1.15" fill="#0173b2"/>
<circle cx="539.5" cy="205.2" r="1.15" fill="#0173b2"/>
<circle cx="539.5" cy="208.0" r="1.15" fill="#0173b2"/>
<circle cx="540.9" cy="204.1" r="1.15" fill="#0173b2"/>
<circle cx="540.8" cy="206.6" r="1.15" fill="#0173b2"/>
<circle cx="542.5" cy="203.1" r="1.15" fill="#0173b2"/>
<circle cx="542.2" cy="205.4" r="1.15" fill="#0173b2"/>
<circle cx="544.2" cy="202.8" r="1.15" fill="#0173b2"/>
<circle cx="543.4" cy="205.2" r="1.15" fill="#0173b2"/>
<circle cx="544.1" cy="207.1" r="1.15" fill="#0173b2"/>
<circle cx="545.2" cy="202.1" r="1.15" fill="#0173b2"/>
<circle cx="545.2" cy="203.7" r="1.15" fill="#0173b2"/>
<circle cx="546.0" cy="206.5" r="1.15" fill="#0173b2"/>
<circle cx="546.9" cy="201.0" r="1.15" fill="#0173b2"/>
<circle cx="546.4" cy="203.6" r="1.15" fill="#0173b2"/>
<circle cx="547.7" cy="205.3" r="1.15" fill="#0173b2"/>
<circle cx="547.8" cy="208.9" r="1.15" fill="#0173b2"/>
<circle cx="548.1" cy="200.3" r="1.15" fill="#0173b2"/>
<circle cx="548.3" cy="203.0" r="1.15" fill="#0173b2"/>
<circle cx="548.6" cy="204.6" r="1.15" fill="#0173b2"/>
<circle cx="548.7" cy="207.2" r="1.15" fill="#0173b2"/>
<circle cx="549.3" cy="200.5" r="1.15" fill="#0173b2"/>
<circle cx="550.3" cy="202.8" r="1.15" fill="#0173b2"/>
<circle cx="550.0" cy="205.9" r="1.15" fill="#0173b2"/>
<circle cx="551.5" cy="199.8" r="1.15" fill="#0173b2"/>
<circle cx="552.0" cy="201.6" r="1.15" fill="#0173b2"/>
<circle cx="552.1" cy="204.9" r="1.15" fill="#0173b2"/>
<circle cx="552.7" cy="200.8" r="1.15" fill="#0173b2"/>
<circle cx="553.1" cy="203.7" r="1.15" fill="#0173b2"/>
<circle cx="553.0" cy="205.8" r="1.15" fill="#0173b2"/>
<circle cx="553.9" cy="201.5" r="1.15" fill="#0173b2"/>
<circle cx="555.0" cy="204.5" r="1.15" fill="#0173b2"/>
<circle cx="555.4" cy="200.1" r="1.15" fill="#0173b2"/>
<circle cx="555.4" cy="205.9" r="1.15" fill="#0173b2"/>
<circle cx="556.2" cy="202.9" r="1.15" fill="#0173b2"/>
<circle cx="557.5" cy="201.3" r="1.15" fill="#0173b2"/>
<circle cx="558.1" cy="207.5" r="1.15" fill="#0173b2"/>
<circle cx="559.0" cy="200.5" r="1.15" fill="#0173b2"/>
<circle cx="559.7" cy="208.1" r="1.15" fill="#0173b2"/>
<circle cx="560.0" cy="206.1" r="1.15" fill="#0173b2"/>
<circle cx="562.1" cy="202.9" r="1.15" fill="#0173b2"/>
<circle cx="563.1" cy="200.2" r="1.15" fill="#0173b2"/>
<circle cx="563.4" cy="203.8" r="1.15" fill="#0173b2"/>
<circle cx="564.9" cy="202.3" r="1.15" fill="#0173b2"/>
<circle cx="565.3" cy="203.4" r="1.15" fill="#0173b2"/>
<circle cx="566.5" cy="201.4" r="1.15" fill="#0173b2"/>
<circle cx="567.9" cy="199.9" r="1.15" fill="#0173b2"/>
<circle cx="570.4" cy="199.3" r="1.15" fill="#0173b2"/>
<circle cx="572.5" cy="199.3" r="1.15" fill="#0173b2"/>
<circle cx="573.9" cy="198.9" r="1.15" fill="#0173b2"/>
<circle cx="544.9" cy="208.0" r="1.15" fill="#0173b2"/>
<circle cx="547.0" cy="210.0" r="1.15" fill="#0173b2"/>
<circle cx="548.5" cy="210.6" r="1.15" fill="#0173b2"/>
<circle cx="550.4" cy="212.5" r="1.15" fill="#0173b2"/>
<circle cx="549.4" cy="214.5" r="1.15" fill="#0173b2"/>
<circle cx="545.0" cy="214.0" r="1.15" fill="#0173b2"/>
<circle cx="544.9" cy="217.8" r="1.15" fill="#0173b2"/>
<circle cx="540.3" cy="219.9" r="1.15" fill="#0173b2"/>
<circle cx="541.3" cy="219.1" r="1.15" fill="#0173b2"/>
<circle cx="553.6" cy="210.3" r="1.15" fill="#0173b2"/>
<circle cx="554.5" cy="211.3" r="1.15" fill="#0173b2"/>
<circle cx="558.0" cy="221.5" r="1.15" fill="#0173b2"/>
<circle cx="542.3" cy="205.2" r="1.15" fill="#029e73"/>
<circle cx="538.7" cy="208.1" r="1.15" fill="#029e73"/>
<circle cx="539.4" cy="211.8" r="1.15" fill="#029e73"/>
<circle cx="532.3" cy="218.3" r="1.15" fill="#029e73"/>
<circle cx="532.6" cy="219.7" r="1.15" fill="#029e73"/>
<circle cx="561.4" cy="201.6" r="1.15" fill="#d55e00"/>
<circle cx="567.6" cy="199.6" r="1.15" fill="#d55e00"/>
<circle cx="569.8" cy="199.6" r="1.15" fill="#d55e00"/>
<circle cx="559.9" cy="205.4" r="1.15" fill="#d55e00"/>
<circle cx="552.2" cy="208.8" r="1.15" fill="#d55e00"/>
<circle cx="551.8" cy="209.4" r="1.15" fill="#d55e00"/>
<circle cx="555.7" cy="208.6" r="1.15" fill="#d55e00"/>
<circle cx="556.0" cy="209.3" r="1.15" fill="#d55e00"/>
<circle cx="539.8" cy="217.8" r="1.15" fill="#d55e00"/>
<circle cx="540.1" cy="218.4" r="1.15" fill="#d55e00"/>
<circle cx="574.6" cy="184.9" r="1.15" fill="#0173b2"/>
<circle cx="575.9" cy="183.7" r="1.15" fill="#0173b2"/>
<circle cx="570.6" cy="187.5" r="1.15" fill="#0173b2"/>
<circle cx="569.7" cy="190.8" r="1.15" fill="#0173b2"/>
<circle cx="568.1" cy="192.8" r="1.15" fill="#0173b2"/>
<circle cx="566.4" cy="194.5" r="1.15" fill="#0173b2"/>
<circle cx="564.4" cy="191.9" r="1.15" fill="#0173b2"/>
<circle cx="562.6" cy="193.1" r="1.15" fill="#0173b2"/>
<circle cx="561.8" cy="195.1" r="1.15" fill="#0173b2"/>
<circle cx="560.3" cy="196.2" r="1.15" fill="#0173b2"/>
<circle cx="560.0" cy="192.7" r="1.15" fill="#0173b2"/>
<circle cx="562.1" cy="197.4" r="1.15" fill="#0173b2"/>
<circle cx="563.5" cy="196.3" r="1.15" fill="#0173b2"/>
<circle cx="565.5" cy="197.9" r="1.15" fill="#0173b2"/>
<circle cx="560.7" cy="198.3" r="1.15" fill="#0173b2"/>
<circle cx="579.5" cy="189.2" r="1.15" fill="#0173b2"/>
<circle cx="579.1" cy="191.0" r="1.15" fill="#0173b2"/>
<circle cx="583.8" cy="187.5" r="1.15" fill="#0173b2"/>
<circle cx="575.8" cy="195.2" r="1.15" fill="#0173b2"/>
<circle cx="574.5" cy="197.6" r="1.15" fill="#0173b2"/>
<circle cx="572.9" cy="198.8" r="1.15" fill="#0173b2"/>
<circle cx="591.6" cy="179.8" r="1.15" fill="#0173b2"/>
<circle cx="590.8" cy="184.4" r="1.15" fill="#0173b2"/>
<circle cx="595.2" cy="182.8" r="1.15" fill="#0173b2"/>
<circle cx="596.0" cy="182.7" r="1.15" fill="#0173b2"/>
<circle cx="568.3" cy="193.2" r="1.15" fill="#0173b2"/>
<circle cx="567.5" cy="191.4" r="1.15" fill="#0173b2"/>
<circle cx="578.5" cy="183.9" r="1.15" fill="#d55e00"/>
<circle cx="579.6" cy="183.6" r="1.15" fill="#d55e00"/>
<circle cx="582.1" cy="182.9" r="1.15" fill="#d55e00"/>
<circle cx="583.2" cy="184.4" r="1.15" fill="#d55e00"/>
<circle cx="582.0" cy="187.2" r="1.15" fill="#d55e00"/>
<circle cx="572.2" cy="189.4" r="1.15" fill="#d55e00"/>
<circle cx="574.1" cy="189.3" r="1.15" fill="#d55e00"/>
<circle cx="575.3" cy="189.5" r="1.15" fill="#d55e00"/>
<circle cx="577.0" cy="189.0" r="1.15" fill="#d55e00"/>
<circle cx="571.3" cy="191.5" r="1.15" fill="#d55e00"/>
<circle cx="573.2" cy="191.4" r="1.15" fill="#d55e00"/>
<circle cx="574.2" cy="192.4" r="1.15" fill="#d55e00"/>
<circle cx="572.0" cy="194.2" r="1.15" fill="#d55e00"/>
<circle cx="571.0" cy="196.0" r="1.15" fill="#d55e00"/>
<circle cx="573.7" cy="196.0" r="1.15" fill="#d55e00"/>
<circle cx="569.4" cy="196.2" r="1.15" fill="#d55e00"/>
<circle cx="568.5" cy="198.3" r="1.15" fill="#d55e00"/>
<circle cx="566.2" cy="191.0" r="1.15" fill="#d55e00"/>
<circle cx="564.5" cy="192.4" r="1.15" fill="#d55e00"/>
<circle cx="562.6" cy="194.6" r="1.15" fill="#d55e00"/>
<circle cx="561.3" cy="196.5" r="1.15" fill="#d55e00"/>
<circle cx="589.4" cy="181.1" r="1.15" fill="#d55e00"/>
<circle cx="597.2" cy="175.6" r="1.15" fill="#d55e00"/>
<circle cx="600.6" cy="177.0" r="1.15" fill="#d55e00"/>
<circle cx="598.5" cy="178.9" r="1.15" fill="#d55e00"/>
<circle cx="570.5" cy="192.8" r="1.15" fill="#d55e00"/>
<circle cx="619.6" cy="160.2" r="1.15" fill="#0173b2"/>
<circle cx="622.0" cy="159.7" r="1.15" fill="#0173b2"/>
<circle cx="616.2" cy="163.2" r="1.15" fill="#0173b2"/>
<circle cx="616.5" cy="162.1" r="1.15" fill="#0173b2"/>
<circle cx="608.0" cy="168.1" r="1.15" fill="#0173b2"/>
<circle cx="611.3" cy="168.5" r="1.15" fill="#0173b2"/>
<circle cx="621.3" cy="169.8" r="1.15" fill="#0173b2"/>
<circle cx="623.1" cy="171.7" r="1.15" fill="#0173b2"/>
<circle cx="607.2" cy="170.0" r="1.15" fill="#d55e00"/>
<circle cx="613.0" cy="169.2" r="1.15" fill="#d55e00"/>
<circle cx="520.6" cy="219.7" r="1.15" fill="#0173b2"/>
<circle cx="522.5" cy="218.3" r="1.15" fill="#0173b2"/>
<circle cx="523.7" cy="216.2" r="1.15" fill="#0173b2"/>
<circle cx="524.9" cy="214.8" r="1.15" fill="#0173b2"/>
<circle cx="526.8" cy="213.8" r="1.15" fill="#0173b2"/>
<circle cx="528.2" cy="212.3" r="1.15" fill="#0173b2"/>
<circle cx="529.8" cy="211.5" r="1.15" fill="#0173b2"/>
<circle cx="521.2" cy="221.0" r="1.15" fill="#0173b2"/>
<circle cx="522.6" cy="220.1" r="1.15" fill="#0173b2"/>
<circle cx="524.0" cy="218.9" r="1.15" fill="#0173b2"/>
<circle cx="525.7" cy="216.9" r="1.15" fill="#0173b2"/>
<circle cx="527.6" cy="215.3" r="1.15" fill="#0173b2"/>
<circle cx="529.0" cy="214.5" r="1.15" fill="#0173b2"/>
<circle cx="529.1" cy="217.4" r="1.15" fill="#0173b2"/>
<circle cx="525.1" cy="221.1" r="1.15" fill="#0173b2"/>
<circle cx="527.3" cy="220.0" r="1.15" fill="#0173b2"/>
<circle cx="529.0" cy="218.2" r="1.15" fill="#0173b2"/>
<circle cx="529.6" cy="220.4" r="1.15" fill="#0173b2"/>
<circle cx="526.3" cy="218.2" r="1.15" fill="#0173b2"/>
<circle cx="528.3" cy="217.1" r="1.15" fill="#0173b2"/>
<circle cx="493.1" cy="243.4" r="1.15" fill="#0173b2"/>
<circle cx="619.0" cy="177.3" r="1.15" fill="#0173b2"/>
<circle cx="610.5" cy="180.7" r="1.15" fill="#d55e00"/>
<circle cx="475.2" cy="264.2" r="1.15" fill="#0173b2"/>
<circle cx="476.3" cy="263.0" r="1.15" fill="#0173b2"/>
<circle cx="476.5" cy="264.3" r="1.15" fill="#0173b2"/>
<circle cx="480.0" cy="263.5" r="1.15" fill="#0173b2"/>
<circle cx="479.6" cy="260.7" r="1.15" fill="#0173b2"/>
<circle cx="481.4" cy="260.4" r="1.15" fill="#0173b2"/>
<circle cx="481.0" cy="259.5" r="1.15" fill="#0173b2"/>
<circle cx="481.8" cy="261.6" r="1.15" fill="#0173b2"/>
<circle cx="484.1" cy="258.1" r="1.15" fill="#0173b2"/>
<circle cx="484.8" cy="258.3" r="1.15" fill="#0173b2"/>
<circle cx="486.1" cy="258.8" r="1.15" fill="#0173b2"/>
<circle cx="487.1" cy="258.2" r="1.15" fill="#0173b2"/>
<circle cx="487.1" cy="256.3" r="1.15" fill="#0173b2"/>
<circle cx="487.7" cy="256.1" r="1.15" fill="#0173b2"/>
<circle cx="487.2" cy="255.6" r="1.15" fill="#0173b2"/>
<circle cx="487.7" cy="254.6" r="1.15" fill="#0173b2"/>
<circle cx="488.3" cy="254.9" r="1.15" fill="#0173b2"/>
<circle cx="491.5" cy="251.6" r="1.15" fill="#0173b2"/>
<circle cx="490.9" cy="251.9" r="1.15" fill="#0173b2"/>
<circle cx="491.3" cy="256.5" r="1.15" fill="#0173b2"/>
<circle cx="490.9" cy="252.3" r="1.15" fill="#0173b2"/>
<circle cx="491.8" cy="249.8" r="1.15" fill="#0173b2"/>
<circle cx="494.3" cy="249.4" r="1.15" fill="#0173b2"/>
<circle cx="492.7" cy="249.4" r="1.15" fill="#0173b2"/>
<circle cx="493.2" cy="251.6" r="1.15" fill="#0173b2"/>
<circle cx="496.0" cy="248.8" r="1.15" fill="#0173b2"/>
<circle cx="495.9" cy="246.9" r="1.15" fill="#0173b2"/>
<circle cx="497.3" cy="246.5" r="1.15" fill="#0173b2"/>
<circle cx="497.6" cy="246.5" r="1.15" fill="#0173b2"/>
<circle cx="498.9" cy="246.1" r="1.15" fill="#0173b2"/>
<circle cx="498.7" cy="244.9" r="1.15" fill="#0173b2"/>
<circle cx="496.8" cy="249.9" r="1.15" fill="#0173b2"/>
<circle cx="497.5" cy="247.7" r="1.15" fill="#0173b2"/>
<circle cx="500.3" cy="246.0" r="1.15" fill="#0173b2"/>
<circle cx="501.9" cy="244.5" r="1.15" fill="#0173b2"/>
<circle cx="488.2" cy="252.9" r="1.15" fill="#0173b2"/>
<circle cx="490.5" cy="252.4" r="1.15" fill="#0173b2"/>
<circle cx="490.4" cy="250.9" r="1.15" fill="#0173b2"/>
<circle cx="492.8" cy="248.8" r="1.15" fill="#0173b2"/>
<circle cx="493.3" cy="246.1" r="1.15" fill="#0173b2"/>
<circle cx="495.1" cy="245.9" r="1.15" fill="#0173b2"/>
<circle cx="474.1" cy="264.3" r="1.15" fill="#de8f05"/>
<circle cx="476.3" cy="263.4" r="1.15" fill="#de8f05"/>
<circle cx="479.7" cy="261.2" r="1.15" fill="#de8f05"/>
<circle cx="488.1" cy="258.4" r="1.15" fill="#de8f05"/>
<circle cx="479.1" cy="264.1" r="1.15" fill="#de8f05"/>
<circle cx="496.2" cy="244.0" r="1.15" fill="#0173b2"/>
<circle cx="500.1" cy="241.9" r="1.15" fill="#0173b2"/>
<circle cx="500.7" cy="240.4" r="1.15" fill="#0173b2"/>
<circle cx="498.7" cy="242.6" r="1.15" fill="#0173b2"/>
<circle cx="500.4" cy="239.5" r="1.15" fill="#0173b2"/>
<circle cx="502.1" cy="243.0" r="1.15" fill="#0173b2"/>
<circle cx="504.6" cy="238.9" r="1.15" fill="#0173b2"/>
<circle cx="502.7" cy="242.7" r="1.15" fill="#0173b2"/>
<circle cx="505.2" cy="237.6" r="1.15" fill="#0173b2"/>
<circle cx="505.5" cy="240.5" r="1.15" fill="#0173b2"/>
<circle cx="506.2" cy="237.2" r="1.15" fill="#0173b2"/>
<circle cx="505.7" cy="240.3" r="1.15" fill="#0173b2"/>
<circle cx="506.9" cy="236.4" r="1.15" fill="#0173b2"/>
<circle cx="506.3" cy="236.3" r="1.15" fill="#0173b2"/>
<circle cx="509.6" cy="233.2" r="1.15" fill="#0173b2"/>
<circle cx="508.7" cy="235.5" r="1.15" fill="#0173b2"/>
<circle cx="511.5" cy="232.4" r="1.15" fill="#0173b2"/>
<circle cx="510.6" cy="237.1" r="1.15" fill="#0173b2"/>
<circle cx="513.5" cy="231.1" r="1.15" fill="#0173b2"/>
<circle cx="512.1" cy="232.9" r="1.15" fill="#0173b2"/>
<circle cx="511.9" cy="229.5" r="1.15" fill="#0173b2"/>
<circle cx="514.2" cy="232.2" r="1.15" fill="#0173b2"/>
<circle cx="514.7" cy="226.1" r="1.15" fill="#0173b2"/>
<circle cx="516.4" cy="227.1" r="1.15" fill="#0173b2"/>
<circle cx="519.9" cy="224.7" r="1.15" fill="#0173b2"/>
<circle cx="519.8" cy="223.0" r="1.15" fill="#0173b2"/>
<circle cx="519.8" cy="227.6" r="1.15" fill="#0173b2"/>
<circle cx="521.2" cy="223.7" r="1.15" fill="#0173b2"/>
<circle cx="521.5" cy="226.8" r="1.15" fill="#0173b2"/>
<circle cx="523.8" cy="221.2" r="1.15" fill="#0173b2"/>
<circle cx="524.5" cy="225.1" r="1.15" fill="#0173b2"/>
<circle cx="525.2" cy="222.6" r="1.15" fill="#0173b2"/>
<circle cx="527.2" cy="223.7" r="1.15" fill="#0173b2"/>
<circle cx="526.7" cy="222.6" r="1.15" fill="#0173b2"/>
<circle cx="529.2" cy="221.5" r="1.15" fill="#0173b2"/>
<circle cx="530.1" cy="222.3" r="1.15" fill="#0173b2"/>
<circle cx="516.5" cy="225.7" r="1.15" fill="#0173b2"/>
<circle cx="525.3" cy="228.7" r="1.15" fill="#0173b2"/>
<circle cx="528.1" cy="223.2" r="1.15" fill="#0173b2"/>
<circle cx="521.3" cy="223.1" r="1.15" fill="#029e73"/>
<circle cx="510.6" cy="235.8" r="1.15" fill="#029e73"/>
<circle cx="530.4" cy="210.2" r="1.15" fill="#0173b2"/>
<circle cx="530.0" cy="212.5" r="1.15" fill="#0173b2"/>
<circle cx="531.3" cy="216.1" r="1.15" fill="#0173b2"/>
<circle cx="529.9" cy="217.7" r="1.15" fill="#0173b2"/>
<circle cx="532.7" cy="209.9" r="1.15" fill="#0173b2"/>
<circle cx="532.3" cy="212.5" r="1.15" fill="#0173b2"/>
<circle cx="531.3" cy="212.8" r="1.15" fill="#0173b2"/>
<circle cx="532.4" cy="215.9" r="1.15" fill="#0173b2"/>
<circle cx="533.0" cy="218.8" r="1.15" fill="#0173b2"/>
<circle cx="534.1" cy="208.8" r="1.15" fill="#0173b2"/>
<circle cx="532.6" cy="211.2" r="1.15" fill="#0173b2"/>
<circle cx="533.2" cy="213.3" r="1.15" fill="#0173b2"/>
<circle cx="534.6" cy="215.3" r="1.15" fill="#0173b2"/>
<circle cx="535.3" cy="208.9" r="1.15" fill="#0173b2"/>
<circle cx="534.8" cy="210.2" r="1.15" fill="#0173b2"/>
<circle cx="536.4" cy="212.8" r="1.15" fill="#0173b2"/>
<circle cx="534.6" cy="213.5" r="1.15" fill="#0173b2"/>
<circle cx="535.7" cy="206.3" r="1.15" fill="#0173b2"/>
<circle cx="535.4" cy="209.5" r="1.15" fill="#0173b2"/>
<circle cx="536.6" cy="211.2" r="1.15" fill="#0173b2"/>
<circle cx="537.1" cy="214.8" r="1.15" fill="#0173b2"/>
<circle cx="537.7" cy="205.3" r="1.15" fill="#0173b2"/>
<circle cx="537.8" cy="208.2" r="1.15" fill="#0173b2"/>
<circle cx="539.6" cy="211.5" r="1.15" fill="#0173b2"/>
<circle cx="539.3" cy="204.3" r="1.15" fill="#0173b2"/>
<circle cx="538.3" cy="207.0" r="1.15" fill="#0173b2"/>
<circle cx="541.8" cy="204.4" r="1.15" fill="#0173b2"/>
<circle cx="539.9" cy="206.9" r="1.15" fill="#0173b2"/>
<circle cx="541.3" cy="203.1" r="1.15" fill="#0173b2"/>
<circle cx="541.8" cy="204.4" r="1.15" fill="#0173b2"/>
<circle cx="544.8" cy="203.4" r="1.15" fill="#0173b2"/>
<circle cx="543.5" cy="204.3" r="1.15" fill="#0173b2"/>
<circle cx="544.5" cy="206.9" r="1.15" fill="#0173b2"/>
<circle cx="545.6" cy="201.0" r="1.15" fill="#0173b2"/>
<circle cx="546.2" cy="202.4" r="1.15" fill="#0173b2"/>
<circle cx="545.3" cy="206.3" r="1.15" fill="#0173b2"/>
<circle cx="546.2" cy="200.0" r="1.15" fill="#0173b2"/>
<circle cx="546.9" cy="204.9" r="1.15" fill="#0173b2"/>
<circle cx="547.3" cy="204.7" r="1.15" fill="#0173b2"/>
<circle cx="548.2" cy="208.2" r="1.15" fill="#0173b2"/>
<circle cx="548.1" cy="203.5" r="1.15" fill="#0173b2"/>
<circle cx="548.4" cy="203.7" r="1.15" fill="#0173b2"/>
<circle cx="547.6" cy="207.3" r="1.15" fill="#0173b2"/>
<circle cx="550.6" cy="201.6" r="1.15" fill="#0173b2"/>
<circle cx="549.3" cy="202.8" r="1.15" fill="#0173b2"/>
<circle cx="550.0" cy="205.1" r="1.15" fill="#0173b2"/>
<circle cx="552.5" cy="201.6" r="1.15" fill="#0173b2"/>
<circle cx="552.9" cy="204.3" r="1.15" fill="#0173b2"/>
<circle cx="553.9" cy="201.6" r="1.15" fill="#0173b2"/>
<circle cx="553.0" cy="202.8" r="1.15" fill="#0173b2"/>
<circle cx="552.9" cy="204.9" r="1.15" fill="#0173b2"/>
<circle cx="554.4" cy="202.0" r="1.15" fill="#0173b2"/>
<circle cx="555.2" cy="205.7" r="1.15" fill="#0173b2"/>
<circle cx="554.3" cy="206.5" r="1.15" fill="#0173b2"/>
<circle cx="557.0" cy="201.9" r="1.15" fill="#0173b2"/>
<circle cx="557.6" cy="206.3" r="1.15" fill="#0173b2"/>
<circle cx="563.4" cy="200.8" r="1.15" fill="#0173b2"/>
<circle cx="564.5" cy="202.8" r="1.15" fill="#0173b2"/>
<circle cx="567.6" cy="200.5" r="1.15" fill="#0173b2"/>
<circle cx="569.8" cy="200.5" r="1.15" fill="#0173b2"/>
<circle cx="572.3" cy="198.0" r="1.15" fill="#0173b2"/>
<circle cx="543.8" cy="208.6" r="1.15" fill="#0173b2"/>
<circle cx="554.5" cy="210.7" r="1.15" fill="#0173b2"/>
<circle cx="541.4" cy="206.2" r="1.15" fill="#029e73"/>
<circle cx="539.3" cy="207.1" r="1.15" fill="#029e73"/>
<circle cx="531.9" cy="218.7" r="1.15" fill="#029e73"/>
<circle cx="531.3" cy="218.5" r="1.15" fill="#029e73"/>
<circle cx="567.3" cy="200.6" r="1.15" fill="#d55e00"/>
<circle cx="571.1" cy="199.1" r="1.15" fill="#d55e00"/>
<circle cx="556.8" cy="209.4" r="1.15" fill="#d55e00"/>
<circle cx="570.7" cy="191.0" r="1.15" fill="#0173b2"/>
<circle cx="569.3" cy="193.2" r="1.15" fill="#0173b2"/>
<circle cx="563.8" cy="193.2" r="1.15" fill="#0173b2"/>
<circle cx="561.0" cy="195.2" r="1.15" fill="#0173b2"/>
<circle cx="560.3" cy="195.7" r="1.15" fill="#0173b2"/>
<circle cx="561.7" cy="197.4" r="1.15" fill="#0173b2"/>
<circle cx="563.7" cy="195.6" r="1.15" fill="#0173b2"/>
<circle cx="560.1" cy="198.3" r="1.15" fill="#0173b2"/>
<circle cx="574.6" cy="197.4" r="1.15" fill="#0173b2"/>
<circle cx="573.3" cy="198.0" r="1.15" fill="#0173b2"/>
<circle cx="568.4" cy="192.6" r="1.15" fill="#0173b2"/>
<circle cx="568.2" cy="192.0" r="1.15" fill="#0173b2"/>
<circle cx="573.0" cy="189.5" r="1.15" fill="#d55e00"/>
<circle cx="573.5" cy="190.4" r="1.15" fill="#d55e00"/>
<circle cx="575.4" cy="189.2" r="1.15" fill="#d55e00"/>
<circle cx="570.7" cy="191.3" r="1.15" fill="#d55e00"/>
<circle cx="573.8" cy="192.2" r="1.15" fill="#d55e00"/>
<circle cx="574.1" cy="193.0" r="1.15" fill="#d55e00"/>
<circle cx="571.3" cy="194.1" r="1.15" fill="#d55e00"/>
<circle cx="573.3" cy="195.5" r="1.15" fill="#d55e00"/>
<circle cx="568.1" cy="198.9" r="1.15" fill="#d55e00"/>
<circle cx="566.8" cy="190.2" r="1.15" fill="#d55e00"/>
<circle cx="563.8" cy="193.1" r="1.15" fill="#d55e00"/>
<circle cx="563.0" cy="195.0" r="1.15" fill="#d55e00"/>
<circle cx="561.7" cy="197.0" r="1.15" fill="#d55e00"/>
<circle cx="569.9" cy="191.6" r="1.15" fill="#d55e00"/>
<circle cx="522.2" cy="217.0" r="1.15" fill="#0173b2"/>
<circle cx="529.4" cy="212.4" r="1.15" fill="#0173b2"/>
<circle cx="530.3" cy="212.7" r="1.15" fill="#0173b2"/>
<circle cx="522.0" cy="220.3" r="1.15" fill="#0173b2"/>
<circle cx="522.2" cy="219.1" r="1.15" fill="#0173b2"/>
<circle cx="524.8" cy="219.5" r="1.15" fill="#0173b2"/>
<circle cx="525.7" cy="216.6" r="1.15" fill="#0173b2"/>
<circle cx="527.0" cy="215.3" r="1.15" fill="#0173b2"/>
<circle cx="529.6" cy="215.5" r="1.15" fill="#0173b2"/>
<circle cx="530.0" cy="218.3" r="1.15" fill="#0173b2"/>
<circle cx="524.9" cy="220.9" r="1.15" fill="#0173b2"/>
<circle cx="526.8" cy="221.2" r="1.15" fill="#0173b2"/>
<circle cx="528.2" cy="217.3" r="1.15" fill="#0173b2"/>
<circle cx="529.1" cy="221.5" r="1.15" fill="#0173b2"/>
<circle cx="527.2" cy="217.8" r="1.15" fill="#0173b2"/>
<circle cx="529.2" cy="218.1" r="1.15" fill="#0173b2"/>
<rect x="28.90" y="0.45" width="185.90" height="286.55" fill="none" stroke="#222" stroke-width="1.25"/>
<rect x="221.20" y="0.45" width="185.90" height="286.55" fill="none" stroke="#222" stroke-width="1.25"/>
<rect x="453.30" y="0.40" width="184.10" height="140.50" fill="none" stroke="#222" stroke-width="1.25"/>
<rect x="453.30" y="146.70" width="184.10" height="140.10" fill="none" stroke="#222" stroke-width="1.25"/>
<line x1="62.20" y1="287.00" x2="62.20" y2="281.70" stroke="#222" stroke-width="1.25"/>
<text x="62.20" y="298.00" font-size="10.4" text-anchor="middle">0</text>
<line x1="117.70" y1="287.00" x2="117.70" y2="281.70" stroke="#222" stroke-width="1.25"/>
<text x="117.70" y="298.00" font-size="10.4" text-anchor="middle">1</text>
<line x1="173.20" y1="287.00" x2="173.20" y2="281.70" stroke="#222" stroke-width="1.25"/>
<text x="173.20" y="298.00" font-size="10.4" text-anchor="middle">2</text>
<line x1="254.50" y1="287.00" x2="254.50" y2="281.70" stroke="#222" stroke-width="1.25"/>
<text x="254.50" y="298.00" font-size="10.4" text-anchor="middle">0</text>
<line x1="310.00" y1="287.00" x2="310.00" y2="281.70" stroke="#222" stroke-width="1.25"/>
<text x="310.00" y="298.00" font-size="10.4" text-anchor="middle">1</text>
<line x1="365.50" y1="287.00" x2="365.50" y2="281.70" stroke="#222" stroke-width="1.25"/>
<text x="365.50" y="298.00" font-size="10.4" text-anchor="middle">2</text>
<line x1="486.30" y1="286.80" x2="486.30" y2="281.50" stroke="#222" stroke-width="1.25"/>
<text x="486.30" y="297.80" font-size="10.4" text-anchor="middle">0</text>
<line x1="541.25" y1="286.80" x2="541.25" y2="281.50" stroke="#222" stroke-width="1.25"/>
<text x="541.25" y="297.80" font-size="10.4" text-anchor="middle">1</text>
<line x1="596.20" y1="286.80" x2="596.20" y2="281.50" stroke="#222" stroke-width="1.25"/>
<text x="596.20" y="297.80" font-size="10.4" text-anchor="middle">2</text>
<line x1="486.30" y1="140.90" x2="486.30" y2="135.60" stroke="#222" stroke-width="1.25"/>
<line x1="541.25" y1="140.90" x2="541.25" y2="135.60" stroke="#222" stroke-width="1.25"/>
<line x1="596.20" y1="140.90" x2="596.20" y2="135.60" stroke="#222" stroke-width="1.25"/>
<line x1="28.90" y1="26.50" x2="34.20" y2="26.50" stroke="#222" stroke-width="1.25"/>
<text x="26.00" y="30.50" font-size="10.4" text-anchor="end" textLength="18.40" lengthAdjust="spacingAndGlyphs">−10</text>
<line x1="28.90" y1="78.60" x2="34.20" y2="78.60" stroke="#222" stroke-width="1.25"/>
<text x="26.00" y="82.60" font-size="10.4" text-anchor="end" textLength="12.40" lengthAdjust="spacingAndGlyphs">−5</text>
<line x1="28.90" y1="130.70" x2="34.20" y2="130.70" stroke="#222" stroke-width="1.25"/>
<text x="25.30" y="134.70" font-size="10.4" text-anchor="end">0</text>
<line x1="28.90" y1="182.80" x2="34.20" y2="182.80" stroke="#222" stroke-width="1.25"/>
<text x="25.30" y="186.80" font-size="10.4" text-anchor="end">5</text>
<line x1="28.90" y1="234.90" x2="34.20" y2="234.90" stroke="#222" stroke-width="1.25"/>
<text x="25.30" y="238.90" font-size="10.4" text-anchor="end">10</text>
<line x1="28.90" y1="287.00" x2="34.20" y2="287.00" stroke="#222" stroke-width="1.25"/>
<text x="25.30" y="291.00" font-size="10.4" text-anchor="end">15</text>
<line x1="221.20" y1="26.50" x2="226.50" y2="26.50" stroke="#222" stroke-width="1.25"/>
<line x1="221.20" y1="78.60" x2="226.50" y2="78.60" stroke="#222" stroke-width="1.25"/>
<line x1="221.20" y1="130.70" x2="226.50" y2="130.70" stroke="#222" stroke-width="1.25"/>
<line x1="221.20" y1="182.80" x2="226.50" y2="182.80" stroke="#222" stroke-width="1.25"/>
<line x1="221.20" y1="234.90" x2="226.50" y2="234.90" stroke="#222" stroke-width="1.25"/>
<line x1="221.20" y1="287.00" x2="226.50" y2="287.00" stroke="#222" stroke-width="1.25"/>
<line x1="453.30" y1="111.70" x2="458.60" y2="111.70" stroke="#222" stroke-width="1.25"/>
<text x="449.70" y="115.70" font-size="10.4" text-anchor="end">0.0</text>
<line x1="453.30" y1="80.75" x2="458.60" y2="80.75" stroke="#222" stroke-width="1.25"/>
<text x="449.70" y="84.75" font-size="10.4" text-anchor="end">0.5</text>
<line x1="453.30" y1="49.80" x2="458.60" y2="49.80" stroke="#222" stroke-width="1.25"/>
<text x="449.70" y="53.80" font-size="10.4" text-anchor="end">1.0</text>
<line x1="453.30" y1="18.85" x2="458.60" y2="18.85" stroke="#222" stroke-width="1.25"/>
<text x="449.70" y="22.85" font-size="10.4" text-anchor="end">1.5</text>
<line x1="453.30" y1="257.80" x2="458.60" y2="257.80" stroke="#222" stroke-width="1.25"/>
<text x="449.70" y="261.80" font-size="10.4" text-anchor="end">0.0</text>
<line x1="453.30" y1="226.90" x2="458.60" y2="226.90" stroke="#222" stroke-width="1.25"/>
<text x="449.70" y="230.90" font-size="10.4" text-anchor="end">0.5</text>
<line x1="453.30" y1="196.00" x2="458.60" y2="196.00" stroke="#222" stroke-width="1.25"/>
<text x="449.70" y="200.00" font-size="10.4" text-anchor="end">1.0</text>
<line x1="453.30" y1="165.10" x2="458.60" y2="165.10" stroke="#222" stroke-width="1.25"/>
<text x="449.70" y="169.10" font-size="10.4" text-anchor="end">1.5</text>
<text x="34.70" y="15.10" font-size="12.8" text-anchor="start" textLength="46.90" lengthAdjust="spacingAndGlyphs">Observed</text>
<text x="226.00" y="15.10" font-size="12.8" text-anchor="start" textLength="48.90" lengthAdjust="spacingAndGlyphs">Synthetic</text>
<text x="459.00" y="16.60" font-size="12.8" text-anchor="start" textLength="46.80" lengthAdjust="spacingAndGlyphs">Observed</text>
<text x="458.30" y="162.40" font-size="12.8" text-anchor="start" textLength="48.60" lengthAdjust="spacingAndGlyphs">Synthetic</text>
<text x="137.10" y="131.90" font-size="11.3" text-anchor="start" textLength="71.60" lengthAdjust="spacingAndGlyphs">2MASS quality</text>
<text x="157.2" y="146.5" font-size="10.6"><tspan font-family="Liberation Mono" textLength="15" lengthAdjust="spacingAndGlyphs">AAA</tspan><tspan x="176.5" textLength="24.8" lengthAdjust="spacingAndGlyphs">(best)</tspan></text>
<text x="156.90" y="161.90" font-size="10.6" text-anchor="start" textLength="25.20" lengthAdjust="spacingAndGlyphs">Other</text>
<circle cx="147.7" cy="144.1" r="1.8" fill="#0173b2"/>
<circle cx="147.7" cy="159.1" r="1.8" fill="#8dc2e2"/>
<text x="331.30" y="132.60" font-size="11.3" text-anchor="start" textLength="70.20" lengthAdjust="spacingAndGlyphs">Spectrum flags</text>
<text x="342.30" y="147.00" font-size="10.8" text-anchor="start" textLength="23.00" lengthAdjust="spacingAndGlyphs">None</text>
<circle cx="334.9" cy="144.1" r="1.8" fill="#0173b2"/>
<text x="342.30" y="161.50" font-size="10.8" text-anchor="start" textLength="44.80" lengthAdjust="spacingAndGlyphs">STIS only</text>
<circle cx="334.9" cy="158.6" r="1.8" fill="#de8f05"/>
<text x="342.30" y="175.80" font-size="10.8" text-anchor="start" textLength="57.60" lengthAdjust="spacingAndGlyphs">No NICMOS</text>
<circle cx="334.9" cy="172.8" r="1.8" fill="#cc78bc"/>
<text x="342.30" y="190.20" font-size="10.8" text-anchor="start" textLength="26.90" lengthAdjust="spacingAndGlyphs">Spline</text>
<circle cx="334.9" cy="187.1" r="1.8" fill="#029e73"/>
<text x="342.30" y="204.40" font-size="10.8" text-anchor="start" textLength="34.40" lengthAdjust="spacingAndGlyphs">Slit loss</text>
<circle cx="334.9" cy="201.5" r="1.8" fill="#d55e00"/>
<g transform="translate(159.9,314.1)"><text x="-0.40" y="0.00" font-size="12.30" textLength="38.20" lengthAdjust="spacingAndGlyphs">2MASS</text><text x="46.20" y="0.00" font-size="12.30" font-style="italic" text-anchor="middle">J</text><text x="53.00" y="-0.40" font-size="12.30" textLength="8.00" lengthAdjust="spacingAndGlyphs">−</text><text x="69.45" y="0.00" font-size="12.30" font-style="italic" text-anchor="middle">K</text><text x="77.55" y="1.60" font-size="8.86" font-style="italic" text-anchor="middle">S</text><text x="85.20" y="0.00" font-size="12.30" textLength="27.50" lengthAdjust="spacingAndGlyphs">[mag]</text></g>
<g transform="translate(495.3,314.1)"><text x="-0.40" y="0.00" font-size="12.30" textLength="38.20" lengthAdjust="spacingAndGlyphs">2MASS</text><text x="46.20" y="0.00" font-size="12.30" font-style="italic" text-anchor="middle">J</text><text x="53.00" y="-0.40" font-size="12.30" textLength="8.00" lengthAdjust="spacingAndGlyphs">−</text><text x="69.45" y="0.00" font-size="12.30" font-style="italic" text-anchor="middle">K</text><text x="77.55" y="1.60" font-size="8.86" font-style="italic" text-anchor="middle">S</text><text x="85.20" y="0.00" font-size="12.30" textLength="27.50" lengthAdjust="spacingAndGlyphs">[mag]</text></g>
<g transform="translate(9.6,198.7) rotate(-90)"><text x="-0.40" y="0.00" font-size="12.30" textLength="37.60" lengthAdjust="spacingAndGlyphs">2MASS</text><text x="45.80" y="0.00" font-size="12.30" font-style="italic" text-anchor="middle">H</text><text x="55.20" y="-0.40" font-size="12.30" textLength="8.70" lengthAdjust="spacingAndGlyphs">−</text><text x="69.10" y="0.00" font-size="12.30" font-style="italic" text-anchor="middle">μ</text><text x="76.50" y="2.20" font-size="6.15" text-anchor="middle">★</text><text x="84.20" y="0.00" font-size="12.30" textLength="25.60" lengthAdjust="spacingAndGlyphs">[mag]</text></g>
<g transform="translate(430.2,195.9) rotate(-90)"><text x="-0.40" y="0.00" font-size="12.30" textLength="36.80" lengthAdjust="spacingAndGlyphs">2MASS</text><text x="44.55" y="0.00" font-size="12.30" font-style="italic" text-anchor="middle">J</text><text x="52.40" y="-0.40" font-size="12.30" textLength="8.70" lengthAdjust="spacingAndGlyphs">−</text><text x="70.15" y="0.00" font-size="12.30" font-style="italic" text-anchor="middle">H</text><text x="80.50" y="0.00" font-size="12.30" textLength="25.60" lengthAdjust="spacingAndGlyphs">[mag]</text></g></svg></body></html>
